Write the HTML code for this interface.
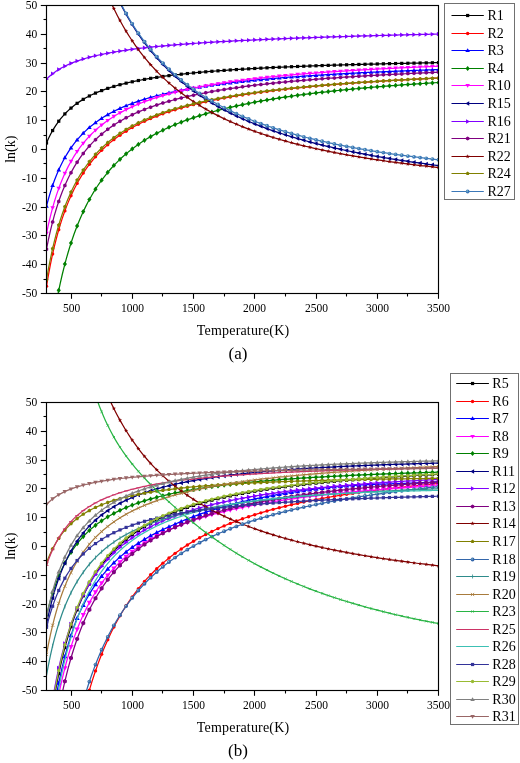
<!DOCTYPE html><html><head><meta charset="utf-8"><style>html,body{margin:0;padding:0;background:#fff;width:520px;height:763px;overflow:hidden}svg{display:block}</style></head><body>
<svg width="520" height="763" viewBox="0 0 520 763" style="font-family:'Liberation Serif','Times New Roman',serif">
<defs><clipPath id="clipa"><rect x="46.5" y="5.5" width="392.0" height="288.0"/></clipPath></defs>
<g clip-path="url(#clipa)">
<polyline points="46.50,143.00 48.47,138.56 50.44,134.56 52.41,130.92 54.38,127.60 56.35,124.57 58.32,121.78 60.29,119.20 62.26,116.82 64.23,114.61 66.20,112.55 68.17,110.64 70.14,108.84 72.11,107.16 74.08,105.58 76.05,104.10 78.02,102.70 79.99,101.38 81.96,100.13 83.93,98.95 85.90,97.82 87.87,96.76 89.84,95.74 91.81,94.78 93.78,93.86 95.75,92.98 97.72,92.14 99.69,91.33 101.66,90.57 103.63,89.83 105.60,89.12 107.57,88.44 109.54,87.79 111.51,87.17 113.47,86.56 115.44,85.98 117.41,85.42 119.38,84.88 121.35,84.36 123.32,83.86 125.29,83.37 127.26,82.90 129.23,82.45 131.20,82.01 133.17,81.58 135.14,81.17 137.11,80.77 139.08,80.38 141.05,80.01 143.02,79.64 144.99,79.29 146.96,78.94 148.93,78.61 150.90,78.28 152.87,77.97 154.84,77.66 156.81,77.36 158.78,77.07 160.75,76.78 162.72,76.50 164.69,76.23 166.66,75.97 168.63,75.71 170.60,75.46 172.57,75.22 174.54,74.98 176.51,74.74 178.48,74.52 180.45,74.29 182.42,74.08 184.39,73.86 186.36,73.65 188.33,73.45 190.30,73.25 192.27,73.06 194.24,72.86 196.21,72.68 198.18,72.49 200.15,72.31 202.12,72.14 204.09,71.97 206.06,71.80 208.03,71.63 210.00,71.47 211.97,71.31 213.94,71.15 215.91,71.00 217.88,70.85 219.85,70.70 221.82,70.56 223.79,70.42 225.76,70.28 227.73,70.14 229.70,70.00 231.67,69.87 233.64,69.74 235.61,69.61 237.58,69.49 239.55,69.36 241.52,69.24 243.48,69.12 245.45,69.01 247.42,68.89 249.39,68.78 251.36,68.66 253.33,68.55 255.30,68.45 257.27,68.34 259.24,68.23 261.21,68.13 263.18,68.03 265.15,67.93 267.12,67.83 269.09,67.73 271.06,67.64 273.03,67.54 275.00,67.45 276.97,67.36 278.94,67.27 280.91,67.18 282.88,67.09 284.85,67.00 286.82,66.92 288.79,66.83 290.76,66.75 292.73,66.67 294.70,66.59 296.67,66.51 298.64,66.43 300.61,66.35 302.58,66.27 304.55,66.20 306.52,66.12 308.49,66.05 310.46,65.98 312.43,65.91 314.40,65.83 316.37,65.76 318.34,65.70 320.31,65.63 322.28,65.56 324.25,65.49 326.22,65.43 328.19,65.36 330.16,65.30 332.13,65.23 334.10,65.17 336.07,65.11 338.04,65.05 340.01,64.99 341.98,64.93 343.95,64.87 345.92,64.81 347.89,64.75 349.86,64.70 351.83,64.64 353.80,64.58 355.77,64.53 357.74,64.47 359.71,64.42 361.68,64.37 363.65,64.31 365.62,64.26 367.59,64.21 369.56,64.16 371.53,64.11 373.49,64.06 375.46,64.01 377.43,63.96 379.40,63.91 381.37,63.86 383.34,63.82 385.31,63.77 387.28,63.72 389.25,63.68 391.22,63.63 393.19,63.58 395.16,63.54 397.13,63.50 399.10,63.45 401.07,63.41 403.04,63.37 405.01,63.32 406.98,63.28 408.95,63.24 410.92,63.20 412.89,63.16 414.86,63.12 416.83,63.08 418.80,63.04 420.77,63.00 422.74,62.96 424.71,62.92 426.68,62.88 428.65,62.84 430.62,62.81 432.59,62.77 434.56,62.73 436.53,62.69 438.50,62.66" fill="none" stroke="#000000" stroke-width="1.25"/>
<rect x="44.90" y="141.40" width="3.20" height="3.20" fill="#000000"/>
<rect x="51.02" y="128.94" width="3.20" height="3.20" fill="#000000"/>
<rect x="57.15" y="119.60" width="3.20" height="3.20" fill="#000000"/>
<rect x="63.27" y="112.32" width="3.20" height="3.20" fill="#000000"/>
<rect x="69.40" y="106.49" width="3.20" height="3.20" fill="#000000"/>
<rect x="75.53" y="101.72" width="3.20" height="3.20" fill="#000000"/>
<rect x="81.65" y="97.74" width="3.20" height="3.20" fill="#000000"/>
<rect x="87.78" y="94.38" width="3.20" height="3.20" fill="#000000"/>
<rect x="93.90" y="91.48" width="3.20" height="3.20" fill="#000000"/>
<rect x="100.03" y="88.98" width="3.20" height="3.20" fill="#000000"/>
<rect x="106.15" y="86.78" width="3.20" height="3.20" fill="#000000"/>
<rect x="112.28" y="84.84" width="3.20" height="3.20" fill="#000000"/>
<rect x="118.40" y="83.12" width="3.20" height="3.20" fill="#000000"/>
<rect x="124.53" y="81.57" width="3.20" height="3.20" fill="#000000"/>
<rect x="130.65" y="80.18" width="3.20" height="3.20" fill="#000000"/>
<rect x="136.78" y="78.92" width="3.20" height="3.20" fill="#000000"/>
<rect x="142.90" y="77.78" width="3.20" height="3.20" fill="#000000"/>
<rect x="149.03" y="76.73" width="3.20" height="3.20" fill="#000000"/>
<rect x="155.15" y="75.77" width="3.20" height="3.20" fill="#000000"/>
<rect x="161.28" y="74.88" width="3.20" height="3.20" fill="#000000"/>
<rect x="167.40" y="74.07" width="3.20" height="3.20" fill="#000000"/>
<rect x="173.53" y="73.31" width="3.20" height="3.20" fill="#000000"/>
<rect x="179.65" y="72.60" width="3.20" height="3.20" fill="#000000"/>
<rect x="185.78" y="71.95" width="3.20" height="3.20" fill="#000000"/>
<rect x="191.90" y="71.34" width="3.20" height="3.20" fill="#000000"/>
<rect x="198.03" y="70.76" width="3.20" height="3.20" fill="#000000"/>
<rect x="204.15" y="70.22" width="3.20" height="3.20" fill="#000000"/>
<rect x="210.28" y="69.72" width="3.20" height="3.20" fill="#000000"/>
<rect x="216.40" y="69.24" width="3.20" height="3.20" fill="#000000"/>
<rect x="222.53" y="68.79" width="3.20" height="3.20" fill="#000000"/>
<rect x="228.65" y="68.37" width="3.20" height="3.20" fill="#000000"/>
<rect x="234.78" y="67.96" width="3.20" height="3.20" fill="#000000"/>
<rect x="240.90" y="67.58" width="3.20" height="3.20" fill="#000000"/>
<rect x="247.03" y="67.22" width="3.20" height="3.20" fill="#000000"/>
<rect x="253.15" y="66.88" width="3.20" height="3.20" fill="#000000"/>
<rect x="259.27" y="66.55" width="3.20" height="3.20" fill="#000000"/>
<rect x="265.40" y="66.24" width="3.20" height="3.20" fill="#000000"/>
<rect x="271.52" y="65.94" width="3.20" height="3.20" fill="#000000"/>
<rect x="277.65" y="65.65" width="3.20" height="3.20" fill="#000000"/>
<rect x="283.77" y="65.38" width="3.20" height="3.20" fill="#000000"/>
<rect x="289.90" y="65.12" width="3.20" height="3.20" fill="#000000"/>
<rect x="296.02" y="64.87" width="3.20" height="3.20" fill="#000000"/>
<rect x="302.15" y="64.63" width="3.20" height="3.20" fill="#000000"/>
<rect x="308.27" y="64.40" width="3.20" height="3.20" fill="#000000"/>
<rect x="314.40" y="64.18" width="3.20" height="3.20" fill="#000000"/>
<rect x="320.52" y="63.96" width="3.20" height="3.20" fill="#000000"/>
<rect x="326.65" y="63.76" width="3.20" height="3.20" fill="#000000"/>
<rect x="332.77" y="63.56" width="3.20" height="3.20" fill="#000000"/>
<rect x="338.90" y="63.37" width="3.20" height="3.20" fill="#000000"/>
<rect x="345.02" y="63.19" width="3.20" height="3.20" fill="#000000"/>
<rect x="351.15" y="63.01" width="3.20" height="3.20" fill="#000000"/>
<rect x="357.27" y="62.84" width="3.20" height="3.20" fill="#000000"/>
<rect x="363.40" y="62.68" width="3.20" height="3.20" fill="#000000"/>
<rect x="369.52" y="62.52" width="3.20" height="3.20" fill="#000000"/>
<rect x="375.65" y="62.36" width="3.20" height="3.20" fill="#000000"/>
<rect x="381.77" y="62.21" width="3.20" height="3.20" fill="#000000"/>
<rect x="387.90" y="62.07" width="3.20" height="3.20" fill="#000000"/>
<rect x="394.02" y="61.93" width="3.20" height="3.20" fill="#000000"/>
<rect x="400.15" y="61.79" width="3.20" height="3.20" fill="#000000"/>
<rect x="406.27" y="61.66" width="3.20" height="3.20" fill="#000000"/>
<rect x="412.40" y="61.53" width="3.20" height="3.20" fill="#000000"/>
<rect x="418.52" y="61.41" width="3.20" height="3.20" fill="#000000"/>
<rect x="424.65" y="61.29" width="3.20" height="3.20" fill="#000000"/>
<rect x="430.77" y="61.17" width="3.20" height="3.20" fill="#000000"/>
<rect x="436.90" y="61.06" width="3.20" height="3.20" fill="#000000"/>
<polyline points="46.50,286.29 48.47,274.79 50.44,264.40 52.41,254.97 54.38,246.37 56.35,238.50 58.32,231.26 60.29,224.58 62.26,218.41 64.23,212.68 66.20,207.35 68.17,202.37 70.14,197.72 72.11,193.36 74.08,189.27 76.05,185.42 78.02,181.79 79.99,178.37 81.96,175.13 83.93,172.06 85.90,169.15 87.87,166.39 89.84,163.76 91.81,161.25 93.78,158.87 95.75,156.59 97.72,154.41 99.69,152.33 101.66,150.34 103.63,148.43 105.60,146.60 107.57,144.84 109.54,143.15 111.51,141.53 113.47,139.96 115.44,138.46 117.41,137.01 119.38,135.61 121.35,134.26 123.32,132.96 125.29,131.70 127.26,130.48 129.23,129.30 131.20,128.16 133.17,127.06 135.14,125.99 137.11,124.96 139.08,123.95 141.05,122.98 143.02,122.03 144.99,121.11 146.96,120.22 148.93,119.35 150.90,118.51 152.87,117.69 154.84,116.89 156.81,116.11 158.78,115.35 160.75,114.62 162.72,113.90 164.69,113.20 166.66,112.51 168.63,111.85 170.60,111.20 172.57,110.56 174.54,109.94 176.51,109.34 178.48,108.75 180.45,108.17 182.42,107.61 184.39,107.05 186.36,106.51 188.33,105.99 190.30,105.47 192.27,104.96 194.24,104.47 196.21,103.98 198.18,103.51 200.15,103.05 202.12,102.59 204.09,102.14 206.06,101.71 208.03,101.28 210.00,100.86 211.97,100.44 213.94,100.04 215.91,99.64 217.88,99.25 219.85,98.87 221.82,98.50 223.79,98.13 225.76,97.77 227.73,97.41 229.70,97.06 231.67,96.72 233.64,96.38 235.61,96.05 237.58,95.72 239.55,95.40 241.52,95.09 243.48,94.78 245.45,94.48 247.42,94.18 249.39,93.88 251.36,93.59 253.33,93.31 255.30,93.03 257.27,92.75 259.24,92.48 261.21,92.21 263.18,91.95 265.15,91.69 267.12,91.43 269.09,91.18 271.06,90.93 273.03,90.69 275.00,90.44 276.97,90.21 278.94,89.97 280.91,89.74 282.88,89.51 284.85,89.29 286.82,89.07 288.79,88.85 290.76,88.64 292.73,88.42 294.70,88.22 296.67,88.01 298.64,87.81 300.61,87.60 302.58,87.41 304.55,87.21 306.52,87.02 308.49,86.83 310.46,86.64 312.43,86.45 314.40,86.27 316.37,86.09 318.34,85.91 320.31,85.73 322.28,85.56 324.25,85.39 326.22,85.22 328.19,85.05 330.16,84.88 332.13,84.72 334.10,84.56 336.07,84.39 338.04,84.24 340.01,84.08 341.98,83.93 343.95,83.77 345.92,83.62 347.89,83.47 349.86,83.32 351.83,83.18 353.80,83.03 355.77,82.89 357.74,82.75 359.71,82.61 361.68,82.47 363.65,82.34 365.62,82.20 367.59,82.07 369.56,81.93 371.53,81.80 373.49,81.67 375.46,81.55 377.43,81.42 379.40,81.29 381.37,81.17 383.34,81.05 385.31,80.93 387.28,80.80 389.25,80.69 391.22,80.57 393.19,80.45 395.16,80.34 397.13,80.22 399.10,80.11 401.07,80.00 403.04,79.88 405.01,79.77 406.98,79.67 408.95,79.56 410.92,79.45 412.89,79.34 414.86,79.24 416.83,79.14 418.80,79.03 420.77,78.93 422.74,78.83 424.71,78.73 426.68,78.63 428.65,78.53 430.62,78.44 432.59,78.34 434.56,78.24 436.53,78.15 438.50,78.06" fill="none" stroke="#FF0000" stroke-width="1.25"/>
<circle cx="46.50" cy="286.29" r="1.70" fill="#FF0000"/>
<circle cx="52.62" cy="253.99" r="1.70" fill="#FF0000"/>
<circle cx="58.75" cy="229.75" r="1.70" fill="#FF0000"/>
<circle cx="64.88" cy="210.89" r="1.70" fill="#FF0000"/>
<circle cx="71.00" cy="195.78" r="1.70" fill="#FF0000"/>
<circle cx="77.12" cy="183.41" r="1.70" fill="#FF0000"/>
<circle cx="83.25" cy="173.10" r="1.70" fill="#FF0000"/>
<circle cx="89.38" cy="164.36" r="1.70" fill="#FF0000"/>
<circle cx="95.50" cy="156.87" r="1.70" fill="#FF0000"/>
<circle cx="101.62" cy="150.37" r="1.70" fill="#FF0000"/>
<circle cx="107.75" cy="144.68" r="1.70" fill="#FF0000"/>
<circle cx="113.88" cy="139.65" r="1.70" fill="#FF0000"/>
<circle cx="120.00" cy="135.18" r="1.70" fill="#FF0000"/>
<circle cx="126.12" cy="131.18" r="1.70" fill="#FF0000"/>
<circle cx="132.25" cy="127.57" r="1.70" fill="#FF0000"/>
<circle cx="138.38" cy="124.31" r="1.70" fill="#FF0000"/>
<circle cx="144.50" cy="121.34" r="1.70" fill="#FF0000"/>
<circle cx="150.62" cy="118.62" r="1.70" fill="#FF0000"/>
<circle cx="156.75" cy="116.14" r="1.70" fill="#FF0000"/>
<circle cx="162.88" cy="113.84" r="1.70" fill="#FF0000"/>
<circle cx="169.00" cy="111.73" r="1.70" fill="#FF0000"/>
<circle cx="175.12" cy="109.76" r="1.70" fill="#FF0000"/>
<circle cx="181.25" cy="107.94" r="1.70" fill="#FF0000"/>
<circle cx="187.38" cy="106.24" r="1.70" fill="#FF0000"/>
<circle cx="193.50" cy="104.65" r="1.70" fill="#FF0000"/>
<circle cx="199.62" cy="103.17" r="1.70" fill="#FF0000"/>
<circle cx="205.75" cy="101.77" r="1.70" fill="#FF0000"/>
<circle cx="211.88" cy="100.46" r="1.70" fill="#FF0000"/>
<circle cx="218.00" cy="99.23" r="1.70" fill="#FF0000"/>
<circle cx="224.12" cy="98.07" r="1.70" fill="#FF0000"/>
<circle cx="230.25" cy="96.96" r="1.70" fill="#FF0000"/>
<circle cx="236.38" cy="95.92" r="1.70" fill="#FF0000"/>
<circle cx="242.50" cy="94.93" r="1.70" fill="#FF0000"/>
<circle cx="248.62" cy="94.00" r="1.70" fill="#FF0000"/>
<circle cx="254.75" cy="93.10" r="1.70" fill="#FF0000"/>
<circle cx="260.88" cy="92.26" r="1.70" fill="#FF0000"/>
<circle cx="267.00" cy="91.45" r="1.70" fill="#FF0000"/>
<circle cx="273.12" cy="90.67" r="1.70" fill="#FF0000"/>
<circle cx="279.25" cy="89.94" r="1.70" fill="#FF0000"/>
<circle cx="285.38" cy="89.23" r="1.70" fill="#FF0000"/>
<circle cx="291.50" cy="88.56" r="1.70" fill="#FF0000"/>
<circle cx="297.62" cy="87.91" r="1.70" fill="#FF0000"/>
<circle cx="303.75" cy="87.29" r="1.70" fill="#FF0000"/>
<circle cx="309.88" cy="86.69" r="1.70" fill="#FF0000"/>
<circle cx="316.00" cy="86.12" r="1.70" fill="#FF0000"/>
<circle cx="322.12" cy="85.57" r="1.70" fill="#FF0000"/>
<circle cx="328.25" cy="85.04" r="1.70" fill="#FF0000"/>
<circle cx="334.38" cy="84.53" r="1.70" fill="#FF0000"/>
<circle cx="340.50" cy="84.04" r="1.70" fill="#FF0000"/>
<circle cx="346.62" cy="83.57" r="1.70" fill="#FF0000"/>
<circle cx="352.75" cy="83.11" r="1.70" fill="#FF0000"/>
<circle cx="358.88" cy="82.67" r="1.70" fill="#FF0000"/>
<circle cx="365.00" cy="82.24" r="1.70" fill="#FF0000"/>
<circle cx="371.12" cy="81.83" r="1.70" fill="#FF0000"/>
<circle cx="377.25" cy="81.43" r="1.70" fill="#FF0000"/>
<circle cx="383.38" cy="81.04" r="1.70" fill="#FF0000"/>
<circle cx="389.50" cy="80.67" r="1.70" fill="#FF0000"/>
<circle cx="395.62" cy="80.31" r="1.70" fill="#FF0000"/>
<circle cx="401.75" cy="79.96" r="1.70" fill="#FF0000"/>
<circle cx="407.88" cy="79.62" r="1.70" fill="#FF0000"/>
<circle cx="414.00" cy="79.29" r="1.70" fill="#FF0000"/>
<circle cx="420.12" cy="78.96" r="1.70" fill="#FF0000"/>
<circle cx="426.25" cy="78.65" r="1.70" fill="#FF0000"/>
<circle cx="432.38" cy="78.35" r="1.70" fill="#FF0000"/>
<circle cx="438.50" cy="78.06" r="1.70" fill="#FF0000"/>
<polyline points="46.50,206.14 48.47,198.76 50.44,192.09 52.41,186.03 54.38,180.50 56.35,175.44 58.32,170.78 60.29,166.48 62.26,162.49 64.23,158.80 66.20,155.35 68.17,152.14 70.14,149.13 72.11,146.31 74.08,143.66 76.05,141.17 78.02,138.81 79.99,136.59 81.96,134.49 83.93,132.49 85.90,130.60 87.87,128.80 89.84,127.09 91.81,125.46 93.78,123.90 95.75,122.41 97.72,120.99 99.69,119.63 101.66,118.33 103.63,117.08 105.60,115.88 107.57,114.73 109.54,113.62 111.51,112.55 113.47,111.52 115.44,110.54 117.41,109.58 119.38,108.66 121.35,107.77 123.32,106.91 125.29,106.08 127.26,105.28 129.23,104.50 131.20,103.75 133.17,103.02 135.14,102.31 137.11,101.62 139.08,100.96 141.05,100.31 143.02,99.68 144.99,99.07 146.96,98.48 148.93,97.90 150.90,97.34 152.87,96.79 154.84,96.26 156.81,95.74 158.78,95.24 160.75,94.75 162.72,94.27 164.69,93.80 166.66,93.34 168.63,92.89 170.60,92.46 172.57,92.03 174.54,91.62 176.51,91.21 178.48,90.81 180.45,90.42 182.42,90.04 184.39,89.67 186.36,89.31 188.33,88.95 190.30,88.60 192.27,88.26 194.24,87.93 196.21,87.60 198.18,87.28 200.15,86.97 202.12,86.66 204.09,86.35 206.06,86.06 208.03,85.77 210.00,85.48 211.97,85.20 213.94,84.93 215.91,84.65 217.88,84.39 219.85,84.13 221.82,83.87 223.79,83.62 225.76,83.37 227.73,83.13 229.70,82.89 231.67,82.66 233.64,82.43 235.61,82.20 237.58,81.98 239.55,81.76 241.52,81.54 243.48,81.33 245.45,81.12 247.42,80.91 249.39,80.71 251.36,80.51 253.33,80.31 255.30,80.12 257.27,79.93 259.24,79.74 261.21,79.56 263.18,79.38 265.15,79.20 267.12,79.02 269.09,78.84 271.06,78.67 273.03,78.50 275.00,78.33 276.97,78.17 278.94,78.01 280.91,77.85 282.88,77.69 284.85,77.53 286.82,77.38 288.79,77.23 290.76,77.08 292.73,76.93 294.70,76.78 296.67,76.64 298.64,76.50 300.61,76.35 302.58,76.22 304.55,76.08 306.52,75.94 308.49,75.81 310.46,75.68 312.43,75.55 314.40,75.42 316.37,75.29 318.34,75.16 320.31,75.04 322.28,74.92 324.25,74.80 326.22,74.68 328.19,74.56 330.16,74.44 332.13,74.32 334.10,74.21 336.07,74.10 338.04,73.98 340.01,73.87 341.98,73.76 343.95,73.65 345.92,73.55 347.89,73.44 349.86,73.34 351.83,73.23 353.80,73.13 355.77,73.03 357.74,72.93 359.71,72.83 361.68,72.73 363.65,72.63 365.62,72.53 367.59,72.44 369.56,72.34 371.53,72.25 373.49,72.16 375.46,72.07 377.43,71.98 379.40,71.89 381.37,71.80 383.34,71.71 385.31,71.62 387.28,71.53 389.25,71.45 391.22,71.36 393.19,71.28 395.16,71.20 397.13,71.11 399.10,71.03 401.07,70.95 403.04,70.87 405.01,70.79 406.98,70.71 408.95,70.63 410.92,70.56 412.89,70.48 414.86,70.40 416.83,70.33 418.80,70.25 420.77,70.18 422.74,70.11 424.71,70.03 426.68,69.96 428.65,69.89 430.62,69.82 432.59,69.75 434.56,69.68 436.53,69.61 438.50,69.54" fill="none" stroke="#0000FF" stroke-width="1.25"/>
<path d="M46.50,203.84L48.80,207.74L44.20,207.74Z" fill="#0000FF"/>
<path d="M52.62,183.10L54.92,187.00L50.33,187.00Z" fill="#0000FF"/>
<path d="M58.75,167.51L61.05,171.41L56.45,171.41Z" fill="#0000FF"/>
<path d="M64.88,155.34L67.17,159.24L62.58,159.24Z" fill="#0000FF"/>
<path d="M71.00,145.58L73.30,149.48L68.70,149.48Z" fill="#0000FF"/>
<path d="M77.12,137.56L79.42,141.46L74.83,141.46Z" fill="#0000FF"/>
<path d="M83.25,130.87L85.55,134.77L80.95,134.77Z" fill="#0000FF"/>
<path d="M89.38,125.18L91.67,129.08L87.08,129.08Z" fill="#0000FF"/>
<path d="M95.50,120.30L97.80,124.20L93.20,124.20Z" fill="#0000FF"/>
<path d="M101.62,116.05L103.92,119.95L99.33,119.95Z" fill="#0000FF"/>
<path d="M107.75,112.32L110.05,116.22L105.45,116.22Z" fill="#0000FF"/>
<path d="M113.88,109.02L116.17,112.92L111.58,112.92Z" fill="#0000FF"/>
<path d="M120.00,106.08L122.30,109.98L117.70,109.98Z" fill="#0000FF"/>
<path d="M126.12,103.44L128.43,107.34L123.83,107.34Z" fill="#0000FF"/>
<path d="M132.25,101.06L134.55,104.96L129.95,104.96Z" fill="#0000FF"/>
<path d="M138.38,98.90L140.68,102.80L136.07,102.80Z" fill="#0000FF"/>
<path d="M144.50,96.92L146.80,100.82L142.20,100.82Z" fill="#0000FF"/>
<path d="M150.62,95.12L152.93,99.02L148.32,99.02Z" fill="#0000FF"/>
<path d="M156.75,93.46L159.05,97.36L154.45,97.36Z" fill="#0000FF"/>
<path d="M162.88,91.93L165.18,95.83L160.57,95.83Z" fill="#0000FF"/>
<path d="M169.00,90.51L171.30,94.41L166.70,94.41Z" fill="#0000FF"/>
<path d="M175.12,89.19L177.43,93.09L172.82,93.09Z" fill="#0000FF"/>
<path d="M181.25,87.97L183.55,91.87L178.95,91.87Z" fill="#0000FF"/>
<path d="M187.38,86.82L189.68,90.72L185.07,90.72Z" fill="#0000FF"/>
<path d="M193.50,85.75L195.80,89.65L191.20,89.65Z" fill="#0000FF"/>
<path d="M199.62,84.75L201.93,88.65L197.32,88.65Z" fill="#0000FF"/>
<path d="M205.75,83.80L208.05,87.70L203.45,87.70Z" fill="#0000FF"/>
<path d="M211.88,82.91L214.18,86.81L209.57,86.81Z" fill="#0000FF"/>
<path d="M218.00,82.07L220.30,85.97L215.70,85.97Z" fill="#0000FF"/>
<path d="M224.12,81.28L226.43,85.18L221.82,85.18Z" fill="#0000FF"/>
<path d="M230.25,80.53L232.55,84.43L227.95,84.43Z" fill="#0000FF"/>
<path d="M236.38,79.81L238.68,83.71L234.07,83.71Z" fill="#0000FF"/>
<path d="M242.50,79.13L244.80,83.03L240.20,83.03Z" fill="#0000FF"/>
<path d="M248.62,78.49L250.93,82.39L246.32,82.39Z" fill="#0000FF"/>
<path d="M254.75,77.88L257.05,81.78L252.45,81.78Z" fill="#0000FF"/>
<path d="M260.88,77.29L263.18,81.19L258.57,81.19Z" fill="#0000FF"/>
<path d="M267.00,76.73L269.30,80.63L264.70,80.63Z" fill="#0000FF"/>
<path d="M273.12,76.19L275.43,80.09L270.82,80.09Z" fill="#0000FF"/>
<path d="M279.25,75.68L281.55,79.58L276.95,79.58Z" fill="#0000FF"/>
<path d="M285.38,75.19L287.68,79.09L283.07,79.09Z" fill="#0000FF"/>
<path d="M291.50,74.72L293.80,78.62L289.20,78.62Z" fill="#0000FF"/>
<path d="M297.62,74.27L299.93,78.17L295.32,78.17Z" fill="#0000FF"/>
<path d="M303.75,73.83L306.05,77.73L301.45,77.73Z" fill="#0000FF"/>
<path d="M309.88,73.42L312.18,77.32L307.57,77.32Z" fill="#0000FF"/>
<path d="M316.00,73.01L318.30,76.91L313.70,76.91Z" fill="#0000FF"/>
<path d="M322.12,72.63L324.43,76.53L319.82,76.53Z" fill="#0000FF"/>
<path d="M328.25,72.25L330.55,76.15L325.95,76.15Z" fill="#0000FF"/>
<path d="M334.38,71.89L336.68,75.79L332.07,75.79Z" fill="#0000FF"/>
<path d="M340.50,71.54L342.80,75.44L338.20,75.44Z" fill="#0000FF"/>
<path d="M346.62,71.21L348.93,75.11L344.32,75.11Z" fill="#0000FF"/>
<path d="M352.75,70.88L355.05,74.78L350.45,74.78Z" fill="#0000FF"/>
<path d="M358.88,70.57L361.18,74.47L356.57,74.47Z" fill="#0000FF"/>
<path d="M365.00,70.26L367.30,74.16L362.70,74.16Z" fill="#0000FF"/>
<path d="M371.12,69.97L373.43,73.87L368.82,73.87Z" fill="#0000FF"/>
<path d="M377.25,69.68L379.55,73.58L374.95,73.58Z" fill="#0000FF"/>
<path d="M383.38,69.41L385.68,73.31L381.07,73.31Z" fill="#0000FF"/>
<path d="M389.50,69.14L391.80,73.04L387.20,73.04Z" fill="#0000FF"/>
<path d="M395.62,68.88L397.93,72.78L393.32,72.78Z" fill="#0000FF"/>
<path d="M401.75,68.62L404.05,72.52L399.45,72.52Z" fill="#0000FF"/>
<path d="M407.88,68.38L410.18,72.28L405.57,72.28Z" fill="#0000FF"/>
<path d="M414.00,68.14L416.30,72.04L411.70,72.04Z" fill="#0000FF"/>
<path d="M420.12,67.90L422.43,71.80L417.82,71.80Z" fill="#0000FF"/>
<path d="M426.25,67.68L428.55,71.58L423.95,71.58Z" fill="#0000FF"/>
<path d="M432.38,67.46L434.68,71.36L430.07,71.36Z" fill="#0000FF"/>
<path d="M438.50,67.24L440.80,71.14L436.20,71.14Z" fill="#0000FF"/>
<polyline points="46.50,369.10 48.47,353.06 50.44,338.57 52.41,325.42 54.38,313.43 56.35,302.46 58.32,292.38 60.29,283.09 62.26,274.50 64.23,266.53 66.20,259.12 68.17,252.21 70.14,245.75 72.11,239.70 74.08,234.02 76.05,228.68 78.02,223.65 79.99,218.91 81.96,214.42 83.93,210.17 85.90,206.14 87.87,202.32 89.84,198.69 91.81,195.23 93.78,191.93 95.75,188.79 97.72,185.78 99.69,182.91 101.66,180.16 103.63,177.53 105.60,175.01 107.57,172.59 109.54,170.26 111.51,168.03 113.47,165.88 115.44,163.81 117.41,161.82 119.38,159.90 121.35,158.05 123.32,156.26 125.29,154.53 127.26,152.86 129.23,151.25 131.20,149.69 133.17,148.18 135.14,146.72 137.11,145.30 139.08,143.93 141.05,142.60 143.02,141.30 144.99,140.05 146.96,138.83 148.93,137.65 150.90,136.50 152.87,135.38 154.84,134.29 156.81,133.23 158.78,132.20 160.75,131.20 162.72,130.22 164.69,129.27 166.66,128.34 168.63,127.44 170.60,126.56 172.57,125.70 174.54,124.86 176.51,124.04 178.48,123.23 180.45,122.45 182.42,121.69 184.39,120.94 186.36,120.21 188.33,119.50 190.30,118.80 192.27,118.12 194.24,117.45 196.21,116.80 198.18,116.16 200.15,115.53 202.12,114.91 204.09,114.31 206.06,113.72 208.03,113.15 210.00,112.58 211.97,112.03 213.94,111.48 215.91,110.95 217.88,110.43 219.85,109.91 221.82,109.41 223.79,108.92 225.76,108.43 227.73,107.96 229.70,107.49 231.67,107.03 233.64,106.58 235.61,106.14 237.58,105.70 239.55,105.27 241.52,104.85 243.48,104.44 245.45,104.03 247.42,103.63 249.39,103.24 251.36,102.86 253.33,102.48 255.30,102.10 257.27,101.73 259.24,101.37 261.21,101.02 263.18,100.67 265.15,100.32 267.12,99.98 269.09,99.65 271.06,99.32 273.03,98.99 275.00,98.67 276.97,98.36 278.94,98.05 280.91,97.74 282.88,97.44 284.85,97.15 286.82,96.85 288.79,96.57 290.76,96.28 292.73,96.00 294.70,95.73 296.67,95.45 298.64,95.18 300.61,94.92 302.58,94.66 304.55,94.40 306.52,94.15 308.49,93.90 310.46,93.65 312.43,93.40 314.40,93.16 316.37,92.93 318.34,92.69 320.31,92.46 322.28,92.23 324.25,92.01 326.22,91.78 328.19,91.56 330.16,91.34 332.13,91.13 334.10,90.92 336.07,90.71 338.04,90.50 340.01,90.30 341.98,90.10 343.95,89.90 345.92,89.70 347.89,89.50 349.86,89.31 351.83,89.12 353.80,88.93 355.77,88.75 357.74,88.56 359.71,88.38 361.68,88.20 363.65,88.03 365.62,87.85 367.59,87.68 369.56,87.51 371.53,87.34 373.49,87.17 375.46,87.00 377.43,86.84 379.40,86.68 381.37,86.51 383.34,86.36 385.31,86.20 387.28,86.04 389.25,85.89 391.22,85.74 393.19,85.59 395.16,85.44 397.13,85.29 399.10,85.14 401.07,85.00 403.04,84.86 405.01,84.71 406.98,84.57 408.95,84.44 410.92,84.30 412.89,84.16 414.86,84.03 416.83,83.89 418.80,83.76 420.77,83.63 422.74,83.50 424.71,83.37 426.68,83.25 428.65,83.12 430.62,83.00 432.59,82.87 434.56,82.75 436.53,82.63 438.50,82.51" fill="none" stroke="#008000" stroke-width="1.25"/>
<path d="M58.75,287.68L60.85,290.28L58.75,292.88L56.65,290.28Z" fill="#008000"/>
<path d="M64.88,261.44L66.97,264.04L64.88,266.64L62.77,264.04Z" fill="#008000"/>
<path d="M71.00,240.45L73.10,243.05L71.00,245.65L68.90,243.05Z" fill="#008000"/>
<path d="M77.12,223.30L79.22,225.90L77.12,228.50L75.03,225.90Z" fill="#008000"/>
<path d="M83.25,209.01L85.35,211.61L83.25,214.21L81.15,211.61Z" fill="#008000"/>
<path d="M89.38,196.92L91.47,199.52L89.38,202.12L87.28,199.52Z" fill="#008000"/>
<path d="M95.50,186.57L97.60,189.17L95.50,191.77L93.40,189.17Z" fill="#008000"/>
<path d="M101.62,177.61L103.72,180.21L101.62,182.81L99.53,180.21Z" fill="#008000"/>
<path d="M107.75,169.77L109.85,172.37L107.75,174.97L105.65,172.37Z" fill="#008000"/>
<path d="M113.88,162.85L115.97,165.45L113.88,168.05L111.78,165.45Z" fill="#008000"/>
<path d="M120.00,156.71L122.10,159.31L120.00,161.91L117.90,159.31Z" fill="#008000"/>
<path d="M126.12,151.22L128.22,153.82L126.12,156.42L124.03,153.82Z" fill="#008000"/>
<path d="M132.25,146.28L134.35,148.88L132.25,151.48L130.15,148.88Z" fill="#008000"/>
<path d="M138.38,141.82L140.47,144.42L138.38,147.02L136.28,144.42Z" fill="#008000"/>
<path d="M144.50,137.76L146.60,140.36L144.50,142.96L142.40,140.36Z" fill="#008000"/>
<path d="M150.62,134.06L152.72,136.66L150.62,139.26L148.53,136.66Z" fill="#008000"/>
<path d="M156.75,130.67L158.85,133.27L156.75,135.87L154.65,133.27Z" fill="#008000"/>
<path d="M162.88,127.55L164.97,130.15L162.88,132.75L160.78,130.15Z" fill="#008000"/>
<path d="M169.00,124.67L171.10,127.27L169.00,129.87L166.90,127.27Z" fill="#008000"/>
<path d="M175.12,122.01L177.22,124.61L175.12,127.21L173.03,124.61Z" fill="#008000"/>
<path d="M181.25,119.54L183.35,122.14L181.25,124.74L179.15,122.14Z" fill="#008000"/>
<path d="M187.38,117.24L189.47,119.84L187.38,122.44L185.28,119.84Z" fill="#008000"/>
<path d="M193.50,115.10L195.60,117.70L193.50,120.30L191.40,117.70Z" fill="#008000"/>
<path d="M199.62,113.09L201.72,115.69L199.62,118.29L197.53,115.69Z" fill="#008000"/>
<path d="M205.75,111.22L207.85,113.82L205.75,116.42L203.65,113.82Z" fill="#008000"/>
<path d="M211.88,109.45L213.97,112.05L211.88,114.65L209.78,112.05Z" fill="#008000"/>
<path d="M218.00,107.80L220.10,110.40L218.00,113.00L215.90,110.40Z" fill="#008000"/>
<path d="M224.12,106.23L226.22,108.83L224.12,111.43L222.03,108.83Z" fill="#008000"/>
<path d="M230.25,104.76L232.35,107.36L230.25,109.96L228.15,107.36Z" fill="#008000"/>
<path d="M236.38,103.36L238.47,105.96L236.38,108.56L234.28,105.96Z" fill="#008000"/>
<path d="M242.50,102.05L244.60,104.65L242.50,107.25L240.40,104.65Z" fill="#008000"/>
<path d="M248.62,100.79L250.72,103.39L248.62,105.99L246.53,103.39Z" fill="#008000"/>
<path d="M254.75,99.61L256.85,102.21L254.75,104.81L252.65,102.21Z" fill="#008000"/>
<path d="M260.88,98.48L262.98,101.08L260.88,103.68L258.77,101.08Z" fill="#008000"/>
<path d="M267.00,97.40L269.10,100.00L267.00,102.60L264.90,100.00Z" fill="#008000"/>
<path d="M273.12,96.38L275.23,98.98L273.12,101.58L271.02,98.98Z" fill="#008000"/>
<path d="M279.25,95.40L281.35,98.00L279.25,100.60L277.15,98.00Z" fill="#008000"/>
<path d="M285.38,94.47L287.48,97.07L285.38,99.67L283.27,97.07Z" fill="#008000"/>
<path d="M291.50,93.58L293.60,96.18L291.50,98.78L289.40,96.18Z" fill="#008000"/>
<path d="M297.62,92.72L299.73,95.32L297.62,97.92L295.52,95.32Z" fill="#008000"/>
<path d="M303.75,91.91L305.85,94.51L303.75,97.11L301.65,94.51Z" fill="#008000"/>
<path d="M309.88,91.12L311.98,93.72L309.88,96.32L307.77,93.72Z" fill="#008000"/>
<path d="M316.00,90.37L318.10,92.97L316.00,95.57L313.90,92.97Z" fill="#008000"/>
<path d="M322.12,89.65L324.23,92.25L322.12,94.85L320.02,92.25Z" fill="#008000"/>
<path d="M328.25,88.96L330.35,91.56L328.25,94.16L326.15,91.56Z" fill="#008000"/>
<path d="M334.38,88.29L336.48,90.89L334.38,93.49L332.27,90.89Z" fill="#008000"/>
<path d="M340.50,87.65L342.60,90.25L340.50,92.85L338.40,90.25Z" fill="#008000"/>
<path d="M346.62,87.03L348.73,89.63L346.62,92.23L344.52,89.63Z" fill="#008000"/>
<path d="M352.75,86.43L354.85,89.03L352.75,91.63L350.65,89.03Z" fill="#008000"/>
<path d="M358.88,85.86L360.98,88.46L358.88,91.06L356.77,88.46Z" fill="#008000"/>
<path d="M365.00,85.30L367.10,87.90L365.00,90.50L362.90,87.90Z" fill="#008000"/>
<path d="M371.12,84.77L373.23,87.37L371.12,89.97L369.02,87.37Z" fill="#008000"/>
<path d="M377.25,84.25L379.35,86.85L377.25,89.45L375.15,86.85Z" fill="#008000"/>
<path d="M383.38,83.75L385.48,86.35L383.38,88.95L381.27,86.35Z" fill="#008000"/>
<path d="M389.50,83.27L391.60,85.87L389.50,88.47L387.40,85.87Z" fill="#008000"/>
<path d="M395.62,82.80L397.73,85.40L395.62,88.00L393.52,85.40Z" fill="#008000"/>
<path d="M401.75,82.35L403.85,84.95L401.75,87.55L399.65,84.95Z" fill="#008000"/>
<path d="M407.88,81.91L409.98,84.51L407.88,87.11L405.77,84.51Z" fill="#008000"/>
<path d="M414.00,81.49L416.10,84.09L414.00,86.69L411.90,84.09Z" fill="#008000"/>
<path d="M420.12,81.08L422.23,83.68L420.12,86.28L418.02,83.68Z" fill="#008000"/>
<path d="M426.25,80.68L428.35,83.28L426.25,85.88L424.15,83.28Z" fill="#008000"/>
<path d="M432.38,80.29L434.48,82.89L432.38,85.49L430.27,82.89Z" fill="#008000"/>
<path d="M438.50,79.91L440.60,82.51L438.50,85.11L436.40,82.51Z" fill="#008000"/>
<polyline points="46.50,233.43 48.47,224.29 50.44,216.03 52.41,208.53 54.38,201.69 56.35,195.42 58.32,189.66 60.29,184.34 62.26,179.42 64.23,174.85 66.20,170.60 68.17,166.64 70.14,162.93 72.11,159.45 74.08,156.18 76.05,153.11 78.02,150.21 79.99,147.47 81.96,144.89 83.93,142.43 85.90,140.10 87.87,137.89 89.84,135.79 91.81,133.78 93.78,131.87 95.75,130.05 97.72,128.30 99.69,126.64 101.66,125.04 103.63,123.51 105.60,122.04 107.57,120.63 109.54,119.27 111.51,117.97 113.47,116.71 115.44,115.50 117.41,114.33 119.38,113.21 121.35,112.12 123.32,111.08 125.29,110.06 127.26,109.08 129.23,108.13 131.20,107.22 133.17,106.33 135.14,105.47 137.11,104.63 139.08,103.82 141.05,103.03 143.02,102.27 144.99,101.53 146.96,100.81 148.93,100.11 150.90,99.42 152.87,98.76 154.84,98.11 156.81,97.49 158.78,96.87 160.75,96.28 162.72,95.69 164.69,95.13 166.66,94.57 168.63,94.03 170.60,93.51 172.57,92.99 174.54,92.49 176.51,92.00 178.48,91.52 180.45,91.05 182.42,90.59 184.39,90.14 186.36,89.70 188.33,89.28 190.30,88.85 192.27,88.44 194.24,88.04 196.21,87.65 198.18,87.26 200.15,86.88 202.12,86.51 204.09,86.15 206.06,85.79 208.03,85.44 210.00,85.10 211.97,84.76 213.94,84.43 215.91,84.11 217.88,83.79 219.85,83.48 221.82,83.17 223.79,82.87 225.76,82.57 227.73,82.28 229.70,82.00 231.67,81.72 233.64,81.44 235.61,81.17 237.58,80.90 239.55,80.64 241.52,80.38 243.48,80.13 245.45,79.88 247.42,79.63 249.39,79.39 251.36,79.15 253.33,78.92 255.30,78.69 257.27,78.46 259.24,78.24 261.21,78.02 263.18,77.80 265.15,77.59 267.12,77.38 269.09,77.17 271.06,76.96 273.03,76.76 275.00,76.56 276.97,76.37 278.94,76.18 280.91,75.98 282.88,75.80 284.85,75.61 286.82,75.43 288.79,75.25 290.76,75.07 292.73,74.90 294.70,74.72 296.67,74.55 298.64,74.38 300.61,74.22 302.58,74.05 304.55,73.89 306.52,73.73 308.49,73.57 310.46,73.42 312.43,73.27 314.40,73.11 316.37,72.96 318.34,72.81 320.31,72.67 322.28,72.52 324.25,72.38 326.22,72.24 328.19,72.10 330.16,71.96 332.13,71.83 334.10,71.69 336.07,71.56 338.04,71.43 340.01,71.30 341.98,71.17 343.95,71.04 345.92,70.91 347.89,70.79 349.86,70.67 351.83,70.54 353.80,70.42 355.77,70.30 357.74,70.19 359.71,70.07 361.68,69.96 363.65,69.84 365.62,69.73 367.59,69.62 369.56,69.51 371.53,69.40 373.49,69.29 375.46,69.18 377.43,69.08 379.40,68.97 381.37,68.87 383.34,68.76 385.31,68.66 387.28,68.56 389.25,68.46 391.22,68.36 393.19,68.26 395.16,68.17 397.13,68.07 399.10,67.98 401.07,67.88 403.04,67.79 405.01,67.70 406.98,67.61 408.95,67.51 410.92,67.42 412.89,67.34 414.86,67.25 416.83,67.16 418.80,67.07 420.77,66.99 422.74,66.90 424.71,66.82 426.68,66.74 428.65,66.65 430.62,66.57 432.59,66.49 434.56,66.41 436.53,66.33 438.50,66.25" fill="none" stroke="#FF00FF" stroke-width="1.25"/>
<path d="M46.50,235.73L48.80,231.83L44.20,231.83Z" fill="#FF00FF"/>
<path d="M52.62,210.05L54.92,206.15L50.33,206.15Z" fill="#FF00FF"/>
<path d="M58.75,190.76L61.05,186.86L56.45,186.86Z" fill="#FF00FF"/>
<path d="M64.88,175.73L67.17,171.83L62.58,171.83Z" fill="#FF00FF"/>
<path d="M71.00,163.68L73.30,159.78L68.70,159.78Z" fill="#FF00FF"/>
<path d="M77.12,153.80L79.42,149.90L74.83,149.90Z" fill="#FF00FF"/>
<path d="M83.25,145.56L85.55,141.66L80.95,141.66Z" fill="#FF00FF"/>
<path d="M89.38,138.57L91.67,134.67L87.08,134.67Z" fill="#FF00FF"/>
<path d="M95.50,132.57L97.80,128.67L93.20,128.67Z" fill="#FF00FF"/>
<path d="M101.62,127.36L103.92,123.46L99.33,123.46Z" fill="#FF00FF"/>
<path d="M107.75,122.80L110.05,118.90L105.45,118.90Z" fill="#FF00FF"/>
<path d="M113.88,118.76L116.17,114.86L111.58,114.86Z" fill="#FF00FF"/>
<path d="M120.00,115.17L122.30,111.27L117.70,111.27Z" fill="#FF00FF"/>
<path d="M126.12,111.95L128.43,108.05L123.83,108.05Z" fill="#FF00FF"/>
<path d="M132.25,109.04L134.55,105.14L129.95,105.14Z" fill="#FF00FF"/>
<path d="M138.38,106.41L140.68,102.51L136.07,102.51Z" fill="#FF00FF"/>
<path d="M144.50,104.01L146.80,100.11L142.20,100.11Z" fill="#FF00FF"/>
<path d="M150.62,101.82L152.93,97.92L148.32,97.92Z" fill="#FF00FF"/>
<path d="M156.75,99.81L159.05,95.91L154.45,95.91Z" fill="#FF00FF"/>
<path d="M162.88,97.95L165.18,94.05L160.57,94.05Z" fill="#FF00FF"/>
<path d="M169.00,96.23L171.30,92.33L166.70,92.33Z" fill="#FF00FF"/>
<path d="M175.12,94.64L177.43,90.74L172.82,90.74Z" fill="#FF00FF"/>
<path d="M181.25,93.16L183.55,89.26L178.95,89.26Z" fill="#FF00FF"/>
<path d="M187.38,91.78L189.68,87.88L185.07,87.88Z" fill="#FF00FF"/>
<path d="M193.50,90.49L195.80,86.59L191.20,86.59Z" fill="#FF00FF"/>
<path d="M199.62,89.28L201.93,85.38L197.32,85.38Z" fill="#FF00FF"/>
<path d="M205.75,88.15L208.05,84.25L203.45,84.25Z" fill="#FF00FF"/>
<path d="M211.88,87.08L214.18,83.18L209.57,83.18Z" fill="#FF00FF"/>
<path d="M218.00,86.07L220.30,82.17L215.70,82.17Z" fill="#FF00FF"/>
<path d="M224.12,85.12L226.43,81.22L221.82,81.22Z" fill="#FF00FF"/>
<path d="M230.25,84.22L232.55,80.32L227.95,80.32Z" fill="#FF00FF"/>
<path d="M236.38,83.36L238.68,79.46L234.07,79.46Z" fill="#FF00FF"/>
<path d="M242.50,82.55L244.80,78.65L240.20,78.65Z" fill="#FF00FF"/>
<path d="M248.62,81.78L250.93,77.88L246.32,77.88Z" fill="#FF00FF"/>
<path d="M254.75,81.05L257.05,77.15L252.45,77.15Z" fill="#FF00FF"/>
<path d="M260.88,80.35L263.18,76.45L258.57,76.45Z" fill="#FF00FF"/>
<path d="M267.00,79.69L269.30,75.79L264.70,75.79Z" fill="#FF00FF"/>
<path d="M273.12,79.05L275.43,75.15L270.82,75.15Z" fill="#FF00FF"/>
<path d="M279.25,78.45L281.55,74.55L276.95,74.55Z" fill="#FF00FF"/>
<path d="M285.38,77.86L287.68,73.96L283.07,73.96Z" fill="#FF00FF"/>
<path d="M291.50,77.31L293.80,73.41L289.20,73.41Z" fill="#FF00FF"/>
<path d="M297.62,76.77L299.93,72.87L295.32,72.87Z" fill="#FF00FF"/>
<path d="M303.75,76.26L306.05,72.36L301.45,72.36Z" fill="#FF00FF"/>
<path d="M309.88,75.77L312.18,71.87L307.57,71.87Z" fill="#FF00FF"/>
<path d="M316.00,75.29L318.30,71.39L313.70,71.39Z" fill="#FF00FF"/>
<path d="M322.12,74.83L324.43,70.93L319.82,70.93Z" fill="#FF00FF"/>
<path d="M328.25,74.40L330.55,70.50L325.95,70.50Z" fill="#FF00FF"/>
<path d="M334.38,73.97L336.68,70.07L332.07,70.07Z" fill="#FF00FF"/>
<path d="M340.50,73.56L342.80,69.66L338.20,69.66Z" fill="#FF00FF"/>
<path d="M346.62,73.17L348.93,69.27L344.32,69.27Z" fill="#FF00FF"/>
<path d="M352.75,72.79L355.05,68.89L350.45,68.89Z" fill="#FF00FF"/>
<path d="M358.88,72.42L361.18,68.52L356.57,68.52Z" fill="#FF00FF"/>
<path d="M365.00,72.06L367.30,68.16L362.70,68.16Z" fill="#FF00FF"/>
<path d="M371.12,71.72L373.43,67.82L368.82,67.82Z" fill="#FF00FF"/>
<path d="M377.25,71.39L379.55,67.49L374.95,67.49Z" fill="#FF00FF"/>
<path d="M383.38,71.06L385.68,67.16L381.07,67.16Z" fill="#FF00FF"/>
<path d="M389.50,70.75L391.80,66.85L387.20,66.85Z" fill="#FF00FF"/>
<path d="M395.62,70.45L397.93,66.55L393.32,66.55Z" fill="#FF00FF"/>
<path d="M401.75,70.15L404.05,66.25L399.45,66.25Z" fill="#FF00FF"/>
<path d="M407.88,69.86L410.18,65.96L405.57,65.96Z" fill="#FF00FF"/>
<path d="M414.00,69.59L416.30,65.69L411.70,65.69Z" fill="#FF00FF"/>
<path d="M420.12,69.32L422.43,65.42L417.82,65.42Z" fill="#FF00FF"/>
<path d="M426.25,69.05L428.55,65.15L423.95,65.15Z" fill="#FF00FF"/>
<path d="M432.38,68.80L434.68,64.90L430.07,64.90Z" fill="#FF00FF"/>
<path d="M438.50,68.55L440.80,64.65L436.20,64.65Z" fill="#FF00FF"/>
<polyline points="46.50,-423.76 48.47,-392.37 50.44,-363.84 52.41,-337.81 54.38,-313.96 56.35,-292.02 58.32,-271.79 60.29,-253.06 62.26,-235.68 64.23,-219.51 66.20,-204.43 68.17,-190.32 70.14,-177.11 72.11,-164.70 74.08,-153.04 76.05,-142.04 78.02,-131.66 79.99,-121.85 81.96,-112.56 83.93,-103.75 85.90,-95.38 87.87,-87.43 89.84,-79.86 91.81,-72.65 93.78,-65.77 95.75,-59.20 97.72,-52.92 99.69,-46.91 101.66,-41.15 103.63,-35.63 105.60,-30.33 107.57,-25.25 109.54,-20.36 111.51,-15.66 113.47,-11.13 115.44,-6.77 117.41,-2.58 119.38,1.48 121.35,5.38 123.32,9.16 125.29,12.80 127.26,16.33 129.23,19.74 131.20,23.04 133.17,26.23 135.14,29.33 137.11,32.33 139.08,35.24 141.05,38.06 143.02,40.80 144.99,43.46 146.96,46.04 148.93,48.55 150.90,50.99 152.87,53.37 154.84,55.67 156.81,57.92 158.78,60.11 160.75,62.24 162.72,64.31 164.69,66.34 166.66,68.31 168.63,70.23 170.60,72.11 172.57,73.94 174.54,75.72 176.51,77.47 178.48,79.17 180.45,80.83 182.42,82.46 184.39,84.04 186.36,85.60 188.33,87.12 190.30,88.60 192.27,90.05 194.24,91.47 196.21,92.86 198.18,94.23 200.15,95.56 202.12,96.87 204.09,98.14 206.06,99.40 208.03,100.63 210.00,101.83 211.97,103.01 213.94,104.17 215.91,105.30 217.88,106.41 219.85,107.50 221.82,108.58 223.79,109.63 225.76,110.66 227.73,111.67 229.70,112.67 231.67,113.64 233.64,114.60 235.61,115.54 237.58,116.47 239.55,117.38 241.52,118.27 243.48,119.15 245.45,120.01 247.42,120.86 249.39,121.70 251.36,122.52 253.33,123.33 255.30,124.12 257.27,124.90 259.24,125.67 261.21,126.43 263.18,127.17 265.15,127.91 267.12,128.63 269.09,129.34 271.06,130.04 273.03,130.73 275.00,131.40 276.97,132.07 278.94,132.73 280.91,133.38 282.88,134.02 284.85,134.65 286.82,135.27 288.79,135.88 290.76,136.48 292.73,137.08 294.70,137.66 296.67,138.24 298.64,138.81 300.61,139.37 302.58,139.92 304.55,140.47 306.52,141.01 308.49,141.54 310.46,142.06 312.43,142.58 314.40,143.09 316.37,143.59 318.34,144.09 320.31,144.58 322.28,145.07 324.25,145.54 326.22,146.02 328.19,146.48 330.16,146.94 332.13,147.40 334.10,147.84 336.07,148.29 338.04,148.73 340.01,149.16 341.98,149.58 343.95,150.01 345.92,150.42 347.89,150.83 349.86,151.24 351.83,151.64 353.80,152.04 355.77,152.43 357.74,152.82 359.71,153.20 361.68,153.58 363.65,153.96 365.62,154.33 367.59,154.69 369.56,155.05 371.53,155.41 373.49,155.77 375.46,156.12 377.43,156.46 379.40,156.80 381.37,157.14 383.34,157.48 385.31,157.81 387.28,158.14 389.25,158.46 391.22,158.78 393.19,159.10 395.16,159.41 397.13,159.72 399.10,160.03 401.07,160.33 403.04,160.63 405.01,160.93 406.98,161.22 408.95,161.52 410.92,161.80 412.89,162.09 414.86,162.37 416.83,162.65 418.80,162.93 420.77,163.20 422.74,163.48 424.71,163.74 426.68,164.01 428.65,164.27 430.62,164.54 432.59,164.79 434.56,165.05 436.53,165.30 438.50,165.56" fill="none" stroke="#000080" stroke-width="1.25"/>
<path d="M117.70,2.71L121.60,0.41L121.60,5.01Z" fill="#000080"/>
<path d="M123.83,14.31L127.72,12.01L127.72,16.61Z" fill="#000080"/>
<path d="M129.95,24.75L133.85,22.45L133.85,27.05Z" fill="#000080"/>
<path d="M136.07,34.20L139.97,31.90L139.97,36.50Z" fill="#000080"/>
<path d="M142.20,42.80L146.10,40.50L146.10,45.10Z" fill="#000080"/>
<path d="M148.32,50.65L152.22,48.35L152.22,52.95Z" fill="#000080"/>
<path d="M154.45,57.85L158.35,55.55L158.35,60.15Z" fill="#000080"/>
<path d="M160.57,64.47L164.47,62.17L164.47,66.77Z" fill="#000080"/>
<path d="M166.70,70.59L170.60,68.29L170.60,72.89Z" fill="#000080"/>
<path d="M172.82,76.24L176.72,73.94L176.72,78.54Z" fill="#000080"/>
<path d="M178.95,81.50L182.85,79.20L182.85,83.80Z" fill="#000080"/>
<path d="M185.07,86.38L188.97,84.08L188.97,88.68Z" fill="#000080"/>
<path d="M191.20,90.94L195.10,88.64L195.10,93.24Z" fill="#000080"/>
<path d="M197.32,95.21L201.22,92.91L201.22,97.51Z" fill="#000080"/>
<path d="M203.45,99.20L207.35,96.90L207.35,101.50Z" fill="#000080"/>
<path d="M209.57,102.95L213.47,100.65L213.47,105.25Z" fill="#000080"/>
<path d="M215.70,106.48L219.60,104.18L219.60,108.78Z" fill="#000080"/>
<path d="M221.82,109.81L225.72,107.51L225.72,112.11Z" fill="#000080"/>
<path d="M227.95,112.94L231.85,110.64L231.85,115.24Z" fill="#000080"/>
<path d="M234.07,115.91L237.97,113.61L237.97,118.21Z" fill="#000080"/>
<path d="M240.20,118.71L244.10,116.41L244.10,121.01Z" fill="#000080"/>
<path d="M246.32,121.37L250.22,119.07L250.22,123.67Z" fill="#000080"/>
<path d="M252.45,123.90L256.35,121.60L256.35,126.20Z" fill="#000080"/>
<path d="M258.57,126.30L262.48,124.00L262.48,128.60Z" fill="#000080"/>
<path d="M264.70,128.58L268.60,126.28L268.60,130.88Z" fill="#000080"/>
<path d="M270.82,130.76L274.73,128.46L274.73,133.06Z" fill="#000080"/>
<path d="M276.95,132.83L280.85,130.53L280.85,135.13Z" fill="#000080"/>
<path d="M283.07,134.81L286.98,132.51L286.98,137.11Z" fill="#000080"/>
<path d="M289.20,136.71L293.10,134.41L293.10,139.01Z" fill="#000080"/>
<path d="M295.32,138.52L299.23,136.22L299.23,140.82Z" fill="#000080"/>
<path d="M301.45,140.25L305.35,137.95L305.35,142.55Z" fill="#000080"/>
<path d="M307.57,141.91L311.48,139.61L311.48,144.21Z" fill="#000080"/>
<path d="M313.70,143.50L317.60,141.20L317.60,145.80Z" fill="#000080"/>
<path d="M319.82,145.03L323.73,142.73L323.73,147.33Z" fill="#000080"/>
<path d="M325.95,146.50L329.85,144.20L329.85,148.80Z" fill="#000080"/>
<path d="M332.07,147.91L335.98,145.61L335.98,150.21Z" fill="#000080"/>
<path d="M338.20,149.26L342.10,146.96L342.10,151.56Z" fill="#000080"/>
<path d="M344.32,150.57L348.23,148.27L348.23,152.87Z" fill="#000080"/>
<path d="M350.45,151.83L354.35,149.53L354.35,154.13Z" fill="#000080"/>
<path d="M356.57,153.04L360.48,150.74L360.48,155.34Z" fill="#000080"/>
<path d="M362.70,154.21L366.60,151.91L366.60,156.51Z" fill="#000080"/>
<path d="M368.82,155.34L372.73,153.04L372.73,157.64Z" fill="#000080"/>
<path d="M374.95,156.43L378.85,154.13L378.85,158.73Z" fill="#000080"/>
<path d="M381.07,157.48L384.98,155.18L384.98,159.78Z" fill="#000080"/>
<path d="M387.20,158.50L391.10,156.20L391.10,160.80Z" fill="#000080"/>
<path d="M393.32,159.48L397.23,157.18L397.23,161.78Z" fill="#000080"/>
<path d="M399.45,160.44L403.35,158.14L403.35,162.74Z" fill="#000080"/>
<path d="M405.57,161.36L409.48,159.06L409.48,163.66Z" fill="#000080"/>
<path d="M411.70,162.25L415.60,159.95L415.60,164.55Z" fill="#000080"/>
<path d="M417.82,163.11L421.73,160.81L421.73,165.41Z" fill="#000080"/>
<path d="M423.95,163.95L427.85,161.65L427.85,166.25Z" fill="#000080"/>
<path d="M430.07,164.77L433.98,162.47L433.98,167.07Z" fill="#000080"/>
<path d="M436.20,165.56L440.10,163.26L440.10,167.86Z" fill="#000080"/>
<polyline points="46.50,79.22 48.47,77.29 50.44,75.53 52.41,73.92 54.38,72.44 56.35,71.07 58.32,69.80 60.29,68.61 62.26,67.51 64.23,66.48 66.20,65.50 68.17,64.59 70.14,63.73 72.11,62.92 74.08,62.14 76.05,61.41 78.02,60.72 79.99,60.06 81.96,59.43 83.93,58.82 85.90,58.25 87.87,57.70 89.84,57.17 91.81,56.66 93.78,56.17 95.75,55.70 97.72,55.25 99.69,54.82 101.66,54.40 103.63,53.99 105.60,53.60 107.57,53.22 109.54,52.85 111.51,52.50 113.47,52.15 115.44,51.82 117.41,51.50 119.38,51.18 121.35,50.88 123.32,50.58 125.29,50.29 127.26,50.01 129.23,49.74 131.20,49.47 133.17,49.21 135.14,48.96 137.11,48.71 139.08,48.47 141.05,48.23 143.02,48.00 144.99,47.77 146.96,47.55 148.93,47.34 150.90,47.13 152.87,46.92 154.84,46.72 156.81,46.52 158.78,46.33 160.75,46.14 162.72,45.95 164.69,45.77 166.66,45.59 168.63,45.41 170.60,45.24 172.57,45.07 174.54,44.90 176.51,44.74 178.48,44.58 180.45,44.42 182.42,44.27 184.39,44.11 186.36,43.96 188.33,43.82 190.30,43.67 192.27,43.53 194.24,43.39 196.21,43.25 198.18,43.11 200.15,42.98 202.12,42.85 204.09,42.72 206.06,42.59 208.03,42.46 210.00,42.34 211.97,42.21 213.94,42.09 215.91,41.97 217.88,41.86 219.85,41.74 221.82,41.63 223.79,41.51 225.76,41.40 227.73,41.29 229.70,41.18 231.67,41.07 233.64,40.97 235.61,40.86 237.58,40.76 239.55,40.66 241.52,40.56 243.48,40.46 245.45,40.36 247.42,40.26 249.39,40.16 251.36,40.07 253.33,39.97 255.30,39.88 257.27,39.79 259.24,39.70 261.21,39.61 263.18,39.52 265.15,39.43 267.12,39.34 269.09,39.26 271.06,39.17 273.03,39.09 275.00,39.00 276.97,38.92 278.94,38.84 280.91,38.76 282.88,38.68 284.85,38.60 286.82,38.52 288.79,38.44 290.76,38.36 292.73,38.29 294.70,38.21 296.67,38.14 298.64,38.06 300.61,37.99 302.58,37.92 304.55,37.84 306.52,37.77 308.49,37.70 310.46,37.63 312.43,37.56 314.40,37.49 316.37,37.42 318.34,37.36 320.31,37.29 322.28,37.22 324.25,37.16 326.22,37.09 328.19,37.02 330.16,36.96 332.13,36.90 334.10,36.83 336.07,36.77 338.04,36.71 340.01,36.64 341.98,36.58 343.95,36.52 345.92,36.46 347.89,36.40 349.86,36.34 351.83,36.28 353.80,36.22 355.77,36.17 357.74,36.11 359.71,36.05 361.68,35.99 363.65,35.94 365.62,35.88 367.59,35.82 369.56,35.77 371.53,35.71 373.49,35.66 375.46,35.61 377.43,35.55 379.40,35.50 381.37,35.44 383.34,35.39 385.31,35.34 387.28,35.29 389.25,35.24 391.22,35.18 393.19,35.13 395.16,35.08 397.13,35.03 399.10,34.98 401.07,34.93 403.04,34.88 405.01,34.84 406.98,34.79 408.95,34.74 410.92,34.69 412.89,34.64 414.86,34.59 416.83,34.55 418.80,34.50 420.77,34.45 422.74,34.41 424.71,34.36 426.68,34.32 428.65,34.27 430.62,34.23 432.59,34.18 434.56,34.14 436.53,34.09 438.50,34.05" fill="none" stroke="#8000FF" stroke-width="1.25"/>
<path d="M48.80,79.22L44.90,76.92L44.90,81.52Z" fill="#8000FF"/>
<path d="M54.92,73.75L51.02,71.45L51.02,76.05Z" fill="#8000FF"/>
<path d="M61.05,69.53L57.15,67.23L57.15,71.83Z" fill="#8000FF"/>
<path d="M67.17,66.15L63.27,63.85L63.27,68.45Z" fill="#8000FF"/>
<path d="M73.30,63.37L69.40,61.07L69.40,65.67Z" fill="#8000FF"/>
<path d="M79.42,61.03L75.53,58.73L75.53,63.33Z" fill="#8000FF"/>
<path d="M85.55,59.03L81.65,56.73L81.65,61.33Z" fill="#8000FF"/>
<path d="M91.67,57.29L87.78,54.99L87.78,59.59Z" fill="#8000FF"/>
<path d="M97.80,55.76L93.90,53.46L93.90,58.06Z" fill="#8000FF"/>
<path d="M103.92,54.40L100.03,52.10L100.03,56.70Z" fill="#8000FF"/>
<path d="M110.05,53.19L106.15,50.89L106.15,55.49Z" fill="#8000FF"/>
<path d="M116.17,52.09L112.28,49.79L112.28,54.39Z" fill="#8000FF"/>
<path d="M122.30,51.09L118.40,48.79L118.40,53.39Z" fill="#8000FF"/>
<path d="M128.43,50.17L124.53,47.87L124.53,52.47Z" fill="#8000FF"/>
<path d="M134.55,49.33L130.65,47.03L130.65,51.63Z" fill="#8000FF"/>
<path d="M140.68,48.55L136.78,46.25L136.78,50.85Z" fill="#8000FF"/>
<path d="M146.80,47.83L142.90,45.53L142.90,50.13Z" fill="#8000FF"/>
<path d="M152.93,47.16L149.03,44.86L149.03,49.46Z" fill="#8000FF"/>
<path d="M159.05,46.53L155.15,44.23L155.15,48.83Z" fill="#8000FF"/>
<path d="M165.18,45.94L161.28,43.64L161.28,48.24Z" fill="#8000FF"/>
<path d="M171.30,45.38L167.40,43.08L167.40,47.68Z" fill="#8000FF"/>
<path d="M177.43,44.86L173.53,42.56L173.53,47.16Z" fill="#8000FF"/>
<path d="M183.55,44.36L179.65,42.06L179.65,46.66Z" fill="#8000FF"/>
<path d="M189.68,43.89L185.78,41.59L185.78,46.19Z" fill="#8000FF"/>
<path d="M195.80,43.44L191.90,41.14L191.90,45.74Z" fill="#8000FF"/>
<path d="M201.93,43.01L198.03,40.71L198.03,45.31Z" fill="#8000FF"/>
<path d="M208.05,42.61L204.15,40.31L204.15,44.91Z" fill="#8000FF"/>
<path d="M214.18,42.22L210.28,39.92L210.28,44.52Z" fill="#8000FF"/>
<path d="M220.30,41.85L216.40,39.55L216.40,44.15Z" fill="#8000FF"/>
<path d="M226.43,41.49L222.53,39.19L222.53,43.79Z" fill="#8000FF"/>
<path d="M232.55,41.15L228.65,38.85L228.65,43.45Z" fill="#8000FF"/>
<path d="M238.68,40.82L234.78,38.52L234.78,43.12Z" fill="#8000FF"/>
<path d="M244.80,40.51L240.90,38.21L240.90,42.81Z" fill="#8000FF"/>
<path d="M250.93,40.20L247.03,37.90L247.03,42.50Z" fill="#8000FF"/>
<path d="M257.05,39.91L253.15,37.61L253.15,42.21Z" fill="#8000FF"/>
<path d="M263.18,39.62L259.27,37.32L259.27,41.92Z" fill="#8000FF"/>
<path d="M269.30,39.35L265.40,37.05L265.40,41.65Z" fill="#8000FF"/>
<path d="M275.43,39.08L271.52,36.78L271.52,41.38Z" fill="#8000FF"/>
<path d="M281.55,38.83L277.65,36.53L277.65,41.13Z" fill="#8000FF"/>
<path d="M287.68,38.58L283.77,36.28L283.77,40.88Z" fill="#8000FF"/>
<path d="M293.80,38.34L289.90,36.04L289.90,40.64Z" fill="#8000FF"/>
<path d="M299.93,38.10L296.02,35.80L296.02,40.40Z" fill="#8000FF"/>
<path d="M306.05,37.87L302.15,35.57L302.15,40.17Z" fill="#8000FF"/>
<path d="M312.18,37.65L308.27,35.35L308.27,39.95Z" fill="#8000FF"/>
<path d="M318.30,37.44L314.40,35.14L314.40,39.74Z" fill="#8000FF"/>
<path d="M324.43,37.23L320.52,34.93L320.52,39.53Z" fill="#8000FF"/>
<path d="M330.55,37.02L326.65,34.72L326.65,39.32Z" fill="#8000FF"/>
<path d="M336.68,36.82L332.77,34.52L332.77,39.12Z" fill="#8000FF"/>
<path d="M342.80,36.63L338.90,34.33L338.90,38.93Z" fill="#8000FF"/>
<path d="M348.93,36.44L345.02,34.14L345.02,38.74Z" fill="#8000FF"/>
<path d="M355.05,36.25L351.15,33.95L351.15,38.55Z" fill="#8000FF"/>
<path d="M361.18,36.07L357.27,33.77L357.27,38.37Z" fill="#8000FF"/>
<path d="M367.30,35.90L363.40,33.60L363.40,38.20Z" fill="#8000FF"/>
<path d="M373.43,35.72L369.52,33.42L369.52,38.02Z" fill="#8000FF"/>
<path d="M379.55,35.56L375.65,33.26L375.65,37.86Z" fill="#8000FF"/>
<path d="M385.68,35.39L381.77,33.09L381.77,37.69Z" fill="#8000FF"/>
<path d="M391.80,35.23L387.90,32.93L387.90,37.53Z" fill="#8000FF"/>
<path d="M397.93,35.07L394.02,32.77L394.02,37.37Z" fill="#8000FF"/>
<path d="M404.05,34.92L400.15,32.62L400.15,37.22Z" fill="#8000FF"/>
<path d="M410.18,34.76L406.27,32.46L406.27,37.06Z" fill="#8000FF"/>
<path d="M416.30,34.62L412.40,32.32L412.40,36.92Z" fill="#8000FF"/>
<path d="M422.43,34.47L418.52,32.17L418.52,36.77Z" fill="#8000FF"/>
<path d="M428.55,34.33L424.65,32.03L424.65,36.63Z" fill="#8000FF"/>
<path d="M434.68,34.19L430.77,31.89L430.77,36.49Z" fill="#8000FF"/>
<path d="M440.80,34.05L436.90,31.75L436.90,36.35Z" fill="#8000FF"/>
<polyline points="46.50,249.18 48.47,239.46 50.44,230.68 52.41,222.71 54.38,215.44 56.35,208.78 58.32,202.66 60.29,197.02 62.26,191.79 64.23,186.94 66.20,182.43 68.17,178.22 70.14,174.28 72.11,170.59 74.08,167.13 76.05,163.86 78.02,160.79 79.99,157.89 81.96,155.14 83.93,152.54 85.90,150.07 87.87,147.73 89.84,145.50 91.81,143.38 93.78,141.35 95.75,139.42 97.72,137.57 99.69,135.80 101.66,134.11 103.63,132.49 105.60,130.93 107.57,129.44 109.54,128.01 111.51,126.62 113.47,125.30 115.44,124.02 117.41,122.78 119.38,121.59 121.35,120.45 123.32,119.34 125.29,118.27 127.26,117.23 129.23,116.23 131.20,115.26 133.17,114.32 135.14,113.41 137.11,112.53 139.08,111.67 141.05,110.84 143.02,110.03 144.99,109.25 146.96,108.49 148.93,107.75 150.90,107.03 152.87,106.33 154.84,105.65 156.81,104.99 158.78,104.34 160.75,103.71 162.72,103.10 164.69,102.50 166.66,101.92 168.63,101.35 170.60,100.79 172.57,100.25 174.54,99.72 176.51,99.20 178.48,98.70 180.45,98.20 182.42,97.72 184.39,97.25 186.36,96.79 188.33,96.34 190.30,95.89 192.27,95.46 194.24,95.04 196.21,94.62 198.18,94.22 200.15,93.82 202.12,93.43 204.09,93.05 206.06,92.67 208.03,92.30 210.00,91.94 211.97,91.59 213.94,91.24 215.91,90.90 217.88,90.57 219.85,90.24 221.82,89.92 223.79,89.60 225.76,89.29 227.73,88.99 229.70,88.69 231.67,88.39 233.64,88.10 235.61,87.82 237.58,87.54 239.55,87.26 241.52,86.99 243.48,86.73 245.45,86.46 247.42,86.21 249.39,85.95 251.36,85.70 253.33,85.46 255.30,85.22 257.27,84.98 259.24,84.74 261.21,84.51 263.18,84.29 265.15,84.06 267.12,83.84 269.09,83.63 271.06,83.41 273.03,83.20 275.00,82.99 276.97,82.79 278.94,82.59 280.91,82.39 282.88,82.19 284.85,82.00 286.82,81.81 288.79,81.62 290.76,81.43 292.73,81.25 294.70,81.07 296.67,80.89 298.64,80.71 300.61,80.54 302.58,80.37 304.55,80.20 306.52,80.03 308.49,79.87 310.46,79.71 312.43,79.55 314.40,79.39 316.37,79.23 318.34,79.08 320.31,78.92 322.28,78.77 324.25,78.62 326.22,78.47 328.19,78.33 330.16,78.19 332.13,78.04 334.10,77.90 336.07,77.76 338.04,77.63 340.01,77.49 341.98,77.36 343.95,77.22 345.92,77.09 347.89,76.96 349.86,76.84 351.83,76.71 353.80,76.58 355.77,76.46 357.74,76.34 359.71,76.22 361.68,76.10 363.65,75.98 365.62,75.86 367.59,75.74 369.56,75.63 371.53,75.51 373.49,75.40 375.46,75.29 377.43,75.18 379.40,75.07 381.37,74.96 383.34,74.86 385.31,74.75 387.28,74.65 389.25,74.54 391.22,74.44 393.19,74.34 395.16,74.24 397.13,74.14 399.10,74.04 401.07,73.94 403.04,73.84 405.01,73.75 406.98,73.65 408.95,73.56 410.92,73.47 412.89,73.37 414.86,73.28 416.83,73.19 418.80,73.10 420.77,73.01 422.74,72.93 424.71,72.84 426.68,72.75 428.65,72.67 430.62,72.58 432.59,72.50 434.56,72.41 436.53,72.33 438.50,72.25" fill="none" stroke="#800080" stroke-width="1.25"/>
<polygon points="48.23,250.18 46.50,251.18 44.77,250.18 44.77,248.18 46.50,247.18 48.23,248.18" fill="#800080"/>
<polygon points="54.36,222.88 52.62,223.88 50.89,222.88 50.89,220.88 52.62,219.88 54.36,220.88" fill="#800080"/>
<polygon points="60.48,202.39 58.75,203.39 57.02,202.39 57.02,200.39 58.75,199.39 60.48,200.39" fill="#800080"/>
<polygon points="66.61,186.43 64.88,187.43 63.14,186.43 63.14,184.43 64.88,183.43 66.61,184.43" fill="#800080"/>
<polygon points="72.73,173.64 71.00,174.64 69.27,173.64 69.27,171.64 71.00,170.64 72.73,171.64" fill="#800080"/>
<polygon points="78.86,163.16 77.12,164.16 75.39,163.16 75.39,161.16 77.12,160.16 78.86,161.16" fill="#800080"/>
<polygon points="84.98,154.42 83.25,155.42 81.52,154.42 81.52,152.42 83.25,151.42 84.98,152.42" fill="#800080"/>
<polygon points="91.11,147.01 89.38,148.01 87.64,147.01 87.64,145.01 89.38,144.01 91.11,145.01" fill="#800080"/>
<polygon points="97.23,140.65 95.50,141.65 93.77,140.65 93.77,138.65 95.50,137.65 97.23,138.65" fill="#800080"/>
<polygon points="103.36,135.14 101.62,136.14 99.89,135.14 99.89,133.14 101.62,132.14 103.36,133.14" fill="#800080"/>
<polygon points="109.48,130.30 107.75,131.30 106.02,130.30 106.02,128.30 107.75,127.30 109.48,128.30" fill="#800080"/>
<polygon points="115.61,126.03 113.88,127.03 112.14,126.03 112.14,124.03 113.88,123.03 115.61,124.03" fill="#800080"/>
<polygon points="121.73,122.23 120.00,123.23 118.27,122.23 118.27,120.23 120.00,119.23 121.73,120.23" fill="#800080"/>
<polygon points="127.86,118.83 126.12,119.83 124.39,118.83 124.39,116.83 126.12,115.83 127.86,116.83" fill="#800080"/>
<polygon points="133.98,115.76 132.25,116.76 130.52,115.76 130.52,113.76 132.25,112.76 133.98,113.76" fill="#800080"/>
<polygon points="140.11,112.98 138.38,113.98 136.64,112.98 136.64,110.98 138.38,109.98 140.11,110.98" fill="#800080"/>
<polygon points="146.23,110.45 144.50,111.45 142.77,110.45 142.77,108.45 144.50,107.45 146.23,108.45" fill="#800080"/>
<polygon points="152.36,108.13 150.62,109.13 148.89,108.13 148.89,106.13 150.62,105.13 152.36,106.13" fill="#800080"/>
<polygon points="158.48,106.01 156.75,107.01 155.02,106.01 155.02,104.01 156.75,103.01 158.48,104.01" fill="#800080"/>
<polygon points="164.61,104.05 162.88,105.05 161.14,104.05 161.14,102.05 162.88,101.05 164.61,102.05" fill="#800080"/>
<polygon points="170.73,102.24 169.00,103.24 167.27,102.24 167.27,100.24 169.00,99.24 170.73,100.24" fill="#800080"/>
<polygon points="176.86,100.57 175.12,101.57 173.39,100.57 173.39,98.57 175.12,97.57 176.86,98.57" fill="#800080"/>
<polygon points="182.98,99.01 181.25,100.01 179.52,99.01 179.52,97.01 181.25,96.01 182.98,97.01" fill="#800080"/>
<polygon points="189.11,97.55 187.38,98.55 185.64,97.55 185.64,95.55 187.38,94.55 189.11,95.55" fill="#800080"/>
<polygon points="195.23,96.19 193.50,97.19 191.77,96.19 191.77,94.19 193.50,93.19 195.23,94.19" fill="#800080"/>
<polygon points="201.36,94.92 199.62,95.92 197.89,94.92 197.89,92.92 199.62,91.92 201.36,92.92" fill="#800080"/>
<polygon points="207.48,93.73 205.75,94.73 204.02,93.73 204.02,91.73 205.75,90.73 207.48,91.73" fill="#800080"/>
<polygon points="213.61,92.61 211.88,93.61 210.14,92.61 210.14,90.61 211.88,89.61 213.61,90.61" fill="#800080"/>
<polygon points="219.73,91.55 218.00,92.55 216.27,91.55 216.27,89.55 218.00,88.55 219.73,89.55" fill="#800080"/>
<polygon points="225.86,90.55 224.12,91.55 222.39,90.55 222.39,88.55 224.12,87.55 225.86,88.55" fill="#800080"/>
<polygon points="231.98,89.60 230.25,90.60 228.52,89.60 228.52,87.60 230.25,86.60 231.98,87.60" fill="#800080"/>
<polygon points="238.11,88.71 236.38,89.71 234.64,88.71 234.64,86.71 236.38,85.71 238.11,86.71" fill="#800080"/>
<polygon points="244.23,87.86 242.50,88.86 240.77,87.86 240.77,85.86 242.50,84.86 244.23,85.86" fill="#800080"/>
<polygon points="250.36,87.05 248.62,88.05 246.89,87.05 246.89,85.05 248.62,84.05 250.36,85.05" fill="#800080"/>
<polygon points="256.48,86.28 254.75,87.28 253.02,86.28 253.02,84.28 254.75,83.28 256.48,84.28" fill="#800080"/>
<polygon points="262.61,85.55 260.88,86.55 259.14,85.55 259.14,83.55 260.88,82.55 262.61,83.55" fill="#800080"/>
<polygon points="268.73,84.86 267.00,85.86 265.27,84.86 265.27,82.86 267.00,81.86 268.73,82.86" fill="#800080"/>
<polygon points="274.86,84.19 273.12,85.19 271.39,84.19 271.39,82.19 273.12,81.19 274.86,82.19" fill="#800080"/>
<polygon points="280.98,83.55 279.25,84.55 277.52,83.55 277.52,81.55 279.25,80.55 280.98,81.55" fill="#800080"/>
<polygon points="287.11,82.95 285.38,83.95 283.64,82.95 283.64,80.95 285.38,79.95 287.11,80.95" fill="#800080"/>
<polygon points="293.23,82.36 291.50,83.36 289.77,82.36 289.77,80.36 291.50,79.36 293.23,80.36" fill="#800080"/>
<polygon points="299.36,81.80 297.62,82.80 295.89,81.80 295.89,79.80 297.62,78.80 299.36,79.80" fill="#800080"/>
<polygon points="305.48,81.27 303.75,82.27 302.02,81.27 302.02,79.27 303.75,78.27 305.48,79.27" fill="#800080"/>
<polygon points="311.61,80.75 309.88,81.75 308.14,80.75 308.14,78.75 309.88,77.75 311.61,78.75" fill="#800080"/>
<polygon points="317.73,80.26 316.00,81.26 314.27,80.26 314.27,78.26 316.00,77.26 317.73,78.26" fill="#800080"/>
<polygon points="323.86,79.78 322.12,80.78 320.39,79.78 320.39,77.78 322.12,76.78 323.86,77.78" fill="#800080"/>
<polygon points="329.98,79.32 328.25,80.32 326.52,79.32 326.52,77.32 328.25,76.32 329.98,77.32" fill="#800080"/>
<polygon points="336.11,78.88 334.38,79.88 332.64,78.88 332.64,76.88 334.38,75.88 336.11,76.88" fill="#800080"/>
<polygon points="342.23,78.46 340.50,79.46 338.77,78.46 338.77,76.46 340.50,75.46 342.23,76.46" fill="#800080"/>
<polygon points="348.36,78.05 346.62,79.05 344.89,78.05 344.89,76.05 346.62,75.05 348.36,76.05" fill="#800080"/>
<polygon points="354.48,77.65 352.75,78.65 351.02,77.65 351.02,75.65 352.75,74.65 354.48,75.65" fill="#800080"/>
<polygon points="360.61,77.27 358.88,78.27 357.14,77.27 357.14,75.27 358.88,74.27 360.61,75.27" fill="#800080"/>
<polygon points="366.73,76.90 365.00,77.90 363.27,76.90 363.27,74.90 365.00,73.90 366.73,74.90" fill="#800080"/>
<polygon points="372.86,76.54 371.12,77.54 369.39,76.54 369.39,74.54 371.12,73.54 372.86,74.54" fill="#800080"/>
<polygon points="378.98,76.19 377.25,77.19 375.52,76.19 375.52,74.19 377.25,73.19 378.98,74.19" fill="#800080"/>
<polygon points="385.11,75.86 383.38,76.86 381.64,75.86 381.64,73.86 383.38,72.86 385.11,73.86" fill="#800080"/>
<polygon points="391.23,75.53 389.50,76.53 387.77,75.53 387.77,73.53 389.50,72.53 391.23,73.53" fill="#800080"/>
<polygon points="397.36,75.21 395.62,76.21 393.89,75.21 393.89,73.21 395.62,72.21 397.36,73.21" fill="#800080"/>
<polygon points="403.48,74.91 401.75,75.91 400.02,74.91 400.02,72.91 401.75,71.91 403.48,72.91" fill="#800080"/>
<polygon points="409.61,74.61 407.88,75.61 406.14,74.61 406.14,72.61 407.88,71.61 409.61,72.61" fill="#800080"/>
<polygon points="415.73,74.32 414.00,75.32 412.27,74.32 412.27,72.32 414.00,71.32 415.73,72.32" fill="#800080"/>
<polygon points="421.86,74.04 420.12,75.04 418.39,74.04 418.39,72.04 420.12,71.04 421.86,72.04" fill="#800080"/>
<polygon points="427.98,73.77 426.25,74.77 424.52,73.77 424.52,71.77 426.25,70.77 427.98,71.77" fill="#800080"/>
<polygon points="434.11,73.51 432.38,74.51 430.64,73.51 430.64,71.51 432.38,70.51 434.11,71.51" fill="#800080"/>
<polygon points="440.23,73.25 438.50,74.25 436.77,73.25 436.77,71.25 438.50,70.25 440.23,71.25" fill="#800080"/>
<polyline points="46.50,-362.73 48.47,-335.54 50.44,-310.66 52.41,-287.82 54.38,-266.78 56.35,-247.34 58.32,-229.34 60.29,-212.61 62.26,-197.04 64.23,-182.50 66.20,-168.91 68.17,-156.17 70.14,-144.20 72.11,-132.95 74.08,-122.35 76.05,-112.34 78.02,-102.87 79.99,-93.92 81.96,-85.43 83.93,-77.37 85.90,-69.71 87.87,-62.42 89.84,-55.47 91.81,-48.85 93.78,-42.53 95.75,-36.49 97.72,-30.71 99.69,-25.18 101.66,-19.88 103.63,-14.80 105.60,-9.92 107.57,-5.24 109.54,-0.73 111.51,3.60 113.47,7.77 115.44,11.79 117.41,15.66 119.38,19.39 121.35,23.00 123.32,26.48 125.29,29.84 127.26,33.09 129.23,36.23 131.20,39.27 133.17,42.21 135.14,45.07 137.11,47.83 139.08,50.51 141.05,53.10 143.02,55.63 144.99,58.07 146.96,60.45 148.93,62.76 150.90,65.00 152.87,67.18 154.84,69.30 156.81,71.37 158.78,73.37 160.75,75.33 162.72,77.23 164.69,79.09 166.66,80.90 168.63,82.66 170.60,84.38 172.57,86.05 174.54,87.68 176.51,89.28 178.48,90.84 180.45,92.36 182.42,93.84 184.39,95.29 186.36,96.71 188.33,98.09 190.30,99.44 192.27,100.77 194.24,102.06 196.21,103.33 198.18,104.57 200.15,105.78 202.12,106.96 204.09,108.13 206.06,109.26 208.03,110.38 210.00,111.47 211.97,112.54 213.94,113.58 215.91,114.61 217.88,115.62 219.85,116.60 221.82,117.57 223.79,118.52 225.76,119.45 227.73,120.37 229.70,121.26 231.67,122.14 233.64,123.00 235.61,123.85 237.58,124.68 239.55,125.50 241.52,126.30 243.48,127.09 245.45,127.86 247.42,128.62 249.39,129.37 251.36,130.11 253.33,130.83 255.30,131.54 257.27,132.24 259.24,132.92 261.21,133.60 263.18,134.26 265.15,134.91 267.12,135.55 269.09,136.19 271.06,136.81 273.03,137.42 275.00,138.02 276.97,138.61 278.94,139.20 280.91,139.77 282.88,140.33 284.85,140.89 286.82,141.44 288.79,141.98 290.76,142.51 292.73,143.03 294.70,143.55 296.67,144.06 298.64,144.56 300.61,145.05 302.58,145.54 304.55,146.02 306.52,146.49 308.49,146.95 310.46,147.41 312.43,147.87 314.40,148.31 316.37,148.75 318.34,149.18 320.31,149.61 322.28,150.03 324.25,150.45 326.22,150.86 328.19,151.27 330.16,151.67 332.13,152.06 334.10,152.45 336.07,152.83 338.04,153.21 340.01,153.58 341.98,153.95 343.95,154.32 345.92,154.68 347.89,155.03 349.86,155.38 351.83,155.73 353.80,156.07 355.77,156.41 357.74,156.74 359.71,157.07 361.68,157.39 363.65,157.71 365.62,158.03 367.59,158.34 369.56,158.65 371.53,158.96 373.49,159.26 375.46,159.56 377.43,159.85 379.40,160.14 381.37,160.43 383.34,160.72 385.31,161.00 387.28,161.27 389.25,161.55 391.22,161.82 393.19,162.09 395.16,162.35 397.13,162.61 399.10,162.87 401.07,163.13 403.04,163.38 405.01,163.63 406.98,163.88 408.95,164.13 410.92,164.37 412.89,164.61 414.86,164.84 416.83,165.08 418.80,165.31 420.77,165.54 422.74,165.76 424.71,165.99 426.68,166.21 428.65,166.43 430.62,166.65 432.59,166.86 434.56,167.07 436.53,167.28 438.50,167.49" fill="none" stroke="#800000" stroke-width="1.25"/>
<polygon points="113.88,6.40 114.40,7.87 115.97,7.92 114.73,8.88 115.17,10.38 113.88,9.50 112.58,10.38 113.02,8.88 111.78,7.92 113.35,7.87" fill="#800000"/>
<polygon points="120.00,18.33 120.53,19.80 122.09,19.85 120.86,20.81 121.29,22.31 120.00,21.43 118.71,22.31 119.14,20.81 117.91,19.85 119.47,19.80" fill="#800000"/>
<polygon points="126.12,29.02 126.65,30.49 128.22,30.54 126.98,31.50 127.42,33.00 126.12,32.12 124.83,33.00 125.27,31.50 124.03,30.54 125.60,30.49" fill="#800000"/>
<polygon points="132.25,38.65 132.78,40.12 134.34,40.17 133.11,41.12 133.54,42.63 132.25,41.75 130.96,42.63 131.39,41.12 130.16,40.17 131.72,40.12" fill="#800000"/>
<polygon points="138.38,47.35 138.90,48.83 140.47,48.87 139.23,49.83 139.67,51.33 138.38,50.45 137.08,51.33 137.52,49.83 136.28,48.87 137.85,48.83" fill="#800000"/>
<polygon points="144.50,55.27 145.03,56.74 146.59,56.79 145.36,57.75 145.79,59.25 144.50,58.37 143.21,59.25 143.64,57.75 142.41,56.79 143.97,56.74" fill="#800000"/>
<polygon points="150.62,62.49 151.15,63.96 152.72,64.01 151.48,64.97 151.92,66.47 150.62,65.59 149.33,66.47 149.77,64.97 148.53,64.01 150.10,63.96" fill="#800000"/>
<polygon points="156.75,69.10 157.28,70.57 158.84,70.62 157.61,71.58 158.04,73.08 156.75,72.20 155.46,73.08 155.89,71.58 154.66,70.62 156.22,70.57" fill="#800000"/>
<polygon points="162.88,75.18 163.40,76.65 164.97,76.70 163.73,77.66 164.17,79.16 162.88,78.28 161.58,79.16 162.02,77.66 160.78,76.70 162.35,76.65" fill="#800000"/>
<polygon points="169.00,80.78 169.53,82.25 171.09,82.30 169.86,83.26 170.29,84.76 169.00,83.88 167.71,84.76 168.14,83.26 166.91,82.30 168.47,82.25" fill="#800000"/>
<polygon points="175.12,85.96 175.65,87.43 177.22,87.48 175.98,88.44 176.42,89.94 175.12,89.06 173.83,89.94 174.27,88.44 173.03,87.48 174.60,87.43" fill="#800000"/>
<polygon points="181.25,90.76 181.78,92.24 183.34,92.28 182.11,93.24 182.54,94.74 181.25,93.86 179.96,94.74 180.39,93.24 179.16,92.28 180.72,92.24" fill="#800000"/>
<polygon points="187.38,95.22 187.90,96.70 189.47,96.74 188.23,97.70 188.67,99.20 187.38,98.32 186.08,99.20 186.52,97.70 185.28,96.74 186.85,96.70" fill="#800000"/>
<polygon points="193.50,99.38 194.03,100.85 195.59,100.90 194.36,101.86 194.79,103.36 193.50,102.48 192.21,103.36 192.64,101.86 191.41,100.90 192.97,100.85" fill="#800000"/>
<polygon points="199.62,103.26 200.15,104.73 201.72,104.78 200.48,105.74 200.92,107.24 199.62,106.36 198.33,107.24 198.77,105.74 197.53,104.78 199.10,104.73" fill="#800000"/>
<polygon points="205.75,106.89 206.28,108.36 207.84,108.41 206.61,109.37 207.04,110.87 205.75,109.99 204.46,110.87 204.89,109.37 203.66,108.41 205.22,108.36" fill="#800000"/>
<polygon points="211.88,110.29 212.40,111.76 213.97,111.81 212.73,112.77 213.17,114.27 211.88,113.39 210.58,114.27 211.02,112.77 209.78,111.81 211.35,111.76" fill="#800000"/>
<polygon points="218.00,113.48 218.53,114.95 220.09,115.00 218.86,115.96 219.29,117.46 218.00,116.58 216.71,117.46 217.14,115.96 215.91,115.00 217.47,114.95" fill="#800000"/>
<polygon points="224.12,116.48 224.65,117.95 226.22,118.00 224.98,118.96 225.42,120.46 224.12,119.58 222.83,120.46 223.27,118.96 222.03,118.00 223.60,117.95" fill="#800000"/>
<polygon points="230.25,119.31 230.78,120.78 232.34,120.83 231.11,121.79 231.54,123.29 230.25,122.41 228.96,123.29 229.39,121.79 228.16,120.83 229.72,120.78" fill="#800000"/>
<polygon points="236.38,121.98 236.90,123.45 238.47,123.50 237.23,124.46 237.67,125.96 236.38,125.08 235.08,125.96 235.52,124.46 234.28,123.50 235.85,123.45" fill="#800000"/>
<polygon points="242.50,124.50 243.03,125.97 244.59,126.02 243.36,126.98 243.79,128.48 242.50,127.60 241.21,128.48 241.64,126.98 240.41,126.02 241.97,125.97" fill="#800000"/>
<polygon points="248.62,126.88 249.15,128.35 250.72,128.40 249.48,129.36 249.92,130.86 248.62,129.98 247.33,130.86 247.77,129.36 246.53,128.40 248.10,128.35" fill="#800000"/>
<polygon points="254.75,129.14 255.28,130.61 256.84,130.66 255.61,131.62 256.04,133.12 254.75,132.24 253.46,133.12 253.89,131.62 252.66,130.66 254.22,130.61" fill="#800000"/>
<polygon points="260.88,131.28 261.40,132.75 262.97,132.80 261.73,133.76 262.17,135.26 260.88,134.38 259.58,135.26 260.02,133.76 258.78,132.80 260.35,132.75" fill="#800000"/>
<polygon points="267.00,133.31 267.53,134.79 269.09,134.83 267.86,135.79 268.29,137.29 267.00,136.41 265.71,137.29 266.14,135.79 264.91,134.83 266.47,134.79" fill="#800000"/>
<polygon points="273.12,135.25 273.65,136.72 275.22,136.77 273.98,137.73 274.42,139.23 273.12,138.35 271.83,139.23 272.27,137.73 271.03,136.77 272.60,136.72" fill="#800000"/>
<polygon points="279.25,137.09 279.78,138.56 281.34,138.61 280.11,139.56 280.54,141.07 279.25,140.19 277.96,141.07 278.39,139.56 277.16,138.61 278.72,138.56" fill="#800000"/>
<polygon points="285.38,138.84 285.90,140.31 287.47,140.36 286.23,141.32 286.67,142.82 285.38,141.94 284.08,142.82 284.52,141.32 283.28,140.36 284.85,140.31" fill="#800000"/>
<polygon points="291.50,140.51 292.03,141.98 293.59,142.03 292.36,142.99 292.79,144.49 291.50,143.61 290.21,144.49 290.64,142.99 289.41,142.03 290.97,141.98" fill="#800000"/>
<polygon points="297.62,142.10 298.15,143.57 299.72,143.62 298.48,144.58 298.92,146.08 297.62,145.20 296.33,146.08 296.77,144.58 295.53,143.62 297.10,143.57" fill="#800000"/>
<polygon points="303.75,143.62 304.28,145.09 305.84,145.14 304.61,146.10 305.04,147.60 303.75,146.72 302.46,147.60 302.89,146.10 301.66,145.14 303.22,145.09" fill="#800000"/>
<polygon points="309.88,145.08 310.40,146.55 311.97,146.60 310.73,147.56 311.17,149.06 309.88,148.18 308.58,149.06 309.02,147.56 307.78,146.60 309.35,146.55" fill="#800000"/>
<polygon points="316.00,146.47 316.53,147.94 318.09,147.99 316.86,148.95 317.29,150.45 316.00,149.57 314.71,150.45 315.14,148.95 313.91,147.99 315.47,147.94" fill="#800000"/>
<polygon points="322.12,147.80 322.65,149.27 324.22,149.32 322.98,150.28 323.42,151.78 322.12,150.90 320.83,151.78 321.27,150.28 320.03,149.32 321.60,149.27" fill="#800000"/>
<polygon points="328.25,149.08 328.78,150.55 330.34,150.60 329.11,151.56 329.54,153.06 328.25,152.18 326.96,153.06 327.39,151.56 326.16,150.60 327.72,150.55" fill="#800000"/>
<polygon points="334.38,150.30 334.90,151.77 336.47,151.82 335.23,152.78 335.67,154.28 334.38,153.40 333.08,154.28 333.52,152.78 332.28,151.82 333.85,151.77" fill="#800000"/>
<polygon points="340.50,151.48 341.03,152.95 342.59,153.00 341.36,153.96 341.79,155.46 340.50,154.58 339.21,155.46 339.64,153.96 338.41,153.00 339.97,152.95" fill="#800000"/>
<polygon points="346.62,152.61 347.15,154.08 348.72,154.13 347.48,155.08 347.92,156.58 346.62,155.71 345.33,156.58 345.77,155.08 344.53,154.13 346.10,154.08" fill="#800000"/>
<polygon points="352.75,153.69 353.28,155.16 354.84,155.21 353.61,156.17 354.04,157.67 352.75,156.79 351.46,157.67 351.89,156.17 350.66,155.21 352.22,155.16" fill="#800000"/>
<polygon points="358.88,154.73 359.40,156.20 360.97,156.25 359.73,157.21 360.17,158.71 358.88,157.83 357.58,158.71 358.02,157.21 356.78,156.25 358.35,156.20" fill="#800000"/>
<polygon points="365.00,155.73 365.53,157.20 367.09,157.25 365.86,158.21 366.29,159.71 365.00,158.83 363.71,159.71 364.14,158.21 362.91,157.25 364.47,157.20" fill="#800000"/>
<polygon points="371.12,156.70 371.65,158.17 373.22,158.22 371.98,159.17 372.42,160.68 371.12,159.80 369.83,160.68 370.27,159.17 369.03,158.22 370.60,158.17" fill="#800000"/>
<polygon points="377.25,157.63 377.78,159.10 379.34,159.15 378.11,160.10 378.54,161.60 377.25,160.73 375.96,161.60 376.39,160.10 375.16,159.15 376.72,159.10" fill="#800000"/>
<polygon points="383.38,158.52 383.90,159.99 385.47,160.04 384.23,161.00 384.67,162.50 383.38,161.62 382.08,162.50 382.52,161.00 381.28,160.04 382.85,159.99" fill="#800000"/>
<polygon points="389.50,159.38 390.03,160.85 391.59,160.90 390.36,161.86 390.79,163.36 389.50,162.48 388.21,163.36 388.64,161.86 387.41,160.90 388.97,160.85" fill="#800000"/>
<polygon points="395.62,160.21 396.15,161.69 397.72,161.73 396.48,162.69 396.92,164.19 395.62,163.31 394.33,164.19 394.77,162.69 393.53,161.73 395.10,161.69" fill="#800000"/>
<polygon points="401.75,161.02 402.28,162.49 403.84,162.54 402.61,163.49 403.04,165.00 401.75,164.12 400.46,165.00 400.89,163.49 399.66,162.54 401.22,162.49" fill="#800000"/>
<polygon points="407.88,161.79 408.40,163.26 409.97,163.31 408.73,164.27 409.17,165.77 407.88,164.89 406.58,165.77 407.02,164.27 405.78,163.31 407.35,163.26" fill="#800000"/>
<polygon points="414.00,162.54 414.53,164.01 416.09,164.06 414.86,165.02 415.29,166.52 414.00,165.64 412.71,166.52 413.14,165.02 411.91,164.06 413.47,164.01" fill="#800000"/>
<polygon points="420.12,163.26 420.65,164.74 422.22,164.78 420.98,165.74 421.42,167.24 420.12,166.36 418.83,167.24 419.27,165.74 418.03,164.78 419.60,164.74" fill="#800000"/>
<polygon points="426.25,163.96 426.78,165.43 428.34,165.48 427.11,166.44 427.54,167.94 426.25,167.06 424.96,167.94 425.39,166.44 424.16,165.48 425.72,165.43" fill="#800000"/>
<polygon points="432.38,164.64 432.90,166.11 434.47,166.16 433.23,167.12 433.67,168.62 432.38,167.74 431.08,168.62 431.52,167.12 430.28,166.16 431.85,166.11" fill="#800000"/>
<polygon points="438.50,165.29 439.03,166.76 440.59,166.81 439.36,167.77 439.79,169.27 438.50,168.39 437.21,169.27 437.64,167.77 436.41,166.81 437.97,166.76" fill="#800000"/>
<polyline points="46.50,279.86 48.47,268.71 50.44,258.64 52.41,249.49 54.38,241.15 56.35,233.51 58.32,226.49 60.29,220.02 62.26,214.03 64.23,208.47 66.20,203.30 68.17,198.48 70.14,193.97 72.11,189.74 74.08,185.78 76.05,182.04 78.02,178.52 79.99,175.20 81.96,172.06 83.93,169.09 85.90,166.26 87.87,163.58 89.84,161.04 91.81,158.61 93.78,156.30 95.75,154.09 97.72,151.98 99.69,149.96 101.66,148.03 103.63,146.18 105.60,144.40 107.57,142.70 109.54,141.06 111.51,139.49 113.47,137.97 115.44,136.51 117.41,135.11 119.38,133.75 121.35,132.44 123.32,131.18 125.29,129.96 127.26,128.78 129.23,127.64 131.20,126.54 133.17,125.47 135.14,124.43 137.11,123.43 139.08,122.45 141.05,121.51 143.02,120.59 144.99,119.70 146.96,118.84 148.93,118.00 150.90,117.18 152.87,116.39 154.84,115.61 156.81,114.86 158.78,114.13 160.75,113.41 162.72,112.72 164.69,112.04 166.66,111.37 168.63,110.73 170.60,110.10 172.57,109.49 174.54,108.89 176.51,108.30 178.48,107.73 180.45,107.17 182.42,106.62 184.39,106.09 186.36,105.56 188.33,105.05 190.30,104.55 192.27,104.06 194.24,103.58 196.21,103.11 198.18,102.65 200.15,102.20 202.12,101.76 204.09,101.33 206.06,100.91 208.03,100.49 210.00,100.09 211.97,99.69 213.94,99.29 215.91,98.91 217.88,98.53 219.85,98.16 221.82,97.80 223.79,97.44 225.76,97.09 227.73,96.75 229.70,96.41 231.67,96.08 233.64,95.75 235.61,95.43 237.58,95.12 239.55,94.81 241.52,94.50 243.48,94.20 245.45,93.91 247.42,93.62 249.39,93.33 251.36,93.05 253.33,92.78 255.30,92.51 257.27,92.24 259.24,91.97 261.21,91.72 263.18,91.46 265.15,91.21 267.12,90.96 269.09,90.72 271.06,90.48 273.03,90.24 275.00,90.01 276.97,89.78 278.94,89.55 280.91,89.33 282.88,89.11 284.85,88.89 286.82,88.68 288.79,88.47 290.76,88.26 292.73,88.05 294.70,87.85 296.67,87.65 298.64,87.45 300.61,87.26 302.58,87.07 304.55,86.88 306.52,86.69 308.49,86.51 310.46,86.33 312.43,86.15 314.40,85.97 316.37,85.79 318.34,85.62 320.31,85.45 322.28,85.28 324.25,85.11 326.22,84.95 328.19,84.79 330.16,84.63 332.13,84.47 334.10,84.31 336.07,84.16 338.04,84.00 340.01,83.85 341.98,83.70 343.95,83.55 345.92,83.41 347.89,83.26 349.86,83.12 351.83,82.98 353.80,82.84 355.77,82.70 357.74,82.57 359.71,82.43 361.68,82.30 363.65,82.17 365.62,82.03 367.59,81.91 369.56,81.78 371.53,81.65 373.49,81.53 375.46,81.40 377.43,81.28 379.40,81.16 381.37,81.04 383.34,80.92 385.31,80.80 387.28,80.69 389.25,80.57 391.22,80.46 393.19,80.34 395.16,80.23 397.13,80.12 399.10,80.01 401.07,79.90 403.04,79.80 405.01,79.69 406.98,79.59 408.95,79.48 410.92,79.38 412.89,79.28 414.86,79.17 416.83,79.07 418.80,78.97 420.77,78.88 422.74,78.78 424.71,78.68 426.68,78.59 428.65,78.49 430.62,78.40 432.59,78.30 434.56,78.21 436.53,78.12 438.50,78.03" fill="none" stroke="#808000" stroke-width="1.25"/>
<polygon points="46.50,277.86 48.40,279.25 47.68,281.48 45.32,281.48 44.60,279.25" fill="#808000"/>
<polygon points="52.62,246.54 54.53,247.92 53.80,250.16 51.45,250.16 50.72,247.92" fill="#808000"/>
<polygon points="58.75,223.03 60.65,224.41 59.93,226.65 57.57,226.65 56.85,224.41" fill="#808000"/>
<polygon points="64.88,204.73 66.78,206.12 66.05,208.35 63.70,208.35 62.97,206.12" fill="#808000"/>
<polygon points="71.00,190.09 72.90,191.47 72.18,193.70 69.82,193.70 69.10,191.47" fill="#808000"/>
<polygon points="77.12,178.09 79.03,179.47 78.30,181.71 75.95,181.71 75.22,179.47" fill="#808000"/>
<polygon points="83.25,168.09 85.15,169.47 84.43,171.71 82.07,171.71 81.35,169.47" fill="#808000"/>
<polygon points="89.38,159.62 91.28,161.00 90.55,163.24 88.20,163.24 87.47,161.00" fill="#808000"/>
<polygon points="95.50,152.36 97.40,153.74 96.68,155.98 94.32,155.98 93.60,153.74" fill="#808000"/>
<polygon points="101.62,146.06 103.53,147.44 102.80,149.68 100.45,149.68 99.72,147.44" fill="#808000"/>
<polygon points="107.75,140.54 109.65,141.92 108.93,144.16 106.57,144.16 105.85,141.92" fill="#808000"/>
<polygon points="113.88,135.67 115.78,137.05 115.05,139.29 112.70,139.29 111.97,137.05" fill="#808000"/>
<polygon points="120.00,131.34 121.90,132.72 121.18,134.96 118.82,134.96 118.10,132.72" fill="#808000"/>
<polygon points="126.12,127.46 128.03,128.84 127.30,131.08 124.95,131.08 124.22,128.84" fill="#808000"/>
<polygon points="132.25,123.96 134.15,125.35 133.43,127.58 131.07,127.58 130.35,125.35" fill="#808000"/>
<polygon points="138.38,120.80 140.28,122.18 139.55,124.42 137.20,124.42 136.47,122.18" fill="#808000"/>
<polygon points="144.50,117.92 146.40,119.31 145.68,121.54 143.32,121.54 142.60,119.31" fill="#808000"/>
<polygon points="150.62,115.29 152.53,116.68 151.80,118.91 149.45,118.91 148.72,116.68" fill="#808000"/>
<polygon points="156.75,112.88 158.65,114.26 157.93,116.50 155.57,116.50 154.85,114.26" fill="#808000"/>
<polygon points="162.88,110.66 164.78,112.04 164.05,114.28 161.70,114.28 160.97,112.04" fill="#808000"/>
<polygon points="169.00,108.61 170.90,109.99 170.18,112.23 167.82,112.23 167.10,109.99" fill="#808000"/>
<polygon points="175.12,106.71 177.03,108.09 176.30,110.33 173.95,110.33 173.22,108.09" fill="#808000"/>
<polygon points="181.25,104.94 183.15,106.33 182.43,108.56 180.07,108.56 179.35,106.33" fill="#808000"/>
<polygon points="187.38,103.30 189.28,104.68 188.55,106.92 186.20,106.92 185.47,104.68" fill="#808000"/>
<polygon points="193.50,101.76 195.40,103.14 194.68,105.38 192.32,105.38 191.60,103.14" fill="#808000"/>
<polygon points="199.62,100.32 201.53,101.71 200.80,103.94 198.45,103.94 197.72,101.71" fill="#808000"/>
<polygon points="205.75,98.97 207.65,100.36 206.93,102.59 204.57,102.59 203.85,100.36" fill="#808000"/>
<polygon points="211.88,97.70 213.78,99.09 213.05,101.32 210.70,101.32 209.97,99.09" fill="#808000"/>
<polygon points="218.00,96.51 219.90,97.89 219.18,100.13 216.82,100.13 216.10,97.89" fill="#808000"/>
<polygon points="224.12,95.38 226.03,96.76 225.30,99.00 222.95,99.00 222.22,96.76" fill="#808000"/>
<polygon points="230.25,94.32 232.15,95.70 231.43,97.93 229.07,97.93 228.35,95.70" fill="#808000"/>
<polygon points="236.38,93.31 238.28,94.69 237.55,96.93 235.20,96.93 234.47,94.69" fill="#808000"/>
<polygon points="242.50,92.35 244.40,93.73 243.68,95.97 241.32,95.97 240.60,93.73" fill="#808000"/>
<polygon points="248.62,91.44 250.53,92.83 249.80,95.06 247.45,95.06 246.72,92.83" fill="#808000"/>
<polygon points="254.75,90.58 256.65,91.96 255.93,94.20 253.57,94.20 252.85,91.96" fill="#808000"/>
<polygon points="260.88,89.76 262.78,91.14 262.05,93.38 259.70,93.38 258.97,91.14" fill="#808000"/>
<polygon points="267.00,88.98 268.90,90.36 268.18,92.59 265.82,92.59 265.10,90.36" fill="#808000"/>
<polygon points="273.12,88.23 275.03,89.61 274.30,91.85 271.95,91.85 271.22,89.61" fill="#808000"/>
<polygon points="279.25,87.52 281.15,88.90 280.43,91.13 278.07,91.13 277.35,88.90" fill="#808000"/>
<polygon points="285.38,86.83 287.28,88.22 286.55,90.45 284.20,90.45 283.47,88.22" fill="#808000"/>
<polygon points="291.50,86.18 293.40,87.56 292.68,89.80 290.32,89.80 289.60,87.56" fill="#808000"/>
<polygon points="297.62,85.56 299.53,86.94 298.80,89.17 296.45,89.17 295.72,86.94" fill="#808000"/>
<polygon points="303.75,84.96 305.65,86.34 304.93,88.57 302.57,88.57 301.85,86.34" fill="#808000"/>
<polygon points="309.88,84.38 311.78,85.76 311.05,88.00 308.70,88.00 307.97,85.76" fill="#808000"/>
<polygon points="316.00,83.83 317.90,85.21 317.18,87.44 314.82,87.44 314.10,85.21" fill="#808000"/>
<polygon points="322.12,83.29 324.03,84.68 323.30,86.91 320.95,86.91 320.22,84.68" fill="#808000"/>
<polygon points="328.25,82.78 330.15,84.16 329.43,86.40 327.07,86.40 326.35,84.16" fill="#808000"/>
<polygon points="334.38,82.29 336.28,83.67 335.55,85.91 333.20,85.91 332.47,83.67" fill="#808000"/>
<polygon points="340.50,81.81 342.40,83.20 341.68,85.43 339.32,85.43 338.60,83.20" fill="#808000"/>
<polygon points="346.62,81.36 348.53,82.74 347.80,84.97 345.45,84.97 344.72,82.74" fill="#808000"/>
<polygon points="352.75,80.91 354.65,82.30 353.93,84.53 351.57,84.53 350.85,82.30" fill="#808000"/>
<polygon points="358.88,80.49 360.78,81.87 360.05,84.11 357.70,84.11 356.97,81.87" fill="#808000"/>
<polygon points="365.00,80.08 366.90,81.46 366.18,83.69 363.82,83.69 363.10,81.46" fill="#808000"/>
<polygon points="371.12,79.68 373.03,81.06 372.30,83.29 369.95,83.29 369.22,81.06" fill="#808000"/>
<polygon points="377.25,79.29 379.15,80.67 378.43,82.91 376.07,82.91 375.35,80.67" fill="#808000"/>
<polygon points="383.38,78.92 385.28,80.30 384.55,82.54 382.20,82.54 381.47,80.30" fill="#808000"/>
<polygon points="389.50,78.56 391.40,79.94 390.68,82.17 388.32,82.17 387.60,79.94" fill="#808000"/>
<polygon points="395.62,78.21 397.53,79.59 396.80,81.82 394.45,81.82 393.72,79.59" fill="#808000"/>
<polygon points="401.75,77.87 403.65,79.25 402.93,81.49 400.57,81.49 399.85,79.25" fill="#808000"/>
<polygon points="407.88,77.54 409.78,78.92 409.05,81.16 406.70,81.16 405.97,78.92" fill="#808000"/>
<polygon points="414.00,77.22 415.90,78.60 415.18,80.84 412.82,80.84 412.10,78.60" fill="#808000"/>
<polygon points="420.12,76.91 422.03,78.29 421.30,80.53 418.95,80.53 418.22,78.29" fill="#808000"/>
<polygon points="426.25,76.61 428.15,77.99 427.43,80.23 425.07,80.23 424.35,77.99" fill="#808000"/>
<polygon points="432.38,76.31 434.28,77.70 433.55,79.93 431.20,79.93 430.47,77.70" fill="#808000"/>
<polygon points="438.50,76.03 440.40,77.41 439.68,79.65 437.32,79.65 436.60,77.41" fill="#808000"/>
<polyline points="46.50,-396.78 48.47,-369.61 50.44,-344.58 52.41,-321.44 54.38,-300.02 56.35,-280.12 58.32,-261.61 60.29,-244.35 62.26,-228.23 64.23,-213.13 66.20,-198.96 68.17,-185.65 70.14,-173.13 72.11,-161.32 74.08,-150.16 76.05,-139.62 78.02,-129.63 79.99,-120.17 81.96,-111.18 83.93,-102.64 85.90,-94.51 87.87,-86.76 89.84,-79.38 91.81,-72.33 93.78,-65.59 95.75,-59.15 97.72,-52.98 99.69,-47.07 101.66,-41.40 103.63,-35.97 105.60,-30.74 107.57,-25.72 109.54,-20.90 111.51,-16.25 113.47,-11.78 115.44,-7.47 117.41,-3.31 119.38,0.70 121.35,4.58 123.32,8.32 125.29,11.93 127.26,15.43 129.23,18.81 131.20,22.08 133.17,25.25 135.14,28.32 137.11,31.29 139.08,34.18 141.05,36.98 143.02,39.70 144.99,42.33 146.96,44.89 148.93,47.38 150.90,49.80 152.87,52.15 154.84,54.44 156.81,56.66 158.78,58.83 160.75,60.94 162.72,62.99 164.69,64.99 166.66,66.94 168.63,68.84 170.60,70.70 172.57,72.50 174.54,74.27 176.51,75.99 178.48,77.66 180.45,79.30 182.42,80.90 184.39,82.47 186.36,84.00 188.33,85.49 190.30,86.95 192.27,88.38 194.24,89.77 196.21,91.14 198.18,92.47 200.15,93.78 202.12,95.06 204.09,96.31 206.06,97.53 208.03,98.73 210.00,99.91 211.97,101.06 213.94,102.19 215.91,103.29 217.88,104.38 219.85,105.44 221.82,106.48 223.79,107.50 225.76,108.51 227.73,109.49 229.70,110.45 231.67,111.40 233.64,112.33 235.61,113.24 237.58,114.13 239.55,115.01 241.52,115.87 243.48,116.72 245.45,117.55 247.42,118.37 249.39,119.17 251.36,119.96 253.33,120.74 255.30,121.50 257.27,122.25 259.24,122.98 261.21,123.71 263.18,124.42 265.15,125.12 267.12,125.81 269.09,126.48 271.06,127.15 273.03,127.81 275.00,128.45 276.97,129.08 278.94,129.71 280.91,130.32 282.88,130.93 284.85,131.52 286.82,132.11 288.79,132.69 290.76,133.26 292.73,133.82 294.70,134.37 296.67,134.91 298.64,135.45 300.61,135.97 302.58,136.49 304.55,137.00 306.52,137.51 308.49,138.00 310.46,138.49 312.43,138.98 314.40,139.45 316.37,139.92 318.34,140.38 320.31,140.84 322.28,141.29 324.25,141.73 326.22,142.17 328.19,142.60 330.16,143.02 332.13,143.44 334.10,143.86 336.07,144.27 338.04,144.67 340.01,145.06 341.98,145.46 343.95,145.84 345.92,146.23 347.89,146.60 349.86,146.97 351.83,147.34 353.80,147.70 355.77,148.06 357.74,148.41 359.71,148.76 361.68,149.11 363.65,149.44 365.62,149.78 367.59,150.11 369.56,150.44 371.53,150.76 373.49,151.08 375.46,151.40 377.43,151.71 379.40,152.01 381.37,152.32 383.34,152.62 385.31,152.91 387.28,153.21 389.25,153.50 391.22,153.78 393.19,154.07 395.16,154.34 397.13,154.62 399.10,154.89 401.07,155.16 403.04,155.43 405.01,155.69 406.98,155.95 408.95,156.21 410.92,156.46 412.89,156.72 414.86,156.96 416.83,157.21 418.80,157.45 420.77,157.69 422.74,157.93 424.71,158.17 426.68,158.40 428.65,158.63 430.62,158.86 432.59,159.08 434.56,159.30 436.53,159.52 438.50,159.74" fill="none" stroke="#3C78B8" stroke-width="1.25"/>
<circle cx="126.12" cy="13.42" r="1.90" fill="#3C78B8"/><circle cx="125.62" cy="12.92" r="0.70" fill="#9cc"/>
<circle cx="132.25" cy="23.78" r="1.90" fill="#3C78B8"/><circle cx="131.75" cy="23.28" r="0.70" fill="#9cc"/>
<circle cx="138.38" cy="33.15" r="1.90" fill="#3C78B8"/><circle cx="137.88" cy="32.65" r="0.70" fill="#9cc"/>
<circle cx="144.50" cy="41.68" r="1.90" fill="#3C78B8"/><circle cx="144.00" cy="41.18" r="0.70" fill="#9cc"/>
<circle cx="150.62" cy="49.47" r="1.90" fill="#3C78B8"/><circle cx="150.12" cy="48.97" r="0.70" fill="#9cc"/>
<circle cx="156.75" cy="56.60" r="1.90" fill="#3C78B8"/><circle cx="156.25" cy="56.10" r="0.70" fill="#9cc"/>
<circle cx="162.88" cy="63.15" r="1.90" fill="#3C78B8"/><circle cx="162.38" cy="62.65" r="0.70" fill="#9cc"/>
<circle cx="169.00" cy="69.19" r="1.90" fill="#3C78B8"/><circle cx="168.50" cy="68.69" r="0.70" fill="#9cc"/>
<circle cx="175.12" cy="74.78" r="1.90" fill="#3C78B8"/><circle cx="174.62" cy="74.28" r="0.70" fill="#9cc"/>
<circle cx="181.25" cy="79.96" r="1.90" fill="#3C78B8"/><circle cx="180.75" cy="79.46" r="0.70" fill="#9cc"/>
<circle cx="187.38" cy="84.77" r="1.90" fill="#3C78B8"/><circle cx="186.88" cy="84.27" r="0.70" fill="#9cc"/>
<circle cx="193.50" cy="89.25" r="1.90" fill="#3C78B8"/><circle cx="193.00" cy="88.75" r="0.70" fill="#9cc"/>
<circle cx="199.62" cy="93.43" r="1.90" fill="#3C78B8"/><circle cx="199.12" cy="92.93" r="0.70" fill="#9cc"/>
<circle cx="205.75" cy="97.34" r="1.90" fill="#3C78B8"/><circle cx="205.25" cy="96.84" r="0.70" fill="#9cc"/>
<circle cx="211.88" cy="101.01" r="1.90" fill="#3C78B8"/><circle cx="211.38" cy="100.51" r="0.70" fill="#9cc"/>
<circle cx="218.00" cy="104.45" r="1.90" fill="#3C78B8"/><circle cx="217.50" cy="103.95" r="0.70" fill="#9cc"/>
<circle cx="224.12" cy="107.68" r="1.90" fill="#3C78B8"/><circle cx="223.62" cy="107.18" r="0.70" fill="#9cc"/>
<circle cx="230.25" cy="110.72" r="1.90" fill="#3C78B8"/><circle cx="229.75" cy="110.22" r="0.70" fill="#9cc"/>
<circle cx="236.38" cy="113.59" r="1.90" fill="#3C78B8"/><circle cx="235.88" cy="113.09" r="0.70" fill="#9cc"/>
<circle cx="242.50" cy="116.30" r="1.90" fill="#3C78B8"/><circle cx="242.00" cy="115.80" r="0.70" fill="#9cc"/>
<circle cx="248.62" cy="118.86" r="1.90" fill="#3C78B8"/><circle cx="248.12" cy="118.36" r="0.70" fill="#9cc"/>
<circle cx="254.75" cy="121.29" r="1.90" fill="#3C78B8"/><circle cx="254.25" cy="120.79" r="0.70" fill="#9cc"/>
<circle cx="260.88" cy="123.58" r="1.90" fill="#3C78B8"/><circle cx="260.38" cy="123.08" r="0.70" fill="#9cc"/>
<circle cx="267.00" cy="125.76" r="1.90" fill="#3C78B8"/><circle cx="266.50" cy="125.26" r="0.70" fill="#9cc"/>
<circle cx="273.12" cy="127.84" r="1.90" fill="#3C78B8"/><circle cx="272.62" cy="127.34" r="0.70" fill="#9cc"/>
<circle cx="279.25" cy="129.81" r="1.90" fill="#3C78B8"/><circle cx="278.75" cy="129.31" r="0.70" fill="#9cc"/>
<circle cx="285.38" cy="131.68" r="1.90" fill="#3C78B8"/><circle cx="284.88" cy="131.18" r="0.70" fill="#9cc"/>
<circle cx="291.50" cy="133.47" r="1.90" fill="#3C78B8"/><circle cx="291.00" cy="132.97" r="0.70" fill="#9cc"/>
<circle cx="297.62" cy="135.17" r="1.90" fill="#3C78B8"/><circle cx="297.12" cy="134.67" r="0.70" fill="#9cc"/>
<circle cx="303.75" cy="136.80" r="1.90" fill="#3C78B8"/><circle cx="303.25" cy="136.30" r="0.70" fill="#9cc"/>
<circle cx="309.88" cy="138.35" r="1.90" fill="#3C78B8"/><circle cx="309.38" cy="137.85" r="0.70" fill="#9cc"/>
<circle cx="316.00" cy="139.83" r="1.90" fill="#3C78B8"/><circle cx="315.50" cy="139.33" r="0.70" fill="#9cc"/>
<circle cx="322.12" cy="141.25" r="1.90" fill="#3C78B8"/><circle cx="321.62" cy="140.75" r="0.70" fill="#9cc"/>
<circle cx="328.25" cy="142.61" r="1.90" fill="#3C78B8"/><circle cx="327.75" cy="142.11" r="0.70" fill="#9cc"/>
<circle cx="334.38" cy="143.91" r="1.90" fill="#3C78B8"/><circle cx="333.88" cy="143.41" r="0.70" fill="#9cc"/>
<circle cx="340.50" cy="145.16" r="1.90" fill="#3C78B8"/><circle cx="340.00" cy="144.66" r="0.70" fill="#9cc"/>
<circle cx="346.62" cy="146.36" r="1.90" fill="#3C78B8"/><circle cx="346.12" cy="145.86" r="0.70" fill="#9cc"/>
<circle cx="352.75" cy="147.51" r="1.90" fill="#3C78B8"/><circle cx="352.25" cy="147.01" r="0.70" fill="#9cc"/>
<circle cx="358.88" cy="148.61" r="1.90" fill="#3C78B8"/><circle cx="358.38" cy="148.11" r="0.70" fill="#9cc"/>
<circle cx="365.00" cy="149.68" r="1.90" fill="#3C78B8"/><circle cx="364.50" cy="149.18" r="0.70" fill="#9cc"/>
<circle cx="371.12" cy="150.70" r="1.90" fill="#3C78B8"/><circle cx="370.62" cy="150.20" r="0.70" fill="#9cc"/>
<circle cx="377.25" cy="151.68" r="1.90" fill="#3C78B8"/><circle cx="376.75" cy="151.18" r="0.70" fill="#9cc"/>
<circle cx="383.38" cy="152.62" r="1.90" fill="#3C78B8"/><circle cx="382.88" cy="152.12" r="0.70" fill="#9cc"/>
<circle cx="389.50" cy="153.53" r="1.90" fill="#3C78B8"/><circle cx="389.00" cy="153.03" r="0.70" fill="#9cc"/>
<circle cx="395.62" cy="154.41" r="1.90" fill="#3C78B8"/><circle cx="395.12" cy="153.91" r="0.70" fill="#9cc"/>
<circle cx="401.75" cy="155.25" r="1.90" fill="#3C78B8"/><circle cx="401.25" cy="154.75" r="0.70" fill="#9cc"/>
<circle cx="407.88" cy="156.07" r="1.90" fill="#3C78B8"/><circle cx="407.38" cy="155.57" r="0.70" fill="#9cc"/>
<circle cx="414.00" cy="156.86" r="1.90" fill="#3C78B8"/><circle cx="413.50" cy="156.36" r="0.70" fill="#9cc"/>
<circle cx="420.12" cy="157.62" r="1.90" fill="#3C78B8"/><circle cx="419.62" cy="157.12" r="0.70" fill="#9cc"/>
<circle cx="426.25" cy="158.35" r="1.90" fill="#3C78B8"/><circle cx="425.75" cy="157.85" r="0.70" fill="#9cc"/>
<circle cx="432.38" cy="159.06" r="1.90" fill="#3C78B8"/><circle cx="431.88" cy="158.56" r="0.70" fill="#9cc"/>
<circle cx="438.50" cy="159.74" r="1.90" fill="#3C78B8"/><circle cx="438.00" cy="159.24" r="0.70" fill="#9cc"/>
</g>
<rect x="46.5" y="5.5" width="392.0" height="288.0" fill="none" stroke="#000" stroke-width="1.15"/>
<path d="M40.80,293.50H46.5" stroke="#000" stroke-width="1.1"/>
<text x="37.30" y="297.40" text-anchor="end" font-size="11.5">-50</text>
<path d="M43.50,279.50H46.5" stroke="#000" stroke-width="1.1"/>
<path d="M40.80,264.50H46.5" stroke="#000" stroke-width="1.1"/>
<text x="37.30" y="268.40" text-anchor="end" font-size="11.5">-40</text>
<path d="M43.50,250.50H46.5" stroke="#000" stroke-width="1.1"/>
<path d="M40.80,235.50H46.5" stroke="#000" stroke-width="1.1"/>
<text x="37.30" y="239.40" text-anchor="end" font-size="11.5">-30</text>
<path d="M43.50,221.50H46.5" stroke="#000" stroke-width="1.1"/>
<path d="M40.80,207.50H46.5" stroke="#000" stroke-width="1.1"/>
<text x="37.30" y="211.40" text-anchor="end" font-size="11.5">-20</text>
<path d="M43.50,192.50H46.5" stroke="#000" stroke-width="1.1"/>
<path d="M40.80,178.50H46.5" stroke="#000" stroke-width="1.1"/>
<text x="37.30" y="182.40" text-anchor="end" font-size="11.5">-10</text>
<path d="M43.50,163.50H46.5" stroke="#000" stroke-width="1.1"/>
<path d="M40.80,149.50H46.5" stroke="#000" stroke-width="1.1"/>
<text x="37.30" y="153.40" text-anchor="end" font-size="11.5">0</text>
<path d="M43.50,135.50H46.5" stroke="#000" stroke-width="1.1"/>
<path d="M40.80,120.50H46.5" stroke="#000" stroke-width="1.1"/>
<text x="37.30" y="124.40" text-anchor="end" font-size="11.5">10</text>
<path d="M43.50,106.50H46.5" stroke="#000" stroke-width="1.1"/>
<path d="M40.80,91.50H46.5" stroke="#000" stroke-width="1.1"/>
<text x="37.30" y="95.40" text-anchor="end" font-size="11.5">20</text>
<path d="M43.50,77.50H46.5" stroke="#000" stroke-width="1.1"/>
<path d="M40.80,63.50H46.5" stroke="#000" stroke-width="1.1"/>
<text x="37.30" y="67.40" text-anchor="end" font-size="11.5">30</text>
<path d="M43.50,48.50H46.5" stroke="#000" stroke-width="1.1"/>
<path d="M40.80,34.50H46.5" stroke="#000" stroke-width="1.1"/>
<text x="37.30" y="38.40" text-anchor="end" font-size="11.5">40</text>
<path d="M43.50,19.50H46.5" stroke="#000" stroke-width="1.1"/>
<path d="M40.80,5.50H46.5" stroke="#000" stroke-width="1.1"/>
<text x="37.30" y="9.40" text-anchor="end" font-size="11.5">50</text>
<path d="M71.50,293.5V298.80" stroke="#000" stroke-width="1.1"/>
<text x="71.50" y="311.70" text-anchor="middle" font-size="11.5">500</text>
<path d="M101.50,293.5V296.50" stroke="#000" stroke-width="1.1"/>
<path d="M132.50,293.5V298.80" stroke="#000" stroke-width="1.1"/>
<text x="132.50" y="311.70" text-anchor="middle" font-size="11.5">1000</text>
<path d="M162.50,293.5V296.50" stroke="#000" stroke-width="1.1"/>
<path d="M193.50,293.5V298.80" stroke="#000" stroke-width="1.1"/>
<text x="193.50" y="311.70" text-anchor="middle" font-size="11.5">1500</text>
<path d="M224.50,293.5V296.50" stroke="#000" stroke-width="1.1"/>
<path d="M254.50,293.5V298.80" stroke="#000" stroke-width="1.1"/>
<text x="254.50" y="311.70" text-anchor="middle" font-size="11.5">2000</text>
<path d="M285.50,293.5V296.50" stroke="#000" stroke-width="1.1"/>
<path d="M316.50,293.5V298.80" stroke="#000" stroke-width="1.1"/>
<text x="316.50" y="311.70" text-anchor="middle" font-size="11.5">2500</text>
<path d="M346.50,293.5V296.50" stroke="#000" stroke-width="1.1"/>
<path d="M377.50,293.5V298.80" stroke="#000" stroke-width="1.1"/>
<text x="377.50" y="311.70" text-anchor="middle" font-size="11.5">3000</text>
<path d="M407.50,293.5V296.50" stroke="#000" stroke-width="1.1"/>
<path d="M438.50,293.5V298.80" stroke="#000" stroke-width="1.1"/>
<text x="438.50" y="311.70" text-anchor="middle" font-size="11.5">3500</text>
<text transform="translate(15.3,149.20) rotate(-90)" text-anchor="middle" font-size="14">ln(k)</text>
<text x="243.10" y="334.80" text-anchor="middle" font-size="14" letter-spacing="0.18">Temperature(K)</text>
<defs><clipPath id="clipb"><rect x="46.5" y="402.5" width="392.0" height="288.0"/></clipPath></defs>
<g clip-path="url(#clipb)">
<polyline points="46.50,752.36 48.47,736.30 50.44,721.82 52.41,708.69 54.38,696.73 56.35,685.80 58.32,675.77 60.29,666.53 62.26,657.99 64.23,650.08 66.20,642.73 68.17,635.88 70.14,629.49 72.11,623.51 74.08,617.90 76.05,612.64 78.02,607.68 79.99,603.00 81.96,598.59 83.93,594.42 85.90,590.46 87.87,586.71 89.84,583.15 91.81,579.77 93.78,576.54 95.75,573.47 97.72,570.54 99.69,567.74 101.66,565.06 103.63,562.50 105.60,560.05 107.57,557.70 109.54,555.45 111.51,553.28 113.47,551.20 115.44,549.20 117.41,547.28 119.38,545.42 121.35,543.64 123.32,541.92 125.29,540.26 127.26,538.65 129.23,537.10 131.20,535.61 133.17,534.16 135.14,532.76 137.11,531.41 139.08,530.10 141.05,528.82 143.02,527.59 144.99,526.40 146.96,525.24 148.93,524.12 150.90,523.02 152.87,521.96 154.84,520.93 156.81,519.93 158.78,518.96 160.75,518.01 162.72,517.09 164.69,516.20 166.66,515.32 168.63,514.47 170.60,513.64 172.57,512.84 174.54,512.05 176.51,511.28 178.48,510.53 180.45,509.80 182.42,509.09 184.39,508.39 186.36,507.71 188.33,507.05 190.30,506.40 192.27,505.77 194.24,505.15 196.21,504.54 198.18,503.95 200.15,503.37 202.12,502.81 204.09,502.25 206.06,501.71 208.03,501.18 210.00,500.66 211.97,500.15 213.94,499.65 215.91,499.16 217.88,498.68 219.85,498.22 221.82,497.76 223.79,497.31 225.76,496.86 227.73,496.43 229.70,496.01 231.67,495.59 233.64,495.18 235.61,494.78 237.58,494.39 239.55,494.00 241.52,493.62 243.48,493.25 245.45,492.88 247.42,492.52 249.39,492.17 251.36,491.82 253.33,491.48 255.30,491.15 257.27,490.82 259.24,490.50 261.21,490.18 263.18,489.87 265.15,489.56 267.12,489.26 269.09,488.96 271.06,488.67 273.03,488.38 275.00,488.10 276.97,487.82 278.94,487.54 280.91,487.28 282.88,487.01 284.85,486.75 286.82,486.49 288.79,486.24 290.76,485.99 292.73,485.74 294.70,485.50 296.67,485.27 298.64,485.03 300.61,484.80 302.58,484.57 304.55,484.35 306.52,484.13 308.49,483.91 310.46,483.70 312.43,483.48 314.40,483.28 316.37,483.07 318.34,482.87 320.31,482.67 322.28,482.47 324.25,482.28 326.22,482.09 328.19,481.90 330.16,481.71 332.13,481.53 334.10,481.35 336.07,481.17 338.04,480.99 340.01,480.82 341.98,480.65 343.95,480.48 345.92,480.31 347.89,480.14 349.86,479.98 351.83,479.82 353.80,479.66 355.77,479.51 357.74,479.35 359.71,479.20 361.68,479.05 363.65,478.90 365.62,478.75 367.59,478.61 369.56,478.46 371.53,478.32 373.49,478.18 375.46,478.04 377.43,477.91 379.40,477.77 381.37,477.64 383.34,477.51 385.31,477.38 387.28,477.25 389.25,477.12 391.22,477.00 393.19,476.87 395.16,476.75 397.13,476.63 399.10,476.51 401.07,476.39 403.04,476.28 405.01,476.16 406.98,476.05 408.95,475.93 410.92,475.82 412.89,475.71 414.86,475.60 416.83,475.49 418.80,475.39 420.77,475.28 422.74,475.18 424.71,475.07 426.68,474.97 428.65,474.87 430.62,474.77 432.59,474.67 434.56,474.57 436.53,474.48 438.50,474.38" fill="none" stroke="#000000" stroke-width="1.25"/>
<rect x="57.15" y="672.08" width="3.20" height="3.20" fill="#000000"/>
<rect x="63.27" y="646.01" width="3.20" height="3.20" fill="#000000"/>
<rect x="69.40" y="625.23" width="3.20" height="3.20" fill="#000000"/>
<rect x="75.53" y="608.29" width="3.20" height="3.20" fill="#000000"/>
<rect x="81.65" y="594.22" width="3.20" height="3.20" fill="#000000"/>
<rect x="87.78" y="582.37" width="3.20" height="3.20" fill="#000000"/>
<rect x="93.90" y="572.25" width="3.20" height="3.20" fill="#000000"/>
<rect x="100.03" y="563.51" width="3.20" height="3.20" fill="#000000"/>
<rect x="106.15" y="555.89" width="3.20" height="3.20" fill="#000000"/>
<rect x="112.28" y="549.19" width="3.20" height="3.20" fill="#000000"/>
<rect x="118.40" y="543.26" width="3.20" height="3.20" fill="#000000"/>
<rect x="124.53" y="537.97" width="3.20" height="3.20" fill="#000000"/>
<rect x="130.65" y="533.23" width="3.20" height="3.20" fill="#000000"/>
<rect x="136.78" y="528.96" width="3.20" height="3.20" fill="#000000"/>
<rect x="142.90" y="525.09" width="3.20" height="3.20" fill="#000000"/>
<rect x="149.03" y="521.58" width="3.20" height="3.20" fill="#000000"/>
<rect x="155.15" y="518.36" width="3.20" height="3.20" fill="#000000"/>
<rect x="161.28" y="515.42" width="3.20" height="3.20" fill="#000000"/>
<rect x="167.40" y="512.71" width="3.20" height="3.20" fill="#000000"/>
<rect x="173.53" y="510.22" width="3.20" height="3.20" fill="#000000"/>
<rect x="179.65" y="507.91" width="3.20" height="3.20" fill="#000000"/>
<rect x="185.78" y="505.77" width="3.20" height="3.20" fill="#000000"/>
<rect x="191.90" y="503.78" width="3.20" height="3.20" fill="#000000"/>
<rect x="198.03" y="501.92" width="3.20" height="3.20" fill="#000000"/>
<rect x="204.15" y="500.19" width="3.20" height="3.20" fill="#000000"/>
<rect x="210.28" y="498.57" width="3.20" height="3.20" fill="#000000"/>
<rect x="216.40" y="497.05" width="3.20" height="3.20" fill="#000000"/>
<rect x="222.53" y="495.63" width="3.20" height="3.20" fill="#000000"/>
<rect x="228.65" y="494.29" width="3.20" height="3.20" fill="#000000"/>
<rect x="234.78" y="493.02" width="3.20" height="3.20" fill="#000000"/>
<rect x="240.90" y="491.83" width="3.20" height="3.20" fill="#000000"/>
<rect x="247.03" y="490.71" width="3.20" height="3.20" fill="#000000"/>
<rect x="253.15" y="489.64" width="3.20" height="3.20" fill="#000000"/>
<rect x="259.27" y="488.63" width="3.20" height="3.20" fill="#000000"/>
<rect x="265.40" y="487.67" width="3.20" height="3.20" fill="#000000"/>
<rect x="271.52" y="486.77" width="3.20" height="3.20" fill="#000000"/>
<rect x="277.65" y="485.90" width="3.20" height="3.20" fill="#000000"/>
<rect x="283.77" y="485.08" width="3.20" height="3.20" fill="#000000"/>
<rect x="289.90" y="484.30" width="3.20" height="3.20" fill="#000000"/>
<rect x="296.02" y="483.55" width="3.20" height="3.20" fill="#000000"/>
<rect x="302.15" y="482.84" width="3.20" height="3.20" fill="#000000"/>
<rect x="308.27" y="482.16" width="3.20" height="3.20" fill="#000000"/>
<rect x="314.40" y="481.51" width="3.20" height="3.20" fill="#000000"/>
<rect x="320.52" y="480.89" width="3.20" height="3.20" fill="#000000"/>
<rect x="326.65" y="480.29" width="3.20" height="3.20" fill="#000000"/>
<rect x="332.77" y="479.72" width="3.20" height="3.20" fill="#000000"/>
<rect x="338.90" y="479.17" width="3.20" height="3.20" fill="#000000"/>
<rect x="345.02" y="478.65" width="3.20" height="3.20" fill="#000000"/>
<rect x="351.15" y="478.15" width="3.20" height="3.20" fill="#000000"/>
<rect x="357.27" y="477.66" width="3.20" height="3.20" fill="#000000"/>
<rect x="363.40" y="477.20" width="3.20" height="3.20" fill="#000000"/>
<rect x="369.52" y="476.75" width="3.20" height="3.20" fill="#000000"/>
<rect x="375.65" y="476.32" width="3.20" height="3.20" fill="#000000"/>
<rect x="381.77" y="475.91" width="3.20" height="3.20" fill="#000000"/>
<rect x="387.90" y="475.51" width="3.20" height="3.20" fill="#000000"/>
<rect x="394.02" y="475.12" width="3.20" height="3.20" fill="#000000"/>
<rect x="400.15" y="474.75" width="3.20" height="3.20" fill="#000000"/>
<rect x="406.27" y="474.39" width="3.20" height="3.20" fill="#000000"/>
<rect x="412.40" y="474.05" width="3.20" height="3.20" fill="#000000"/>
<rect x="418.52" y="473.72" width="3.20" height="3.20" fill="#000000"/>
<rect x="424.65" y="473.39" width="3.20" height="3.20" fill="#000000"/>
<rect x="430.77" y="473.08" width="3.20" height="3.20" fill="#000000"/>
<rect x="436.90" y="472.78" width="3.20" height="3.20" fill="#000000"/>
<polyline points="46.50,1011.33 48.47,980.67 50.44,953.01 52.41,927.94 54.38,905.11 56.35,884.24 58.32,865.09 60.29,847.46 62.26,831.18 64.23,816.09 66.20,802.07 68.17,789.02 70.14,776.84 72.11,765.44 74.08,754.76 76.05,744.72 78.02,735.28 79.99,726.38 81.96,717.97 83.93,710.02 85.90,702.50 87.87,695.36 89.84,688.59 91.81,682.15 93.78,676.02 95.75,670.18 97.72,664.61 99.69,659.29 101.66,654.20 103.63,649.34 105.60,644.68 107.57,640.22 109.54,635.94 111.51,631.83 113.47,627.88 115.44,624.08 117.41,620.43 119.38,616.92 121.35,613.53 123.32,610.27 125.29,607.12 127.26,604.08 129.23,601.15 131.20,598.31 133.17,595.57 135.14,592.92 137.11,590.36 139.08,587.88 141.05,585.47 143.02,583.14 144.99,580.88 146.96,578.69 148.93,576.57 150.90,574.50 152.87,572.50 154.84,570.55 156.81,568.66 158.78,566.82 160.75,565.04 162.72,563.30 164.69,561.60 166.66,559.96 168.63,558.35 170.60,556.79 172.57,555.27 174.54,553.78 176.51,552.34 178.48,550.92 180.45,549.55 182.42,548.21 184.39,546.89 186.36,545.62 188.33,544.37 190.30,543.15 192.27,541.95 194.24,540.79 196.21,539.65 198.18,538.54 200.15,537.45 202.12,536.39 204.09,535.34 206.06,534.33 208.03,533.33 210.00,532.35 211.97,531.40 213.94,530.46 215.91,529.55 217.88,528.65 219.85,527.77 221.82,526.91 223.79,526.06 225.76,525.23 227.73,524.42 229.70,523.63 231.67,522.85 233.64,522.08 235.61,521.33 237.58,520.59 239.55,519.87 241.52,519.16 243.48,518.47 245.45,517.78 247.42,517.11 249.39,516.45 251.36,515.80 253.33,515.17 255.30,514.54 257.27,513.93 259.24,513.32 261.21,512.73 263.18,512.15 265.15,511.58 267.12,511.01 269.09,510.46 271.06,509.92 273.03,509.38 275.00,508.85 276.97,508.34 278.94,507.83 280.91,507.32 282.88,506.83 284.85,506.35 286.82,505.87 288.79,505.40 290.76,504.93 292.73,504.48 294.70,504.03 296.67,503.59 298.64,503.15 300.61,502.72 302.58,502.30 304.55,501.89 306.52,501.48 308.49,501.07 310.46,500.68 312.43,500.29 314.40,499.90 316.37,499.52 318.34,499.14 320.31,498.77 322.28,498.41 324.25,498.05 326.22,497.70 328.19,497.35 330.16,497.00 332.13,496.67 334.10,496.33 336.07,496.00 338.04,495.68 340.01,495.35 341.98,495.04 343.95,494.73 345.92,494.42 347.89,494.11 349.86,493.81 351.83,493.52 353.80,493.22 355.77,492.94 357.74,492.65 359.71,492.37 361.68,492.09 363.65,491.82 365.62,491.55 367.59,491.28 369.56,491.02 371.53,490.76 373.49,490.50 375.46,490.25 377.43,490.00 379.40,489.75 381.37,489.51 383.34,489.27 385.31,489.03 387.28,488.79 389.25,488.56 391.22,488.33 393.19,488.10 395.16,487.88 397.13,487.66 399.10,487.44 401.07,487.22 403.04,487.01 405.01,486.80 406.98,486.59 408.95,486.38 410.92,486.18 412.89,485.98 414.86,485.78 416.83,485.58 418.80,485.38 420.77,485.19 422.74,485.00 424.71,484.81 426.68,484.63 428.65,484.44 430.62,484.26 432.59,484.08 434.56,483.90 436.53,483.73 438.50,483.55" fill="none" stroke="#FF0000" stroke-width="1.25"/>
<circle cx="89.38" cy="690.15" r="1.70" fill="#FF0000"/>
<circle cx="95.50" cy="670.89" r="1.70" fill="#FF0000"/>
<circle cx="101.62" cy="654.28" r="1.70" fill="#FF0000"/>
<circle cx="107.75" cy="639.81" r="1.70" fill="#FF0000"/>
<circle cx="113.88" cy="627.10" r="1.70" fill="#FF0000"/>
<circle cx="120.00" cy="615.85" r="1.70" fill="#FF0000"/>
<circle cx="126.12" cy="605.82" r="1.70" fill="#FF0000"/>
<circle cx="132.25" cy="596.85" r="1.70" fill="#FF0000"/>
<circle cx="138.38" cy="588.76" r="1.70" fill="#FF0000"/>
<circle cx="144.50" cy="581.44" r="1.70" fill="#FF0000"/>
<circle cx="150.62" cy="574.79" r="1.70" fill="#FF0000"/>
<circle cx="156.75" cy="568.72" r="1.70" fill="#FF0000"/>
<circle cx="162.88" cy="563.16" r="1.70" fill="#FF0000"/>
<circle cx="169.00" cy="558.06" r="1.70" fill="#FF0000"/>
<circle cx="175.12" cy="553.35" r="1.70" fill="#FF0000"/>
<circle cx="181.25" cy="549.00" r="1.70" fill="#FF0000"/>
<circle cx="187.38" cy="544.97" r="1.70" fill="#FF0000"/>
<circle cx="193.50" cy="541.22" r="1.70" fill="#FF0000"/>
<circle cx="199.62" cy="537.74" r="1.70" fill="#FF0000"/>
<circle cx="205.75" cy="534.48" r="1.70" fill="#FF0000"/>
<circle cx="211.88" cy="531.44" r="1.70" fill="#FF0000"/>
<circle cx="218.00" cy="528.59" r="1.70" fill="#FF0000"/>
<circle cx="224.12" cy="525.92" r="1.70" fill="#FF0000"/>
<circle cx="230.25" cy="523.41" r="1.70" fill="#FF0000"/>
<circle cx="236.38" cy="521.04" r="1.70" fill="#FF0000"/>
<circle cx="242.50" cy="518.81" r="1.70" fill="#FF0000"/>
<circle cx="248.62" cy="516.71" r="1.70" fill="#FF0000"/>
<circle cx="254.75" cy="514.72" r="1.70" fill="#FF0000"/>
<circle cx="260.88" cy="512.83" r="1.70" fill="#FF0000"/>
<circle cx="267.00" cy="511.05" r="1.70" fill="#FF0000"/>
<circle cx="273.12" cy="509.36" r="1.70" fill="#FF0000"/>
<circle cx="279.25" cy="507.75" r="1.70" fill="#FF0000"/>
<circle cx="285.38" cy="506.22" r="1.70" fill="#FF0000"/>
<circle cx="291.50" cy="504.76" r="1.70" fill="#FF0000"/>
<circle cx="297.62" cy="503.38" r="1.70" fill="#FF0000"/>
<circle cx="303.75" cy="502.06" r="1.70" fill="#FF0000"/>
<circle cx="309.88" cy="500.79" r="1.70" fill="#FF0000"/>
<circle cx="316.00" cy="499.59" r="1.70" fill="#FF0000"/>
<circle cx="322.12" cy="498.44" r="1.70" fill="#FF0000"/>
<circle cx="328.25" cy="497.34" r="1.70" fill="#FF0000"/>
<circle cx="334.38" cy="496.28" r="1.70" fill="#FF0000"/>
<circle cx="340.50" cy="495.27" r="1.70" fill="#FF0000"/>
<circle cx="346.62" cy="494.31" r="1.70" fill="#FF0000"/>
<circle cx="352.75" cy="493.38" r="1.70" fill="#FF0000"/>
<circle cx="358.88" cy="492.49" r="1.70" fill="#FF0000"/>
<circle cx="365.00" cy="491.63" r="1.70" fill="#FF0000"/>
<circle cx="371.12" cy="490.81" r="1.70" fill="#FF0000"/>
<circle cx="377.25" cy="490.02" r="1.70" fill="#FF0000"/>
<circle cx="383.38" cy="489.26" r="1.70" fill="#FF0000"/>
<circle cx="389.50" cy="488.53" r="1.70" fill="#FF0000"/>
<circle cx="395.62" cy="487.83" r="1.70" fill="#FF0000"/>
<circle cx="401.75" cy="487.15" r="1.70" fill="#FF0000"/>
<circle cx="407.88" cy="486.49" r="1.70" fill="#FF0000"/>
<circle cx="414.00" cy="485.86" r="1.70" fill="#FF0000"/>
<circle cx="420.12" cy="485.25" r="1.70" fill="#FF0000"/>
<circle cx="426.25" cy="484.67" r="1.70" fill="#FF0000"/>
<circle cx="432.38" cy="484.10" r="1.70" fill="#FF0000"/>
<circle cx="438.50" cy="483.55" r="1.70" fill="#FF0000"/>
<polyline points="46.50,758.52 48.47,743.18 50.44,729.31 52.41,716.71 54.38,705.22 56.35,694.70 58.32,685.02 60.29,675.94 62.26,667.20 64.23,659.03 66.20,651.58 68.17,644.66 70.14,638.20 72.11,632.10 74.08,626.31 76.05,620.93 78.02,616.09 79.99,611.79 81.96,607.81 83.93,603.93 85.90,600.21 87.87,596.69 89.84,593.33 91.81,590.15 93.78,587.11 95.75,584.21 97.72,581.45 99.69,578.81 101.66,576.28 103.63,573.85 105.60,571.53 107.57,569.30 109.54,567.15 111.51,565.09 113.47,563.11 115.44,561.20 117.41,559.36 119.38,557.58 121.35,555.87 123.32,554.21 125.29,552.61 127.26,551.06 129.23,549.56 131.20,548.11 133.17,546.70 135.14,545.33 137.11,544.01 139.08,542.72 141.05,541.47 143.02,540.25 144.99,539.07 146.96,537.92 148.93,536.80 150.90,535.71 152.87,534.65 154.84,533.61 156.81,532.60 158.78,531.62 160.75,530.66 162.72,529.72 164.69,528.80 166.66,527.90 168.63,527.02 170.60,526.16 172.57,525.29 174.54,524.41 176.51,523.55 178.48,522.68 180.45,521.83 182.42,520.98 184.39,520.15 186.36,519.34 188.33,518.54 190.30,517.76 192.27,517.01 194.24,516.28 196.21,515.55 198.18,514.85 200.15,514.15 202.12,513.46 204.09,512.78 206.06,512.12 208.03,511.46 210.00,510.82 211.97,510.18 213.94,509.56 215.91,508.95 217.88,508.35 219.85,507.75 221.82,507.17 223.79,506.60 225.76,506.05 227.73,505.50 229.70,504.96 231.67,504.43 233.64,503.91 235.61,503.40 237.58,502.90 239.55,502.42 241.52,501.94 243.48,501.47 245.45,501.01 247.42,500.56 249.39,500.12 251.36,499.70 253.33,499.28 255.30,498.87 257.27,498.46 259.24,498.06 261.21,497.67 263.18,497.28 265.15,496.90 267.12,496.53 269.09,496.16 271.06,495.79 273.03,495.43 275.00,495.08 276.97,494.73 278.94,494.39 280.91,494.05 282.88,493.71 284.85,493.39 286.82,493.07 288.79,492.75 290.76,492.44 292.73,492.13 294.70,491.83 296.67,491.53 298.64,491.24 300.61,490.96 302.58,490.68 304.55,490.40 306.52,490.13 308.49,489.86 310.46,489.60 312.43,489.35 314.40,489.09 316.37,488.85 318.34,488.61 320.31,488.37 322.28,488.14 324.25,487.91 326.22,487.69 328.19,487.47 330.16,487.26 332.13,487.06 334.10,486.87 336.07,486.68 338.04,486.51 340.01,486.35 341.98,486.19 343.95,486.05 345.92,485.90 347.89,485.77 349.86,485.64 351.83,485.52 353.80,485.41 355.77,485.29 357.74,485.19 359.71,485.09 361.68,484.99 363.65,484.89 365.62,484.80 367.59,484.72 369.56,484.63 371.53,484.55 373.49,484.47 375.46,484.39 377.43,484.32 379.40,484.24 381.37,484.17 383.34,484.10 385.31,484.03 387.28,483.96 389.25,483.88 391.22,483.81 393.19,483.74 395.16,483.67 397.13,483.60 399.10,483.53 401.07,483.46 403.04,483.38 405.01,483.31 406.98,483.23 408.95,483.15 410.92,483.07 412.89,482.99 414.86,482.91 416.83,482.82 418.80,482.73 420.77,482.64 422.74,482.55 424.71,482.45 426.68,482.36 428.65,482.25 430.62,482.15 432.59,482.04 434.56,481.93 436.53,481.82 438.50,481.70" fill="none" stroke="#0000FF" stroke-width="1.25"/>
<path d="M58.75,680.48L61.28,684.77L56.22,684.77Z" fill="#0000FF"/>
<path d="M64.88,653.99L67.41,658.28L62.34,658.28Z" fill="#0000FF"/>
<path d="M71.00,632.96L73.53,637.25L68.47,637.25Z" fill="#0000FF"/>
<path d="M77.12,615.68L79.66,619.97L74.59,619.97Z" fill="#0000FF"/>
<path d="M83.25,602.72L85.78,607.01L80.72,607.01Z" fill="#0000FF"/>
<path d="M89.38,591.58L91.91,595.87L86.84,595.87Z" fill="#0000FF"/>
<path d="M95.50,582.04L98.03,586.33L92.97,586.33Z" fill="#0000FF"/>
<path d="M101.62,573.78L104.16,578.07L99.09,578.07Z" fill="#0000FF"/>
<path d="M107.75,566.56L110.28,570.85L105.22,570.85Z" fill="#0000FF"/>
<path d="M113.88,560.19L116.41,564.48L111.34,564.48Z" fill="#0000FF"/>
<path d="M120.00,554.51L122.53,558.80L117.47,558.80Z" fill="#0000FF"/>
<path d="M126.12,549.42L128.66,553.71L123.59,553.71Z" fill="#0000FF"/>
<path d="M132.25,544.82L134.78,549.11L129.72,549.11Z" fill="#0000FF"/>
<path d="M138.38,540.65L140.91,544.94L135.84,544.94Z" fill="#0000FF"/>
<path d="M144.50,536.83L147.03,541.12L141.97,541.12Z" fill="#0000FF"/>
<path d="M150.62,533.33L153.16,537.62L148.09,537.62Z" fill="#0000FF"/>
<path d="M156.75,530.11L159.28,534.40L154.22,534.40Z" fill="#0000FF"/>
<path d="M162.88,527.11L165.41,531.40L160.34,531.40Z" fill="#0000FF"/>
<path d="M169.00,524.33L171.53,528.62L166.47,528.62Z" fill="#0000FF"/>
<path d="M175.12,521.63L177.66,525.92L172.59,525.92Z" fill="#0000FF"/>
<path d="M181.25,518.95L183.78,523.24L178.72,523.24Z" fill="#0000FF"/>
<path d="M187.38,516.40L189.91,520.69L184.84,520.69Z" fill="#0000FF"/>
<path d="M193.50,514.02L196.03,518.31L190.97,518.31Z" fill="#0000FF"/>
<path d="M199.62,511.80L202.16,516.09L197.09,516.09Z" fill="#0000FF"/>
<path d="M205.75,509.69L208.28,513.98L203.22,513.98Z" fill="#0000FF"/>
<path d="M211.88,507.68L214.41,511.97L209.34,511.97Z" fill="#0000FF"/>
<path d="M218.00,505.78L220.53,510.07L215.47,510.07Z" fill="#0000FF"/>
<path d="M224.12,503.98L226.66,508.27L221.59,508.27Z" fill="#0000FF"/>
<path d="M230.25,502.28L232.78,506.57L227.72,506.57Z" fill="#0000FF"/>
<path d="M236.38,500.68L238.91,504.97L233.84,504.97Z" fill="#0000FF"/>
<path d="M242.50,499.17L245.03,503.46L239.97,503.46Z" fill="#0000FF"/>
<path d="M248.62,497.77L251.16,502.06L246.09,502.06Z" fill="#0000FF"/>
<path d="M254.75,496.45L257.28,500.74L252.22,500.74Z" fill="#0000FF"/>
<path d="M260.88,495.21L263.40,499.50L258.35,499.50Z" fill="#0000FF"/>
<path d="M267.00,494.02L269.53,498.31L264.47,498.31Z" fill="#0000FF"/>
<path d="M273.12,492.88L275.65,497.17L270.60,497.17Z" fill="#0000FF"/>
<path d="M279.25,491.80L281.78,496.09L276.72,496.09Z" fill="#0000FF"/>
<path d="M285.38,490.77L287.90,495.06L282.85,495.06Z" fill="#0000FF"/>
<path d="M291.50,489.79L294.03,494.08L288.97,494.08Z" fill="#0000FF"/>
<path d="M297.62,488.86L300.15,493.15L295.10,493.15Z" fill="#0000FF"/>
<path d="M303.75,487.98L306.28,492.27L301.22,492.27Z" fill="#0000FF"/>
<path d="M309.88,487.15L312.40,491.44L307.35,491.44Z" fill="#0000FF"/>
<path d="M316.00,486.36L318.53,490.65L313.47,490.65Z" fill="#0000FF"/>
<path d="M322.12,485.62L324.65,489.91L319.60,489.91Z" fill="#0000FF"/>
<path d="M328.25,484.93L330.78,489.22L325.72,489.22Z" fill="#0000FF"/>
<path d="M334.38,484.31L336.90,488.60L331.85,488.60Z" fill="#0000FF"/>
<path d="M340.50,483.78L343.03,488.07L337.97,488.07Z" fill="#0000FF"/>
<path d="M346.62,483.33L349.15,487.62L344.10,487.62Z" fill="#0000FF"/>
<path d="M352.75,482.94L355.28,487.23L350.22,487.23Z" fill="#0000FF"/>
<path d="M358.88,482.60L361.40,486.89L356.35,486.89Z" fill="#0000FF"/>
<path d="M365.00,482.30L367.53,486.59L362.47,486.59Z" fill="#0000FF"/>
<path d="M371.12,482.04L373.65,486.33L368.60,486.33Z" fill="#0000FF"/>
<path d="M377.25,481.79L379.78,486.08L374.72,486.08Z" fill="#0000FF"/>
<path d="M383.38,481.57L385.90,485.86L380.85,485.86Z" fill="#0000FF"/>
<path d="M389.50,481.35L392.03,485.64L386.97,485.64Z" fill="#0000FF"/>
<path d="M395.62,481.13L398.15,485.42L393.10,485.42Z" fill="#0000FF"/>
<path d="M401.75,480.90L404.28,485.19L399.22,485.19Z" fill="#0000FF"/>
<path d="M407.88,480.67L410.40,484.96L405.35,484.96Z" fill="#0000FF"/>
<path d="M414.00,480.41L416.53,484.70L411.47,484.70Z" fill="#0000FF"/>
<path d="M420.12,480.14L422.65,484.43L417.60,484.43Z" fill="#0000FF"/>
<path d="M426.25,479.85L428.78,484.14L423.72,484.14Z" fill="#0000FF"/>
<path d="M432.38,479.52L434.90,483.81L429.85,483.81Z" fill="#0000FF"/>
<path d="M438.50,479.17L441.03,483.46L435.97,483.46Z" fill="#0000FF"/>
<polyline points="46.50,774.75 48.47,758.43 50.44,743.71 52.41,730.34 54.38,718.17 56.35,707.02 58.32,696.79 60.29,687.36 62.26,678.64 64.23,670.55 66.20,663.03 68.17,656.02 70.14,649.48 72.11,643.34 74.08,637.59 76.05,632.18 78.02,627.09 79.99,622.28 81.96,617.74 83.93,613.44 85.90,609.36 87.87,605.50 89.84,601.82 91.81,598.32 93.78,594.99 95.75,591.81 97.72,588.78 99.69,585.88 101.66,583.11 103.63,580.45 105.60,577.90 107.57,575.46 109.54,573.11 111.51,570.86 113.47,568.69 115.44,566.61 117.41,564.60 119.38,562.67 121.35,560.80 123.32,559.00 125.29,557.26 127.26,555.58 129.23,553.96 131.20,552.39 133.17,550.87 135.14,549.40 137.11,547.98 139.08,546.60 141.05,545.26 143.02,543.96 144.99,542.70 146.96,541.48 148.93,540.29 150.90,539.14 152.87,538.02 154.84,536.93 156.81,535.86 158.78,534.83 160.75,533.83 162.72,532.85 164.69,531.89 166.66,530.97 168.63,530.06 170.60,529.18 172.57,528.32 174.54,527.48 176.51,526.66 178.48,525.86 180.45,525.07 182.42,524.31 184.39,523.56 186.36,522.84 188.33,522.12 190.30,521.43 192.27,520.74 194.24,520.08 196.21,519.43 198.18,518.79 200.15,518.16 202.12,517.55 204.09,516.95 206.06,516.37 208.03,515.79 210.00,515.23 211.97,514.68 213.94,514.14 215.91,513.61 217.88,513.09 219.85,512.58 221.82,512.08 223.79,511.58 225.76,511.10 227.73,510.63 229.70,510.17 231.67,509.71 233.64,509.26 235.61,508.82 237.58,508.39 239.55,507.97 241.52,507.55 243.48,507.14 245.45,506.74 247.42,506.34 249.39,505.95 251.36,505.57 253.33,505.20 255.30,504.83 257.27,504.46 259.24,504.11 261.21,503.75 263.18,503.41 265.15,503.07 267.12,502.73 269.09,502.40 271.06,502.08 273.03,501.76 275.00,501.44 276.97,501.13 278.94,500.82 280.91,500.52 282.88,500.23 284.85,499.93 286.82,499.65 288.79,499.36 290.76,499.08 292.73,498.81 294.70,498.54 296.67,498.27 298.64,498.00 300.61,497.74 302.58,497.49 304.55,497.23 306.52,496.98 308.49,496.74 310.46,496.49 312.43,496.25 314.40,496.02 316.37,495.79 318.34,495.56 320.31,495.33 322.28,495.10 324.25,494.88 326.22,494.66 328.19,494.45 330.16,494.24 332.13,494.03 334.10,493.82 336.07,493.61 338.04,493.41 340.01,493.21 341.98,493.01 343.95,492.82 345.92,492.63 347.89,492.44 349.86,492.25 351.83,492.06 353.80,491.88 355.77,491.70 357.74,491.52 359.71,491.34 361.68,491.17 363.65,490.99 365.62,490.82 367.59,490.65 369.56,490.49 371.53,490.32 373.49,490.16 375.46,490.00 377.43,489.84 379.40,489.68 381.37,489.52 383.34,489.37 385.31,489.22 387.28,489.06 389.25,488.92 391.22,488.77 393.19,488.62 395.16,488.48 397.13,488.33 399.10,488.19 401.07,488.05 403.04,487.91 405.01,487.78 406.98,487.64 408.95,487.51 410.92,487.37 412.89,487.24 414.86,487.11 416.83,486.98 418.80,486.86 420.77,486.73 422.74,486.60 424.71,486.48 426.68,486.36 428.65,486.24 430.62,486.12 432.59,486.00 434.56,485.88 436.53,485.76 438.50,485.65" fill="none" stroke="#FF00FF" stroke-width="1.25"/>
<path d="M64.88,670.67L67.52,666.18L62.23,666.18Z" fill="#FF00FF"/>
<path d="M71.00,649.39L73.64,644.90L68.36,644.90Z" fill="#FF00FF"/>
<path d="M77.12,632.00L79.77,627.52L74.48,627.52Z" fill="#FF00FF"/>
<path d="M83.25,617.54L85.89,613.05L80.61,613.05Z" fill="#FF00FF"/>
<path d="M89.38,605.31L92.02,600.83L86.73,600.83Z" fill="#FF00FF"/>
<path d="M95.50,594.85L98.14,590.36L92.86,590.36Z" fill="#FF00FF"/>
<path d="M101.62,585.79L104.27,581.31L98.98,581.31Z" fill="#FF00FF"/>
<path d="M107.75,577.88L110.39,573.40L105.11,573.40Z" fill="#FF00FF"/>
<path d="M113.88,570.91L116.52,566.42L111.23,566.42Z" fill="#FF00FF"/>
<path d="M120.00,564.72L122.64,560.24L117.36,560.24Z" fill="#FF00FF"/>
<path d="M126.12,559.19L128.77,554.71L123.48,554.71Z" fill="#FF00FF"/>
<path d="M132.25,554.22L134.90,549.74L129.60,549.74Z" fill="#FF00FF"/>
<path d="M138.38,549.73L141.02,545.25L135.73,545.25Z" fill="#FF00FF"/>
<path d="M144.50,545.66L147.15,541.17L141.85,541.17Z" fill="#FF00FF"/>
<path d="M150.62,541.94L153.27,537.46L147.98,537.46Z" fill="#FF00FF"/>
<path d="M156.75,538.54L159.40,534.06L154.10,534.06Z" fill="#FF00FF"/>
<path d="M162.88,535.42L165.52,530.93L160.23,530.93Z" fill="#FF00FF"/>
<path d="M169.00,532.54L171.65,528.05L166.35,528.05Z" fill="#FF00FF"/>
<path d="M175.12,529.88L177.77,525.39L172.48,525.39Z" fill="#FF00FF"/>
<path d="M181.25,527.41L183.90,522.92L178.60,522.92Z" fill="#FF00FF"/>
<path d="M187.38,525.11L190.02,520.63L184.73,520.63Z" fill="#FF00FF"/>
<path d="M193.50,522.97L196.15,518.49L190.85,518.49Z" fill="#FF00FF"/>
<path d="M199.62,520.97L202.27,516.49L196.98,516.49Z" fill="#FF00FF"/>
<path d="M205.75,519.10L208.40,514.62L203.10,514.62Z" fill="#FF00FF"/>
<path d="M211.88,517.35L214.52,512.86L209.23,512.86Z" fill="#FF00FF"/>
<path d="M218.00,515.70L220.65,511.21L215.35,511.21Z" fill="#FF00FF"/>
<path d="M224.12,514.15L226.77,509.66L221.48,509.66Z" fill="#FF00FF"/>
<path d="M230.25,512.68L232.90,508.20L227.60,508.20Z" fill="#FF00FF"/>
<path d="M236.38,511.30L239.02,506.81L233.73,506.81Z" fill="#FF00FF"/>
<path d="M242.50,509.99L245.15,505.51L239.85,505.51Z" fill="#FF00FF"/>
<path d="M248.62,508.75L251.27,504.27L245.98,504.27Z" fill="#FF00FF"/>
<path d="M254.75,507.58L257.39,503.09L252.10,503.09Z" fill="#FF00FF"/>
<path d="M260.88,506.46L263.52,501.97L258.23,501.97Z" fill="#FF00FF"/>
<path d="M267.00,505.40L269.64,500.91L264.36,500.91Z" fill="#FF00FF"/>
<path d="M273.12,504.39L275.77,499.90L270.48,499.90Z" fill="#FF00FF"/>
<path d="M279.25,503.42L281.89,498.94L276.61,498.94Z" fill="#FF00FF"/>
<path d="M285.38,502.50L288.02,498.02L282.73,498.02Z" fill="#FF00FF"/>
<path d="M291.50,501.62L294.14,497.14L288.86,497.14Z" fill="#FF00FF"/>
<path d="M297.62,500.78L300.27,496.30L294.98,496.30Z" fill="#FF00FF"/>
<path d="M303.75,499.98L306.39,495.50L301.11,495.50Z" fill="#FF00FF"/>
<path d="M309.88,499.21L312.52,494.73L307.23,494.73Z" fill="#FF00FF"/>
<path d="M316.00,498.47L318.64,493.99L313.36,493.99Z" fill="#FF00FF"/>
<path d="M322.12,497.77L324.77,493.28L319.48,493.28Z" fill="#FF00FF"/>
<path d="M328.25,497.09L330.89,492.60L325.61,492.60Z" fill="#FF00FF"/>
<path d="M334.38,496.43L337.02,491.95L331.73,491.95Z" fill="#FF00FF"/>
<path d="M340.50,495.81L343.14,491.32L337.86,491.32Z" fill="#FF00FF"/>
<path d="M346.62,495.20L349.27,490.72L343.98,490.72Z" fill="#FF00FF"/>
<path d="M352.75,494.62L355.39,490.14L350.11,490.14Z" fill="#FF00FF"/>
<path d="M358.88,494.06L361.52,489.58L356.23,489.58Z" fill="#FF00FF"/>
<path d="M365.00,493.52L367.64,489.04L362.36,489.04Z" fill="#FF00FF"/>
<path d="M371.12,493.00L373.77,488.51L368.48,488.51Z" fill="#FF00FF"/>
<path d="M377.25,492.50L379.89,488.01L374.61,488.01Z" fill="#FF00FF"/>
<path d="M383.38,492.01L386.02,487.53L380.73,487.53Z" fill="#FF00FF"/>
<path d="M389.50,491.54L392.14,487.06L386.86,487.06Z" fill="#FF00FF"/>
<path d="M395.62,491.09L398.27,486.60L392.98,486.60Z" fill="#FF00FF"/>
<path d="M401.75,490.65L404.39,486.16L399.11,486.16Z" fill="#FF00FF"/>
<path d="M407.88,490.22L410.52,485.74L405.23,485.74Z" fill="#FF00FF"/>
<path d="M414.00,489.81L416.64,485.33L411.36,485.33Z" fill="#FF00FF"/>
<path d="M420.12,489.42L422.77,484.93L417.48,484.93Z" fill="#FF00FF"/>
<path d="M426.25,489.03L428.89,484.54L423.61,484.54Z" fill="#FF00FF"/>
<path d="M432.38,488.65L435.02,484.17L429.73,484.17Z" fill="#FF00FF"/>
<path d="M438.50,488.29L441.14,483.81L435.86,483.81Z" fill="#FF00FF"/>
<polyline points="46.50,615.83 48.47,607.75 50.44,600.45 52.41,593.82 54.38,587.78 56.35,582.26 58.32,577.18 60.29,572.51 62.26,568.18 64.23,564.17 66.20,560.44 68.17,556.96 70.14,553.71 72.11,550.67 74.08,547.82 76.05,545.13 78.02,542.60 79.99,540.22 81.96,537.96 83.93,535.83 85.90,533.81 87.87,531.89 89.84,530.06 91.81,528.32 93.78,526.67 95.75,525.09 97.72,523.58 99.69,522.14 101.66,520.76 103.63,519.44 105.60,518.18 107.57,516.96 109.54,515.80 111.51,514.68 113.47,513.60 115.44,512.56 117.41,511.57 119.38,510.60 121.35,509.68 123.32,508.78 125.29,507.92 127.26,507.08 129.23,506.27 131.20,505.49 133.17,504.74 135.14,504.01 137.11,503.30 139.08,502.61 141.05,501.95 143.02,501.30 144.99,500.67 146.96,500.06 148.93,499.47 150.90,498.90 152.87,498.34 154.84,497.80 156.81,497.27 158.78,496.75 160.75,496.25 162.72,495.77 164.69,495.29 166.66,494.83 168.63,494.38 170.60,493.94 172.57,493.51 174.54,493.09 176.51,492.68 178.48,492.28 180.45,491.89 182.42,491.51 184.39,491.14 186.36,490.77 188.33,490.42 190.30,490.07 192.27,489.73 194.24,489.40 196.21,489.07 198.18,488.76 200.15,488.44 202.12,488.14 204.09,487.84 206.06,487.55 208.03,487.26 210.00,486.98 211.97,486.70 213.94,486.43 215.91,486.17 217.88,485.91 219.85,485.65 221.82,485.40 223.79,485.16 225.76,484.92 227.73,484.68 229.70,484.45 231.67,484.22 233.64,484.00 235.61,483.78 237.58,483.56 239.55,483.35 241.52,483.14 243.48,482.94 245.45,482.74 247.42,482.54 249.39,482.34 251.36,482.15 253.33,481.97 255.30,481.78 257.27,481.60 259.24,481.42 261.21,481.24 263.18,481.07 265.15,480.90 267.12,480.73 269.09,480.57 271.06,480.40 273.03,480.24 275.00,480.09 276.97,479.93 278.94,479.78 280.91,479.63 282.88,479.48 284.85,479.33 286.82,479.19 288.79,479.04 290.76,478.90 292.73,478.77 294.70,478.63 296.67,478.50 298.64,478.36 300.61,478.23 302.58,478.10 304.55,477.98 306.52,477.85 308.49,477.73 310.46,477.61 312.43,477.49 314.40,477.37 316.37,477.25 318.34,477.14 320.31,477.02 322.28,476.91 324.25,476.80 326.22,476.69 328.19,476.58 330.16,476.47 332.13,476.37 334.10,476.26 336.07,476.16 338.04,476.06 340.01,475.96 341.98,475.86 343.95,475.76 345.92,475.66 347.89,475.57 349.86,475.47 351.83,475.38 353.80,475.29 355.77,475.20 357.74,475.11 359.71,475.02 361.68,474.93 363.65,474.84 365.62,474.76 367.59,474.67 369.56,474.59 371.53,474.51 373.49,474.42 375.46,474.34 377.43,474.26 379.40,474.18 381.37,474.10 383.34,474.03 385.31,473.95 387.28,473.87 389.25,473.80 391.22,473.72 393.19,473.65 395.16,473.58 397.13,473.51 399.10,473.43 401.07,473.36 403.04,473.29 405.01,473.22 406.98,473.16 408.95,473.09 410.92,473.02 412.89,472.95 414.86,472.89 416.83,472.82 418.80,472.76 420.77,472.70 422.74,472.63 424.71,472.57 426.68,472.51 428.65,472.45 430.62,472.39 432.59,472.33 434.56,472.27 436.53,472.21 438.50,472.15" fill="none" stroke="#008000" stroke-width="1.25"/>
<path d="M46.50,613.23L48.60,615.83L46.50,618.43L44.40,615.83Z" fill="#008000"/>
<path d="M52.62,590.53L54.73,593.13L52.62,595.73L50.52,593.13Z" fill="#008000"/>
<path d="M58.75,573.53L60.85,576.13L58.75,578.73L56.65,576.13Z" fill="#008000"/>
<path d="M64.88,560.32L66.97,562.92L64.88,565.52L62.77,562.92Z" fill="#008000"/>
<path d="M71.00,549.76L73.10,552.36L71.00,554.96L68.90,552.36Z" fill="#008000"/>
<path d="M77.12,541.13L79.22,543.73L77.12,546.33L75.03,543.73Z" fill="#008000"/>
<path d="M83.25,533.95L85.35,536.55L83.25,539.15L81.15,536.55Z" fill="#008000"/>
<path d="M89.38,527.88L91.47,530.48L89.38,533.08L87.28,530.48Z" fill="#008000"/>
<path d="M95.50,522.68L97.60,525.28L95.50,527.88L93.40,525.28Z" fill="#008000"/>
<path d="M101.62,518.18L103.72,520.78L101.62,523.38L99.53,520.78Z" fill="#008000"/>
<path d="M107.75,514.25L109.85,516.85L107.75,519.45L105.65,516.85Z" fill="#008000"/>
<path d="M113.88,510.79L115.97,513.39L113.88,515.99L111.78,513.39Z" fill="#008000"/>
<path d="M120.00,507.71L122.10,510.31L120.00,512.91L117.90,510.31Z" fill="#008000"/>
<path d="M126.12,504.96L128.22,507.56L126.12,510.16L124.03,507.56Z" fill="#008000"/>
<path d="M132.25,502.49L134.35,505.09L132.25,507.69L130.15,505.09Z" fill="#008000"/>
<path d="M138.38,500.26L140.47,502.86L138.38,505.46L136.28,502.86Z" fill="#008000"/>
<path d="M144.50,498.23L146.60,500.83L144.50,503.43L142.40,500.83Z" fill="#008000"/>
<path d="M150.62,496.38L152.72,498.98L150.62,501.58L148.53,498.98Z" fill="#008000"/>
<path d="M156.75,494.68L158.85,497.28L156.75,499.88L154.65,497.28Z" fill="#008000"/>
<path d="M162.88,493.13L164.97,495.73L162.88,498.33L160.78,495.73Z" fill="#008000"/>
<path d="M169.00,491.69L171.10,494.29L169.00,496.89L166.90,494.29Z" fill="#008000"/>
<path d="M175.12,490.37L177.22,492.97L175.12,495.57L173.03,492.97Z" fill="#008000"/>
<path d="M181.25,489.13L183.35,491.73L181.25,494.33L179.15,491.73Z" fill="#008000"/>
<path d="M187.38,487.99L189.47,490.59L187.38,493.19L185.28,490.59Z" fill="#008000"/>
<path d="M193.50,486.92L195.60,489.52L193.50,492.12L191.40,489.52Z" fill="#008000"/>
<path d="M199.62,485.93L201.72,488.53L199.62,491.13L197.53,488.53Z" fill="#008000"/>
<path d="M205.75,484.99L207.85,487.59L205.75,490.19L203.65,487.59Z" fill="#008000"/>
<path d="M211.88,484.12L213.97,486.72L211.88,489.32L209.78,486.72Z" fill="#008000"/>
<path d="M218.00,483.29L220.10,485.89L218.00,488.49L215.90,485.89Z" fill="#008000"/>
<path d="M224.12,482.52L226.22,485.12L224.12,487.72L222.03,485.12Z" fill="#008000"/>
<path d="M230.25,481.79L232.35,484.39L230.25,486.99L228.15,484.39Z" fill="#008000"/>
<path d="M236.38,481.09L238.47,483.69L236.38,486.29L234.28,483.69Z" fill="#008000"/>
<path d="M242.50,480.44L244.60,483.04L242.50,485.64L240.40,483.04Z" fill="#008000"/>
<path d="M248.62,479.82L250.72,482.42L248.62,485.02L246.53,482.42Z" fill="#008000"/>
<path d="M254.75,479.23L256.85,481.83L254.75,484.43L252.65,481.83Z" fill="#008000"/>
<path d="M260.88,478.67L262.98,481.27L260.88,483.87L258.77,481.27Z" fill="#008000"/>
<path d="M267.00,478.14L269.10,480.74L267.00,483.34L264.90,480.74Z" fill="#008000"/>
<path d="M273.12,477.64L275.23,480.24L273.12,482.84L271.02,480.24Z" fill="#008000"/>
<path d="M279.25,477.15L281.35,479.75L279.25,482.35L277.15,479.75Z" fill="#008000"/>
<path d="M285.38,476.69L287.48,479.29L285.38,481.89L283.27,479.29Z" fill="#008000"/>
<path d="M291.50,476.25L293.60,478.85L291.50,481.45L289.40,478.85Z" fill="#008000"/>
<path d="M297.62,475.83L299.73,478.43L297.62,481.03L295.52,478.43Z" fill="#008000"/>
<path d="M303.75,475.43L305.85,478.03L303.75,480.63L301.65,478.03Z" fill="#008000"/>
<path d="M309.88,475.04L311.98,477.64L309.88,480.24L307.77,477.64Z" fill="#008000"/>
<path d="M316.00,474.67L318.10,477.27L316.00,479.87L313.90,477.27Z" fill="#008000"/>
<path d="M322.12,474.32L324.23,476.92L322.12,479.52L320.02,476.92Z" fill="#008000"/>
<path d="M328.25,473.98L330.35,476.58L328.25,479.18L326.15,476.58Z" fill="#008000"/>
<path d="M334.38,473.65L336.48,476.25L334.38,478.85L332.27,476.25Z" fill="#008000"/>
<path d="M340.50,473.33L342.60,475.93L340.50,478.53L338.40,475.93Z" fill="#008000"/>
<path d="M346.62,473.03L348.73,475.63L346.62,478.23L344.52,475.63Z" fill="#008000"/>
<path d="M352.75,472.74L354.85,475.34L352.75,477.94L350.65,475.34Z" fill="#008000"/>
<path d="M358.88,472.46L360.98,475.06L358.88,477.66L356.77,475.06Z" fill="#008000"/>
<path d="M365.00,472.18L367.10,474.78L365.00,477.38L362.90,474.78Z" fill="#008000"/>
<path d="M371.12,471.92L373.23,474.52L371.12,477.12L369.02,474.52Z" fill="#008000"/>
<path d="M377.25,471.67L379.35,474.27L377.25,476.87L375.15,474.27Z" fill="#008000"/>
<path d="M383.38,471.42L385.48,474.02L383.38,476.62L381.27,474.02Z" fill="#008000"/>
<path d="M389.50,471.19L391.60,473.79L389.50,476.39L387.40,473.79Z" fill="#008000"/>
<path d="M395.62,470.96L397.73,473.56L395.62,476.16L393.52,473.56Z" fill="#008000"/>
<path d="M401.75,470.74L403.85,473.34L401.75,475.94L399.65,473.34Z" fill="#008000"/>
<path d="M407.88,470.53L409.98,473.13L407.88,475.73L405.77,473.13Z" fill="#008000"/>
<path d="M414.00,470.32L416.10,472.92L414.00,475.52L411.90,472.92Z" fill="#008000"/>
<path d="M420.12,470.12L422.23,472.72L420.12,475.32L418.02,472.72Z" fill="#008000"/>
<path d="M426.25,469.92L428.35,472.52L426.25,475.12L424.15,472.52Z" fill="#008000"/>
<path d="M432.38,469.73L434.48,472.33L432.38,474.93L430.27,472.33Z" fill="#008000"/>
<path d="M438.50,469.55L440.60,472.15L438.50,474.75L436.40,472.15Z" fill="#008000"/>
<polyline points="46.50,624.38 48.47,614.98 50.44,606.51 52.41,598.83 54.38,591.84 56.35,585.45 58.32,579.58 60.29,574.18 62.26,569.20 64.23,564.58 66.20,560.29 68.17,556.29 70.14,552.56 72.11,549.07 74.08,545.80 76.05,542.73 78.02,539.84 79.99,537.12 81.96,534.54 83.93,532.11 85.90,529.81 87.87,527.63 89.84,525.56 91.81,523.59 93.78,521.71 95.75,519.93 97.72,518.22 99.69,516.59 101.66,515.04 103.63,513.55 105.60,512.13 107.57,510.77 109.54,509.46 111.51,508.20 113.47,506.99 115.44,505.83 117.41,504.72 119.38,503.65 121.35,502.61 123.32,501.61 125.29,500.65 127.26,499.72 129.23,498.83 131.20,497.96 133.17,497.13 135.14,496.32 137.11,495.53 139.08,494.78 141.05,494.04 143.02,493.33 144.99,492.64 146.96,491.97 148.93,491.32 150.90,490.70 152.87,490.08 154.84,489.49 156.81,488.91 158.78,488.35 160.75,487.81 162.72,487.28 164.69,486.76 166.66,486.26 168.63,485.77 170.60,485.29 172.57,484.83 174.54,484.38 176.51,483.94 178.48,483.51 180.45,483.09 182.42,482.68 184.39,482.28 186.36,481.89 188.33,481.51 190.30,481.14 192.27,480.77 194.24,480.42 196.21,480.07 198.18,479.73 200.15,479.40 202.12,479.08 204.09,478.76 206.06,478.45 208.03,478.15 210.00,477.85 211.97,477.56 213.94,477.28 215.91,477.00 217.88,476.72 219.85,476.46 221.82,476.19 223.79,475.94 225.76,475.69 227.73,475.44 229.70,475.20 231.67,474.96 233.64,474.73 235.61,474.50 237.58,474.28 239.55,474.06 241.52,473.84 243.48,473.63 245.45,473.42 247.42,473.22 249.39,473.02 251.36,472.82 253.33,472.63 255.30,472.44 257.27,472.25 259.24,472.07 261.21,471.89 263.18,471.71 265.15,471.54 267.12,471.37 269.09,471.20 271.06,471.03 273.03,470.87 275.00,470.71 276.97,470.55 278.94,470.40 280.91,470.25 282.88,470.10 284.85,469.95 286.82,469.81 288.79,469.66 290.76,469.52 292.73,469.38 294.70,469.25 296.67,469.12 298.64,468.98 300.61,468.85 302.58,468.73 304.55,468.60 306.52,468.48 308.49,468.35 310.46,468.23 312.43,468.12 314.40,468.00 316.37,467.88 318.34,467.77 320.31,467.66 322.28,467.55 324.25,467.44 326.22,467.33 328.19,467.23 330.16,467.12 332.13,467.02 334.10,466.92 336.07,466.82 338.04,466.72 340.01,466.62 341.98,466.53 343.95,466.43 345.92,466.34 347.89,466.25 349.86,466.16 351.83,466.07 353.80,465.98 355.77,465.89 357.74,465.81 359.71,465.72 361.68,465.64 363.65,465.56 365.62,465.47 367.59,465.39 369.56,465.32 371.53,465.24 373.49,465.16 375.46,465.08 377.43,465.01 379.40,464.93 381.37,464.86 383.34,464.79 385.31,464.71 387.28,464.64 389.25,464.57 391.22,464.50 393.19,464.44 395.16,464.37 397.13,464.30 399.10,464.24 401.07,464.17 403.04,464.11 405.01,464.04 406.98,463.98 408.95,463.92 410.92,463.86 412.89,463.80 414.86,463.74 416.83,463.68 418.80,463.62 420.77,463.56 422.74,463.50 424.71,463.45 426.68,463.39 428.65,463.34 430.62,463.28 432.59,463.23 434.56,463.17 436.53,463.12 438.50,463.07" fill="none" stroke="#000080" stroke-width="1.25"/>
<path d="M44.20,624.38L48.10,622.08L48.10,626.68Z" fill="#000080"/>
<path d="M50.33,598.03L54.23,595.73L54.23,600.33Z" fill="#000080"/>
<path d="M56.45,578.36L60.35,576.06L60.35,580.66Z" fill="#000080"/>
<path d="M62.58,563.13L66.47,560.83L66.47,565.43Z" fill="#000080"/>
<path d="M68.70,551.01L72.60,548.71L72.60,553.31Z" fill="#000080"/>
<path d="M74.83,541.13L78.72,538.83L78.72,543.43Z" fill="#000080"/>
<path d="M80.95,532.93L84.85,530.63L84.85,535.23Z" fill="#000080"/>
<path d="M87.08,526.03L90.97,523.73L90.97,528.33Z" fill="#000080"/>
<path d="M93.20,520.14L97.10,517.84L97.10,522.44Z" fill="#000080"/>
<path d="M99.33,515.06L103.22,512.76L103.22,517.36Z" fill="#000080"/>
<path d="M105.45,510.64L109.35,508.34L109.35,512.94Z" fill="#000080"/>
<path d="M111.58,506.75L115.47,504.45L115.47,509.05Z" fill="#000080"/>
<path d="M117.70,503.32L121.60,501.02L121.60,505.62Z" fill="#000080"/>
<path d="M123.83,500.26L127.72,497.96L127.72,502.56Z" fill="#000080"/>
<path d="M129.95,497.51L133.85,495.21L133.85,499.81Z" fill="#000080"/>
<path d="M136.07,495.05L139.97,492.75L139.97,497.35Z" fill="#000080"/>
<path d="M142.20,492.81L146.10,490.51L146.10,495.11Z" fill="#000080"/>
<path d="M148.32,490.78L152.22,488.48L152.22,493.08Z" fill="#000080"/>
<path d="M154.45,488.93L158.35,486.63L158.35,491.23Z" fill="#000080"/>
<path d="M160.57,487.24L164.47,484.94L164.47,489.54Z" fill="#000080"/>
<path d="M166.70,485.68L170.60,483.38L170.60,487.98Z" fill="#000080"/>
<path d="M172.82,484.24L176.72,481.94L176.72,486.54Z" fill="#000080"/>
<path d="M178.95,482.92L182.85,480.62L182.85,485.22Z" fill="#000080"/>
<path d="M185.07,481.69L188.97,479.39L188.97,483.99Z" fill="#000080"/>
<path d="M191.20,480.55L195.10,478.25L195.10,482.85Z" fill="#000080"/>
<path d="M197.32,479.49L201.22,477.19L201.22,481.79Z" fill="#000080"/>
<path d="M203.45,478.50L207.35,476.20L207.35,480.80Z" fill="#000080"/>
<path d="M209.57,477.57L213.47,475.27L213.47,479.87Z" fill="#000080"/>
<path d="M215.70,476.71L219.60,474.41L219.60,479.01Z" fill="#000080"/>
<path d="M221.82,475.89L225.72,473.59L225.72,478.19Z" fill="#000080"/>
<path d="M227.95,475.13L231.85,472.83L231.85,477.43Z" fill="#000080"/>
<path d="M234.07,474.41L237.97,472.11L237.97,476.71Z" fill="#000080"/>
<path d="M240.20,473.73L244.10,471.43L244.10,476.03Z" fill="#000080"/>
<path d="M246.32,473.09L250.22,470.79L250.22,475.39Z" fill="#000080"/>
<path d="M252.45,472.49L256.35,470.19L256.35,474.79Z" fill="#000080"/>
<path d="M258.57,471.92L262.48,469.62L262.48,474.22Z" fill="#000080"/>
<path d="M264.70,471.38L268.60,469.08L268.60,473.68Z" fill="#000080"/>
<path d="M270.82,470.86L274.73,468.56L274.73,473.16Z" fill="#000080"/>
<path d="M276.95,470.38L280.85,468.08L280.85,472.68Z" fill="#000080"/>
<path d="M283.07,469.91L286.98,467.61L286.98,472.21Z" fill="#000080"/>
<path d="M289.20,469.47L293.10,467.17L293.10,471.77Z" fill="#000080"/>
<path d="M295.32,469.05L299.23,466.75L299.23,471.35Z" fill="#000080"/>
<path d="M301.45,468.65L305.35,466.35L305.35,470.95Z" fill="#000080"/>
<path d="M307.57,468.27L311.48,465.97L311.48,470.57Z" fill="#000080"/>
<path d="M313.70,467.90L317.60,465.60L317.60,470.20Z" fill="#000080"/>
<path d="M319.82,467.56L323.73,465.26L323.73,469.86Z" fill="#000080"/>
<path d="M325.95,467.22L329.85,464.92L329.85,469.52Z" fill="#000080"/>
<path d="M332.07,466.90L335.98,464.60L335.98,469.20Z" fill="#000080"/>
<path d="M338.20,466.60L342.10,464.30L342.10,468.90Z" fill="#000080"/>
<path d="M344.32,466.31L348.23,464.01L348.23,468.61Z" fill="#000080"/>
<path d="M350.45,466.03L354.35,463.73L354.35,468.33Z" fill="#000080"/>
<path d="M356.57,465.76L360.48,463.46L360.48,468.06Z" fill="#000080"/>
<path d="M362.70,465.50L366.60,463.20L366.60,467.80Z" fill="#000080"/>
<path d="M368.82,465.25L372.73,462.95L372.73,467.55Z" fill="#000080"/>
<path d="M374.95,465.01L378.85,462.71L378.85,467.31Z" fill="#000080"/>
<path d="M381.07,464.79L384.98,462.49L384.98,467.09Z" fill="#000080"/>
<path d="M387.20,464.56L391.10,462.26L391.10,466.86Z" fill="#000080"/>
<path d="M393.32,464.35L397.23,462.05L397.23,466.65Z" fill="#000080"/>
<path d="M399.45,464.15L403.35,461.85L403.35,466.45Z" fill="#000080"/>
<path d="M405.57,463.95L409.48,461.65L409.48,466.25Z" fill="#000080"/>
<path d="M411.70,463.76L415.60,461.46L415.60,466.06Z" fill="#000080"/>
<path d="M417.82,463.58L421.73,461.28L421.73,465.88Z" fill="#000080"/>
<path d="M423.95,463.40L427.85,461.10L427.85,465.70Z" fill="#000080"/>
<path d="M430.07,463.23L433.98,460.93L433.98,465.53Z" fill="#000080"/>
<path d="M436.20,463.07L440.10,460.77L440.10,465.37Z" fill="#000080"/>
<polyline points="46.50,741.63 48.47,726.65 50.44,713.13 52.41,700.87 54.38,689.70 56.35,679.49 58.32,670.11 60.29,661.47 62.26,653.49 64.23,646.09 66.20,639.21 68.17,632.80 70.14,626.81 72.11,621.21 74.08,615.95 76.05,611.01 78.02,606.36 79.99,601.98 81.96,597.83 83.93,593.91 85.90,590.20 87.87,586.68 89.84,583.33 91.81,580.15 93.78,577.12 95.75,574.23 97.72,571.47 99.69,568.83 101.66,566.31 103.63,563.90 105.60,561.59 107.57,559.37 109.54,557.24 111.51,555.20 113.47,553.24 115.44,551.35 117.41,549.53 119.38,547.78 121.35,546.09 123.32,544.46 125.29,542.89 127.26,541.37 129.23,539.91 131.20,538.49 133.17,537.12 135.14,535.79 137.11,534.51 139.08,533.27 141.05,532.06 143.02,530.89 144.99,529.76 146.96,528.66 148.93,527.59 150.90,526.55 152.87,525.54 154.84,524.56 156.81,523.61 158.78,522.68 160.75,521.78 162.72,520.90 164.69,520.05 166.66,519.22 168.63,518.40 170.60,517.61 172.57,516.84 174.54,516.09 176.51,515.36 178.48,514.64 180.45,513.94 182.42,513.26 184.39,512.60 186.36,511.94 188.33,511.31 190.30,510.69 192.27,510.08 194.24,509.49 196.21,508.91 198.18,508.34 200.15,507.78 202.12,507.24 204.09,506.71 206.06,506.18 208.03,505.67 210.00,505.17 211.97,504.68 213.94,504.20 215.91,503.73 217.88,503.27 219.85,502.82 221.82,502.38 223.79,501.94 225.76,501.52 227.73,501.10 229.70,500.69 231.67,500.29 233.64,499.89 235.61,499.50 237.58,499.12 239.55,498.75 241.52,498.38 243.48,498.02 245.45,497.67 247.42,497.32 249.39,496.98 251.36,496.64 253.33,496.31 255.30,495.98 257.27,495.66 259.24,495.35 261.21,495.04 263.18,494.74 265.15,494.44 267.12,494.14 269.09,493.85 271.06,493.57 273.03,493.29 275.00,493.01 276.97,492.74 278.94,492.47 280.91,492.21 282.88,491.95 284.85,491.70 286.82,491.45 288.79,491.20 290.76,490.95 292.73,490.71 294.70,490.48 296.67,490.24 298.64,490.01 300.61,489.79 302.58,489.57 304.55,489.35 306.52,489.13 308.49,488.91 310.46,488.70 312.43,488.50 314.40,488.29 316.37,488.09 318.34,487.89 320.31,487.69 322.28,487.50 324.25,487.31 326.22,487.12 328.19,486.93 330.16,486.75 332.13,486.57 334.10,486.39 336.07,486.21 338.04,486.04 340.01,485.86 341.98,485.69 343.95,485.53 345.92,485.36 347.89,485.20 349.86,485.04 351.83,484.88 353.80,484.72 355.77,484.56 357.74,484.41 359.71,484.26 361.68,484.11 363.65,483.96 365.62,483.81 367.59,483.67 369.56,483.52 371.53,483.38 373.49,483.24 375.46,483.11 377.43,482.97 379.40,482.83 381.37,482.70 383.34,482.57 385.31,482.44 387.28,482.31 389.25,482.18 391.22,482.06 393.19,481.93 395.16,481.81 397.13,481.69 399.10,481.57 401.07,481.45 403.04,481.33 405.01,481.22 406.98,481.10 408.95,480.99 410.92,480.87 412.89,480.76 414.86,480.65 416.83,480.54 418.80,480.44 420.77,480.33 422.74,480.22 424.71,480.12 426.68,480.02 428.65,479.91 430.62,479.81 432.59,479.71 434.56,479.61 436.53,479.52 438.50,479.42" fill="none" stroke="#8000FF" stroke-width="1.25"/>
<path d="M61.28,668.16L56.99,665.63L56.99,670.69Z" fill="#8000FF"/>
<path d="M67.41,643.77L63.12,641.24L63.12,646.30Z" fill="#8000FF"/>
<path d="M73.53,624.31L69.24,621.78L69.24,626.84Z" fill="#8000FF"/>
<path d="M79.66,608.44L75.36,605.91L75.36,610.97Z" fill="#8000FF"/>
<path d="M85.78,595.24L81.49,592.71L81.49,597.77Z" fill="#8000FF"/>
<path d="M91.91,584.10L87.61,581.57L87.61,586.63Z" fill="#8000FF"/>
<path d="M98.03,574.58L93.74,572.05L93.74,577.11Z" fill="#8000FF"/>
<path d="M104.16,566.35L99.86,563.82L99.86,568.88Z" fill="#8000FF"/>
<path d="M110.28,559.17L105.99,556.64L105.99,561.70Z" fill="#8000FF"/>
<path d="M116.41,552.85L112.11,550.32L112.11,555.38Z" fill="#8000FF"/>
<path d="M122.53,547.24L118.24,544.71L118.24,549.77Z" fill="#8000FF"/>
<path d="M128.66,542.24L124.36,539.71L124.36,544.77Z" fill="#8000FF"/>
<path d="M134.78,537.76L130.49,535.23L130.49,540.29Z" fill="#8000FF"/>
<path d="M140.91,533.71L136.62,531.18L136.62,536.24Z" fill="#8000FF"/>
<path d="M147.03,530.04L142.74,527.51L142.74,532.57Z" fill="#8000FF"/>
<path d="M153.16,526.69L148.87,524.16L148.87,529.22Z" fill="#8000FF"/>
<path d="M159.28,523.64L154.99,521.11L154.99,526.17Z" fill="#8000FF"/>
<path d="M165.41,520.84L161.12,518.31L161.12,523.37Z" fill="#8000FF"/>
<path d="M171.53,518.25L167.24,515.72L167.24,520.78Z" fill="#8000FF"/>
<path d="M177.66,515.87L173.37,513.34L173.37,518.40Z" fill="#8000FF"/>
<path d="M183.78,513.66L179.49,511.13L179.49,516.19Z" fill="#8000FF"/>
<path d="M189.91,511.61L185.62,509.08L185.62,514.14Z" fill="#8000FF"/>
<path d="M196.03,509.71L191.74,507.18L191.74,512.24Z" fill="#8000FF"/>
<path d="M202.16,507.93L197.87,505.40L197.87,510.46Z" fill="#8000FF"/>
<path d="M208.28,506.27L203.99,503.74L203.99,508.80Z" fill="#8000FF"/>
<path d="M214.41,504.71L210.12,502.18L210.12,507.24Z" fill="#8000FF"/>
<path d="M220.53,503.24L216.24,500.71L216.24,505.77Z" fill="#8000FF"/>
<path d="M226.66,501.87L222.37,499.34L222.37,504.40Z" fill="#8000FF"/>
<path d="M232.78,500.58L228.49,498.05L228.49,503.11Z" fill="#8000FF"/>
<path d="M238.91,499.35L234.62,496.82L234.62,501.88Z" fill="#8000FF"/>
<path d="M245.03,498.20L240.74,495.67L240.74,500.73Z" fill="#8000FF"/>
<path d="M251.16,497.11L246.87,494.58L246.87,499.64Z" fill="#8000FF"/>
<path d="M257.28,496.07L252.99,493.54L252.99,498.60Z" fill="#8000FF"/>
<path d="M263.40,495.09L259.12,492.56L259.12,497.62Z" fill="#8000FF"/>
<path d="M269.53,494.16L265.24,491.63L265.24,496.69Z" fill="#8000FF"/>
<path d="M275.65,493.28L271.37,490.75L271.37,495.81Z" fill="#8000FF"/>
<path d="M281.78,492.43L277.49,489.90L277.49,494.96Z" fill="#8000FF"/>
<path d="M287.90,491.63L283.62,489.10L283.62,494.16Z" fill="#8000FF"/>
<path d="M294.03,490.86L289.74,488.33L289.74,493.39Z" fill="#8000FF"/>
<path d="M300.15,490.13L295.87,487.60L295.87,492.66Z" fill="#8000FF"/>
<path d="M306.28,489.43L301.99,486.90L301.99,491.96Z" fill="#8000FF"/>
<path d="M312.40,488.77L308.12,486.24L308.12,491.30Z" fill="#8000FF"/>
<path d="M318.53,488.13L314.24,485.60L314.24,490.66Z" fill="#8000FF"/>
<path d="M324.65,487.51L320.37,484.98L320.37,490.04Z" fill="#8000FF"/>
<path d="M330.78,486.93L326.49,484.40L326.49,489.46Z" fill="#8000FF"/>
<path d="M336.90,486.36L332.62,483.83L332.62,488.89Z" fill="#8000FF"/>
<path d="M343.03,485.82L338.74,483.29L338.74,488.35Z" fill="#8000FF"/>
<path d="M349.15,485.30L344.87,482.77L344.87,487.83Z" fill="#8000FF"/>
<path d="M355.28,484.80L350.99,482.27L350.99,487.33Z" fill="#8000FF"/>
<path d="M361.40,484.32L357.12,481.79L357.12,486.85Z" fill="#8000FF"/>
<path d="M367.53,483.86L363.24,481.33L363.24,486.39Z" fill="#8000FF"/>
<path d="M373.65,483.41L369.37,480.88L369.37,485.94Z" fill="#8000FF"/>
<path d="M379.78,482.98L375.49,480.45L375.49,485.51Z" fill="#8000FF"/>
<path d="M385.90,482.57L381.62,480.04L381.62,485.10Z" fill="#8000FF"/>
<path d="M392.03,482.17L387.74,479.64L387.74,484.70Z" fill="#8000FF"/>
<path d="M398.15,481.78L393.87,479.25L393.87,484.31Z" fill="#8000FF"/>
<path d="M404.28,481.41L399.99,478.88L399.99,483.94Z" fill="#8000FF"/>
<path d="M410.40,481.05L406.12,478.52L406.12,483.58Z" fill="#8000FF"/>
<path d="M416.53,480.70L412.24,478.17L412.24,483.23Z" fill="#8000FF"/>
<path d="M422.65,480.36L418.37,477.83L418.37,482.89Z" fill="#8000FF"/>
<path d="M428.78,480.04L424.49,477.51L424.49,482.57Z" fill="#8000FF"/>
<path d="M434.90,479.72L430.62,477.19L430.62,482.25Z" fill="#8000FF"/>
<path d="M441.03,479.42L436.74,476.89L436.74,481.95Z" fill="#8000FF"/>
<polyline points="46.50,798.20 48.47,780.32 50.44,764.18 52.41,749.54 54.38,736.20 56.35,723.99 58.32,712.78 60.29,702.45 62.26,692.90 64.23,684.05 66.20,675.81 68.17,668.14 70.14,660.97 72.11,654.25 74.08,647.95 76.05,642.03 78.02,636.46 79.99,631.19 81.96,626.22 83.93,621.52 85.90,617.06 87.87,612.83 89.84,608.80 91.81,604.98 93.78,601.33 95.75,597.85 97.72,594.53 99.69,591.36 101.66,588.33 103.63,585.42 105.60,582.64 107.57,579.97 109.54,577.40 111.51,574.94 113.47,572.57 115.44,570.29 117.41,568.09 119.38,565.98 121.35,563.94 123.32,561.97 125.29,560.07 127.26,558.24 129.23,556.46 131.20,554.75 133.17,553.09 135.14,551.48 137.11,549.93 139.08,548.42 141.05,546.96 143.02,545.54 144.99,544.16 146.96,542.83 148.93,541.53 150.90,540.27 152.87,539.05 154.84,537.86 156.81,536.70 158.78,535.57 160.75,534.47 162.72,533.40 164.69,532.36 166.66,531.35 168.63,530.36 170.60,529.40 172.57,528.46 174.54,527.54 176.51,526.65 178.48,525.77 180.45,524.92 182.42,524.09 184.39,523.27 186.36,522.48 188.33,521.70 190.30,520.94 192.27,520.20 194.24,519.47 196.21,518.76 198.18,518.07 200.15,517.39 202.12,516.72 204.09,516.07 206.06,515.43 208.03,514.80 210.00,514.19 211.97,513.59 213.94,513.00 215.91,512.42 217.88,511.85 219.85,511.30 221.82,510.75 223.79,510.22 225.76,509.69 227.73,509.18 229.70,508.67 231.67,508.17 233.64,507.69 235.61,507.21 237.58,506.74 239.55,506.28 241.52,505.82 243.48,505.38 245.45,504.94 247.42,504.51 249.39,504.09 251.36,503.67 253.33,503.26 255.30,502.86 257.27,502.46 259.24,502.07 261.21,501.69 263.18,501.32 265.15,500.94 267.12,500.58 269.09,500.22 271.06,499.87 273.03,499.52 275.00,499.18 276.97,498.84 278.94,498.51 280.91,498.18 282.88,497.86 284.85,497.54 286.82,497.23 288.79,496.92 290.76,496.61 292.73,496.31 294.70,496.02 296.67,495.73 298.64,495.44 300.61,495.16 302.58,494.88 304.55,494.61 306.52,494.33 308.49,494.07 310.46,493.80 312.43,493.54 314.40,493.29 316.37,493.03 318.34,492.78 320.31,492.54 322.28,492.29 324.25,492.05 326.22,491.82 328.19,491.58 330.16,491.35 332.13,491.12 334.10,490.90 336.07,490.68 338.04,490.46 340.01,490.24 341.98,490.03 343.95,489.81 345.92,489.61 347.89,489.40 349.86,489.20 351.83,488.99 353.80,488.80 355.77,488.60 357.74,488.40 359.71,488.21 361.68,488.02 363.65,487.84 365.62,487.65 367.59,487.47 369.56,487.29 371.53,487.11 373.49,486.93 375.46,486.76 377.43,486.58 379.40,486.41 381.37,486.24 383.34,486.08 385.31,485.91 387.28,485.75 389.25,485.59 391.22,485.43 393.19,485.27 395.16,485.11 397.13,484.96 399.10,484.80 401.07,484.65 403.04,484.50 405.01,484.35 406.98,484.21 408.95,484.06 410.92,483.92 412.89,483.77 414.86,483.63 416.83,483.49 418.80,483.36 420.77,483.22 422.74,483.08 424.71,482.95 426.68,482.82 428.65,482.69 430.62,482.56 432.59,482.43 434.56,482.30 436.53,482.18 438.50,482.05" fill="none" stroke="#800080" stroke-width="1.25"/>
<polygon points="66.87,682.43 64.88,683.58 62.88,682.43 62.88,680.13 64.88,678.98 66.87,680.13" fill="#800080"/>
<polygon points="72.99,659.13 71.00,660.28 69.01,659.13 69.01,656.83 71.00,655.68 72.99,656.83" fill="#800080"/>
<polygon points="79.12,640.09 77.12,641.24 75.13,640.09 75.13,637.79 77.12,636.64 79.12,637.79" fill="#800080"/>
<polygon points="85.24,624.26 83.25,625.41 81.26,624.26 81.26,621.96 83.25,620.81 85.24,621.96" fill="#800080"/>
<polygon points="91.37,610.88 89.38,612.03 87.38,610.88 87.38,608.58 89.38,607.43 91.37,608.58" fill="#800080"/>
<polygon points="97.49,599.43 95.50,600.58 93.51,599.43 93.51,597.13 95.50,595.98 97.49,597.13" fill="#800080"/>
<polygon points="103.62,589.52 101.62,590.67 99.63,589.52 99.63,587.22 101.62,586.07 103.62,587.22" fill="#800080"/>
<polygon points="109.74,580.87 107.75,582.02 105.76,580.87 105.76,578.57 107.75,577.42 109.74,578.57" fill="#800080"/>
<polygon points="115.87,573.25 113.88,574.40 111.88,573.25 111.88,570.95 113.88,569.80 115.87,570.95" fill="#800080"/>
<polygon points="121.99,566.48 120.00,567.63 118.01,566.48 118.01,564.18 120.00,563.03 121.99,564.18" fill="#800080"/>
<polygon points="128.12,560.44 126.12,561.59 124.13,560.44 124.13,558.14 126.12,556.99 128.12,558.14" fill="#800080"/>
<polygon points="134.24,555.01 132.25,556.16 130.26,555.01 130.26,552.71 132.25,551.56 134.24,552.71" fill="#800080"/>
<polygon points="140.37,550.10 138.38,551.25 136.38,550.10 136.38,547.80 138.38,546.65 140.37,547.80" fill="#800080"/>
<polygon points="146.49,545.65 144.50,546.80 142.51,545.65 142.51,543.35 144.50,542.20 146.49,543.35" fill="#800080"/>
<polygon points="152.62,541.60 150.62,542.75 148.63,541.60 148.63,539.30 150.62,538.15 152.62,539.30" fill="#800080"/>
<polygon points="158.74,537.88 156.75,539.03 154.76,537.88 154.76,535.58 156.75,534.43 158.74,535.58" fill="#800080"/>
<polygon points="164.87,534.47 162.88,535.62 160.88,534.47 160.88,532.17 162.88,531.02 164.87,532.17" fill="#800080"/>
<polygon points="170.99,531.33 169.00,532.48 167.01,531.33 167.01,529.03 169.00,527.88 170.99,529.03" fill="#800080"/>
<polygon points="177.12,528.42 175.12,529.57 173.13,528.42 173.13,526.12 175.12,524.97 177.12,526.12" fill="#800080"/>
<polygon points="183.24,525.73 181.25,526.88 179.26,525.73 179.26,523.43 181.25,522.28 183.24,523.43" fill="#800080"/>
<polygon points="189.37,523.23 187.38,524.38 185.38,523.23 185.38,520.93 187.38,519.78 189.37,520.93" fill="#800080"/>
<polygon points="195.49,520.89 193.50,522.04 191.51,520.89 191.51,518.59 193.50,517.44 195.49,518.59" fill="#800080"/>
<polygon points="201.62,518.71 199.62,519.86 197.63,518.71 197.63,516.41 199.62,515.26 201.62,516.41" fill="#800080"/>
<polygon points="207.74,516.68 205.75,517.83 203.76,516.68 203.76,514.38 205.75,513.23 207.74,514.38" fill="#800080"/>
<polygon points="213.87,514.76 211.88,515.91 209.88,514.76 209.88,512.46 211.88,511.31 213.87,512.46" fill="#800080"/>
<polygon points="219.99,512.97 218.00,514.12 216.01,512.97 216.01,510.67 218.00,509.52 219.99,510.67" fill="#800080"/>
<polygon points="226.12,511.28 224.12,512.43 222.13,511.28 222.13,508.98 224.12,507.83 226.12,508.98" fill="#800080"/>
<polygon points="232.24,509.68 230.25,510.83 228.26,509.68 228.26,507.38 230.25,506.23 232.24,507.38" fill="#800080"/>
<polygon points="238.37,508.17 236.38,509.32 234.38,508.17 234.38,505.87 236.38,504.72 238.37,505.87" fill="#800080"/>
<polygon points="244.49,506.75 242.50,507.90 240.51,506.75 240.51,504.45 242.50,503.30 244.49,504.45" fill="#800080"/>
<polygon points="250.62,505.40 248.62,506.55 246.63,505.40 246.63,503.10 248.62,501.95 250.62,503.10" fill="#800080"/>
<polygon points="256.74,504.12 254.75,505.27 252.76,504.12 252.76,501.82 254.75,500.67 256.74,501.82" fill="#800080"/>
<polygon points="262.87,502.91 260.88,504.06 258.88,502.91 258.88,500.61 260.88,499.46 262.87,500.61" fill="#800080"/>
<polygon points="268.99,501.75 267.00,502.90 265.01,501.75 265.01,499.45 267.00,498.30 268.99,499.45" fill="#800080"/>
<polygon points="275.12,500.65 273.12,501.80 271.13,500.65 271.13,498.35 273.12,497.20 275.12,498.35" fill="#800080"/>
<polygon points="281.24,499.61 279.25,500.76 277.26,499.61 277.26,497.31 279.25,496.16 281.24,497.31" fill="#800080"/>
<polygon points="287.37,498.61 285.38,499.76 283.38,498.61 283.38,496.31 285.38,495.16 287.37,496.31" fill="#800080"/>
<polygon points="293.49,497.65 291.50,498.80 289.51,497.65 289.51,495.35 291.50,494.20 293.49,495.35" fill="#800080"/>
<polygon points="299.62,496.74 297.62,497.89 295.63,496.74 295.63,494.44 297.62,493.29 299.62,494.44" fill="#800080"/>
<polygon points="305.74,495.87 303.75,497.02 301.76,495.87 301.76,493.57 303.75,492.42 305.74,493.57" fill="#800080"/>
<polygon points="311.87,495.03 309.88,496.18 307.88,495.03 307.88,492.73 309.88,491.58 311.87,492.73" fill="#800080"/>
<polygon points="317.99,494.23 316.00,495.38 314.01,494.23 314.01,491.93 316.00,490.78 317.99,491.93" fill="#800080"/>
<polygon points="324.12,493.46 322.12,494.61 320.13,493.46 320.13,491.16 322.12,490.01 324.12,491.16" fill="#800080"/>
<polygon points="330.24,492.73 328.25,493.88 326.26,492.73 326.26,490.43 328.25,489.28 330.24,490.43" fill="#800080"/>
<polygon points="336.37,492.02 334.38,493.17 332.38,492.02 332.38,489.72 334.38,488.57 336.37,489.72" fill="#800080"/>
<polygon points="342.49,491.34 340.50,492.49 338.51,491.34 338.51,489.04 340.50,487.89 342.49,489.04" fill="#800080"/>
<polygon points="348.62,490.68 346.62,491.83 344.63,490.68 344.63,488.38 346.62,487.23 348.62,488.38" fill="#800080"/>
<polygon points="354.74,490.05 352.75,491.20 350.76,490.05 350.76,487.75 352.75,486.60 354.74,487.75" fill="#800080"/>
<polygon points="360.87,489.44 358.88,490.59 356.88,489.44 356.88,487.14 358.88,485.99 360.87,487.14" fill="#800080"/>
<polygon points="366.99,488.86 365.00,490.01 363.01,488.86 363.01,486.56 365.00,485.41 366.99,486.56" fill="#800080"/>
<polygon points="373.12,488.29 371.12,489.44 369.13,488.29 369.13,485.99 371.12,484.84 373.12,485.99" fill="#800080"/>
<polygon points="379.24,487.75 377.25,488.90 375.26,487.75 375.26,485.45 377.25,484.30 379.24,485.45" fill="#800080"/>
<polygon points="385.37,487.22 383.38,488.37 381.38,487.22 381.38,484.92 383.38,483.77 385.37,484.92" fill="#800080"/>
<polygon points="391.49,486.72 389.50,487.87 387.51,486.72 387.51,484.42 389.50,483.27 391.49,484.42" fill="#800080"/>
<polygon points="397.62,486.22 395.62,487.37 393.63,486.22 393.63,483.92 395.62,482.77 397.62,483.92" fill="#800080"/>
<polygon points="403.74,485.75 401.75,486.90 399.76,485.75 399.76,483.45 401.75,482.30 403.74,483.45" fill="#800080"/>
<polygon points="409.87,485.29 407.88,486.44 405.88,485.29 405.88,482.99 407.88,481.84 409.87,482.99" fill="#800080"/>
<polygon points="415.99,484.85 414.00,486.00 412.01,484.85 412.01,482.55 414.00,481.40 415.99,482.55" fill="#800080"/>
<polygon points="422.12,484.41 420.12,485.56 418.13,484.41 418.13,482.11 420.12,480.96 422.12,482.11" fill="#800080"/>
<polygon points="428.24,484.00 426.25,485.15 424.26,484.00 424.26,481.70 426.25,480.55 428.24,481.70" fill="#800080"/>
<polygon points="434.37,483.59 432.38,484.74 430.38,483.59 430.38,481.29 432.38,480.14 434.37,481.29" fill="#800080"/>
<polygon points="440.49,483.20 438.50,484.35 436.51,483.20 436.51,480.90 438.50,479.75 440.49,480.90" fill="#800080"/>
<polyline points="46.50,19.61 48.47,50.29 50.44,78.00 52.41,103.13 54.38,126.04 56.35,147.01 58.32,166.27 60.29,184.02 62.26,200.44 64.23,215.66 66.20,229.82 68.17,243.02 70.14,255.35 72.11,266.90 74.08,277.74 76.05,287.94 78.02,297.54 79.99,306.60 81.96,315.16 83.93,323.27 85.90,330.95 87.87,338.25 89.84,345.18 91.81,351.78 93.78,358.07 95.75,364.07 97.72,369.80 99.69,375.27 101.66,380.51 103.63,385.53 105.60,390.34 107.57,394.95 109.54,399.38 111.51,403.64 113.47,407.74 115.44,411.68 117.41,415.47 119.38,419.13 121.35,422.66 123.32,426.06 125.29,429.35 127.26,432.53 129.23,435.60 131.20,438.57 133.17,441.45 135.14,444.23 137.11,446.93 139.08,449.54 141.05,452.07 143.02,454.53 144.99,456.92 146.96,459.24 148.93,461.49 150.90,463.67 152.87,465.80 154.84,467.87 156.81,469.88 158.78,471.84 160.75,473.75 162.72,475.60 164.69,477.41 166.66,479.18 168.63,480.90 170.60,482.57 172.57,484.21 174.54,485.80 176.51,487.36 178.48,488.88 180.45,490.37 182.42,491.82 184.39,493.23 186.36,494.62 188.33,495.98 190.30,497.30 192.27,498.60 194.24,499.86 196.21,501.10 198.18,502.32 200.15,503.51 202.12,504.67 204.09,505.81 206.06,506.93 208.03,508.02 210.00,509.09 211.97,510.15 213.94,511.18 215.91,512.19 217.88,513.18 219.85,514.15 221.82,515.10 223.79,516.04 225.76,516.96 227.73,517.86 229.70,518.75 231.67,519.62 233.64,520.47 235.61,521.31 237.58,522.13 239.55,522.94 241.52,523.74 243.48,524.52 245.45,525.29 247.42,526.04 249.39,526.79 251.36,527.52 253.33,528.24 255.30,528.94 257.27,529.64 259.24,530.32 261.21,531.00 263.18,531.66 265.15,532.31 267.12,532.95 269.09,533.58 271.06,534.21 273.03,534.82 275.00,535.42 276.97,536.02 278.94,536.60 280.91,537.18 282.88,537.75 284.85,538.31 286.82,538.86 288.79,539.40 290.76,539.94 292.73,540.47 294.70,540.99 296.67,541.50 298.64,542.01 300.61,542.51 302.58,543.00 304.55,543.49 306.52,543.97 308.49,544.44 310.46,544.91 312.43,545.37 314.40,545.82 316.37,546.27 318.34,546.71 320.31,547.15 322.28,547.58 324.25,548.01 326.22,548.43 328.19,548.84 330.16,549.25 332.13,549.66 334.10,550.05 336.07,550.45 338.04,550.84 340.01,551.22 341.98,551.60 343.95,551.98 345.92,552.35 347.89,552.72 349.86,553.08 351.83,553.44 353.80,553.79 355.77,554.14 357.74,554.49 359.71,554.83 361.68,555.16 363.65,555.50 365.62,555.83 367.59,556.15 369.56,556.48 371.53,556.80 373.49,557.11 375.46,557.42 377.43,557.73 379.40,558.04 381.37,558.34 383.34,558.64 385.31,558.93 387.28,559.22 389.25,559.51 391.22,559.80 393.19,560.08 395.16,560.36 397.13,560.64 399.10,560.91 401.07,561.18 403.04,561.45 405.01,561.72 406.98,561.98 408.95,562.24 410.92,562.50 412.89,562.75 414.86,563.00 416.83,563.25 418.80,563.50 420.77,563.75 422.74,563.99 424.71,564.23 426.68,564.47 428.65,564.70 430.62,564.94 432.59,565.17 434.56,565.39 436.53,565.62 438.50,565.85" fill="none" stroke="#800000" stroke-width="1.25"/>
<polygon points="113.88,406.35 114.40,407.82 115.97,407.87 114.73,408.83 115.17,410.33 113.88,409.45 112.58,410.33 113.02,408.83 111.78,407.87 113.35,407.82" fill="#800000"/>
<polygon points="120.00,418.05 120.53,419.52 122.09,419.57 120.86,420.53 121.29,422.03 120.00,421.15 118.71,422.03 119.14,420.53 117.91,419.57 119.47,419.52" fill="#800000"/>
<polygon points="126.12,428.51 126.65,429.98 128.22,430.03 126.98,430.98 127.42,432.49 126.12,431.61 124.83,432.49 125.27,430.98 124.03,430.03 125.60,429.98" fill="#800000"/>
<polygon points="132.25,437.91 132.78,439.38 134.34,439.43 133.11,440.39 133.54,441.89 132.25,441.01 130.96,441.89 131.39,440.39 130.16,439.43 131.72,439.38" fill="#800000"/>
<polygon points="138.38,446.41 138.90,447.88 140.47,447.93 139.23,448.89 139.67,450.39 138.38,449.51 137.08,450.39 137.52,448.89 136.28,447.93 137.85,447.88" fill="#800000"/>
<polygon points="144.50,454.13 145.03,455.60 146.59,455.65 145.36,456.61 145.79,458.11 144.50,457.23 143.21,458.11 143.64,456.61 142.41,455.65 143.97,455.60" fill="#800000"/>
<polygon points="150.62,461.17 151.15,462.64 152.72,462.69 151.48,463.65 151.92,465.15 150.62,464.27 149.33,465.15 149.77,463.65 148.53,462.69 150.10,462.64" fill="#800000"/>
<polygon points="156.75,467.62 157.28,469.09 158.84,469.14 157.61,470.10 158.04,471.60 156.75,470.72 155.46,471.60 155.89,470.10 154.66,469.14 156.22,469.09" fill="#800000"/>
<polygon points="162.88,473.55 163.40,475.02 164.97,475.07 163.73,476.02 164.17,477.53 162.88,476.65 161.58,477.53 162.02,476.02 160.78,475.07 162.35,475.02" fill="#800000"/>
<polygon points="169.00,479.01 169.53,480.48 171.09,480.53 169.86,481.49 170.29,482.99 169.00,482.11 167.71,482.99 168.14,481.49 166.91,480.53 168.47,480.48" fill="#800000"/>
<polygon points="175.12,484.07 175.65,485.54 177.22,485.59 175.98,486.55 176.42,488.05 175.12,487.17 173.83,488.05 174.27,486.55 173.03,485.59 174.60,485.54" fill="#800000"/>
<polygon points="181.25,488.76 181.78,490.23 183.34,490.28 182.11,491.24 182.54,492.74 181.25,491.86 179.96,492.74 180.39,491.24 179.16,490.28 180.72,490.23" fill="#800000"/>
<polygon points="187.38,493.12 187.90,494.59 189.47,494.64 188.23,495.60 188.67,497.10 187.38,496.22 186.08,497.10 186.52,495.60 185.28,494.64 186.85,494.59" fill="#800000"/>
<polygon points="193.50,497.19 194.03,498.66 195.59,498.71 194.36,499.67 194.79,501.17 193.50,500.29 192.21,501.17 192.64,499.67 191.41,498.71 192.97,498.66" fill="#800000"/>
<polygon points="199.62,500.99 200.15,502.47 201.72,502.51 200.48,503.47 200.92,504.97 199.62,504.09 198.33,504.97 198.77,503.47 197.53,502.51 199.10,502.47" fill="#800000"/>
<polygon points="205.75,504.55 206.28,506.03 207.84,506.07 206.61,507.03 207.04,508.53 205.75,507.65 204.46,508.53 204.89,507.03 203.66,506.07 205.22,506.03" fill="#800000"/>
<polygon points="211.88,507.90 212.40,509.37 213.97,509.42 212.73,510.38 213.17,511.88 211.88,511.00 210.58,511.88 211.02,510.38 209.78,509.42 211.35,509.37" fill="#800000"/>
<polygon points="218.00,511.04 218.53,512.51 220.09,512.56 218.86,513.52 219.29,515.02 218.00,514.14 216.71,515.02 217.14,513.52 215.91,512.56 217.47,512.51" fill="#800000"/>
<polygon points="224.12,514.00 224.65,515.47 226.22,515.52 224.98,516.48 225.42,517.98 224.12,517.10 222.83,517.98 223.27,516.48 222.03,515.52 223.60,515.47" fill="#800000"/>
<polygon points="230.25,516.79 230.78,518.26 232.34,518.31 231.11,519.27 231.54,520.77 230.25,519.89 228.96,520.77 229.39,519.27 228.16,518.31 229.72,518.26" fill="#800000"/>
<polygon points="236.38,519.43 236.90,520.90 238.47,520.95 237.23,521.91 237.67,523.41 236.38,522.53 235.08,523.41 235.52,521.91 234.28,520.95 235.85,520.90" fill="#800000"/>
<polygon points="242.50,521.93 243.03,523.40 244.59,523.45 243.36,524.41 243.79,525.91 242.50,525.03 241.21,525.91 241.64,524.41 240.41,523.45 241.97,523.40" fill="#800000"/>
<polygon points="248.62,524.30 249.15,525.77 250.72,525.82 249.48,526.78 249.92,528.28 248.62,527.40 247.33,528.28 247.77,526.78 246.53,525.82 248.10,525.77" fill="#800000"/>
<polygon points="254.75,526.55 255.28,528.02 256.84,528.07 255.61,529.02 256.04,530.53 254.75,529.65 253.46,530.53 253.89,529.02 252.66,528.07 254.22,528.02" fill="#800000"/>
<polygon points="260.88,528.68 261.40,530.15 262.97,530.20 261.73,531.16 262.17,532.66 260.88,531.78 259.58,532.66 260.02,531.16 258.78,530.20 260.35,530.15" fill="#800000"/>
<polygon points="267.00,530.71 267.53,532.18 269.09,532.23 267.86,533.19 268.29,534.69 267.00,533.81 265.71,534.69 266.14,533.19 264.91,532.23 266.47,532.18" fill="#800000"/>
<polygon points="273.12,532.65 273.65,534.12 275.22,534.17 273.98,535.13 274.42,536.63 273.12,535.75 271.83,536.63 272.27,535.13 271.03,534.17 272.60,534.12" fill="#800000"/>
<polygon points="279.25,534.49 279.78,535.97 281.34,536.01 280.11,536.97 280.54,538.47 279.25,537.59 277.96,538.47 278.39,536.97 277.16,536.01 278.72,535.97" fill="#800000"/>
<polygon points="285.38,536.26 285.90,537.73 287.47,537.78 286.23,538.73 286.67,540.24 285.38,539.36 284.08,540.24 284.52,538.73 283.28,537.78 284.85,537.73" fill="#800000"/>
<polygon points="291.50,537.94 292.03,539.41 293.59,539.46 292.36,540.42 292.79,541.92 291.50,541.04 290.21,541.92 290.64,540.42 289.41,539.46 290.97,539.41" fill="#800000"/>
<polygon points="297.62,539.55 298.15,541.02 299.72,541.07 298.48,542.03 298.92,543.53 297.62,542.65 296.33,543.53 296.77,542.03 295.53,541.07 297.10,541.02" fill="#800000"/>
<polygon points="303.75,541.09 304.28,542.56 305.84,542.61 304.61,543.57 305.04,545.07 303.75,544.19 302.46,545.07 302.89,543.57 301.66,542.61 303.22,542.56" fill="#800000"/>
<polygon points="309.88,542.57 310.40,544.04 311.97,544.09 310.73,545.05 311.17,546.55 309.88,545.67 308.58,546.55 309.02,545.05 307.78,544.09 309.35,544.04" fill="#800000"/>
<polygon points="316.00,543.99 316.53,545.46 318.09,545.51 316.86,546.47 317.29,547.97 316.00,547.09 314.71,547.97 315.14,546.47 313.91,545.51 315.47,545.46" fill="#800000"/>
<polygon points="322.12,545.35 322.65,546.82 324.22,546.87 322.98,547.83 323.42,549.33 322.12,548.45 320.83,549.33 321.27,547.83 320.03,546.87 321.60,546.82" fill="#800000"/>
<polygon points="328.25,546.65 328.78,548.13 330.34,548.17 329.11,549.13 329.54,550.63 328.25,549.75 326.96,550.63 327.39,549.13 326.16,548.17 327.72,548.13" fill="#800000"/>
<polygon points="334.38,547.91 334.90,549.38 336.47,549.43 335.23,550.39 335.67,551.89 334.38,551.01 333.08,551.89 333.52,550.39 332.28,549.43 333.85,549.38" fill="#800000"/>
<polygon points="340.50,549.12 341.03,550.59 342.59,550.64 341.36,551.60 341.79,553.10 340.50,552.22 339.21,553.10 339.64,551.60 338.41,550.64 339.97,550.59" fill="#800000"/>
<polygon points="346.62,550.28 347.15,551.75 348.72,551.80 347.48,552.76 347.92,554.26 346.62,553.38 345.33,554.26 345.77,552.76 344.53,551.80 346.10,551.75" fill="#800000"/>
<polygon points="352.75,551.40 353.28,552.87 354.84,552.92 353.61,553.88 354.04,555.38 352.75,554.50 351.46,555.38 351.89,553.88 350.66,552.92 352.22,552.87" fill="#800000"/>
<polygon points="358.88,552.48 359.40,553.95 360.97,554.00 359.73,554.96 360.17,556.46 358.88,555.58 357.58,556.46 358.02,554.96 356.78,554.00 358.35,553.95" fill="#800000"/>
<polygon points="365.00,553.52 365.53,555.00 367.09,555.05 365.86,556.00 366.29,557.50 365.00,556.62 363.71,557.50 364.14,556.00 362.91,555.05 364.47,555.00" fill="#800000"/>
<polygon points="371.12,554.53 371.65,556.00 373.22,556.05 371.98,557.01 372.42,558.51 371.12,557.63 369.83,558.51 370.27,557.01 369.03,556.05 370.60,556.00" fill="#800000"/>
<polygon points="377.25,555.50 377.78,556.97 379.34,557.02 378.11,557.98 378.54,559.48 377.25,558.60 375.96,559.48 376.39,557.98 375.16,557.02 376.72,556.97" fill="#800000"/>
<polygon points="383.38,556.44 383.90,557.91 385.47,557.96 384.23,558.92 384.67,560.42 383.38,559.54 382.08,560.42 382.52,558.92 381.28,557.96 382.85,557.91" fill="#800000"/>
<polygon points="389.50,557.35 390.03,558.82 391.59,558.87 390.36,559.83 390.79,561.33 389.50,560.45 388.21,561.33 388.64,559.83 387.41,558.87 388.97,558.82" fill="#800000"/>
<polygon points="395.62,558.23 396.15,559.70 397.72,559.75 396.48,560.70 396.92,562.21 395.62,561.33 394.33,562.21 394.77,560.70 393.53,559.75 395.10,559.70" fill="#800000"/>
<polygon points="401.75,559.07 402.28,560.55 403.84,560.59 402.61,561.55 403.04,563.05 401.75,562.17 400.46,563.05 400.89,561.55 399.66,560.59 401.22,560.55" fill="#800000"/>
<polygon points="407.88,559.90 408.40,561.37 409.97,561.42 408.73,562.38 409.17,563.88 407.88,563.00 406.58,563.88 407.02,562.38 405.78,561.42 407.35,561.37" fill="#800000"/>
<polygon points="414.00,560.69 414.53,562.17 416.09,562.21 414.86,563.17 415.29,564.67 414.00,563.79 412.71,564.67 413.14,563.17 411.91,562.21 413.47,562.17" fill="#800000"/>
<polygon points="420.12,561.47 420.65,562.94 422.22,562.99 420.98,563.94 421.42,565.45 420.12,564.57 418.83,565.45 419.27,563.94 418.03,562.99 419.60,562.94" fill="#800000"/>
<polygon points="426.25,562.21 426.78,563.69 428.34,563.73 427.11,564.69 427.54,566.19 426.25,565.31 424.96,566.19 425.39,564.69 424.16,563.73 425.72,563.69" fill="#800000"/>
<polygon points="432.38,562.94 432.90,564.41 434.47,564.46 433.23,565.42 433.67,566.92 432.38,566.04 431.08,566.92 431.52,565.42 430.28,564.46 431.85,564.41" fill="#800000"/>
<polygon points="438.50,563.65 439.03,565.12 440.59,565.17 439.36,566.12 439.79,567.63 438.50,566.75 437.21,567.63 437.64,566.12 436.41,565.17 437.97,565.12" fill="#800000"/>
<polyline points="46.50,562.81 48.47,557.79 50.44,553.27 52.41,549.18 54.38,545.45 56.35,542.05 58.32,538.93 60.29,536.06 62.26,533.41 64.23,530.96 66.20,528.68 68.17,526.56 70.14,524.58 72.11,522.73 74.08,521.00 76.05,519.37 78.02,517.84 79.99,516.40 81.96,515.05 83.93,513.76 85.90,512.55 87.87,511.40 89.84,510.31 91.81,509.27 93.78,508.28 95.75,507.34 97.72,506.45 99.69,505.59 101.66,504.78 103.63,504.00 105.60,503.25 107.57,502.53 109.54,501.85 111.51,501.19 113.47,500.56 115.44,499.95 117.41,499.37 119.38,498.81 121.35,498.27 123.32,497.75 125.29,497.25 127.26,496.77 129.23,496.30 131.20,495.85 133.17,495.42 135.14,495.00 137.11,494.59 139.08,494.20 141.05,493.82 143.02,493.45 144.99,493.09 146.96,492.75 148.93,492.41 150.90,492.09 152.87,491.77 154.84,491.47 156.81,491.17 158.78,490.88 160.75,490.60 162.72,490.33 164.69,490.06 166.66,489.80 168.63,489.55 170.60,489.31 172.57,489.07 174.54,488.84 176.51,488.61 178.48,488.39 180.45,488.18 182.42,487.97 184.39,487.77 186.36,487.57 188.33,487.38 190.30,487.19 192.27,487.00 194.24,486.82 196.21,486.65 198.18,486.47 200.15,486.31 202.12,486.14 204.09,485.98 206.06,485.82 208.03,485.67 210.00,485.52 211.97,485.37 213.94,485.23 215.91,485.09 217.88,484.95 219.85,484.82 221.82,484.69 223.79,484.56 225.76,484.43 227.73,484.31 229.70,484.19 231.67,484.07 233.64,483.95 235.61,483.84 237.58,483.73 239.55,483.62 241.52,483.51 243.48,483.40 245.45,483.30 247.42,483.20 249.39,483.10 251.36,483.00 253.33,482.91 255.30,482.81 257.27,482.72 259.24,482.63 261.21,482.54 263.18,482.45 265.15,482.37 267.12,482.28 269.09,482.20 271.06,482.12 273.03,482.04 275.00,481.96 276.97,481.88 278.94,481.81 280.91,481.73 282.88,481.66 284.85,481.59 286.82,481.52 288.79,481.45 290.76,481.38 292.73,481.31 294.70,481.25 296.67,481.18 298.64,481.12 300.61,481.05 302.58,480.99 304.55,480.93 306.52,480.87 308.49,480.81 310.46,480.75 312.43,480.70 314.40,480.64 316.37,480.59 318.34,480.53 320.31,480.48 322.28,480.42 324.25,480.37 326.22,480.32 328.19,480.27 330.16,480.22 332.13,480.17 334.10,480.12 336.07,480.08 338.04,480.03 340.01,479.98 341.98,479.94 343.95,479.89 345.92,479.85 347.89,479.81 349.86,479.76 351.83,479.72 353.80,479.68 355.77,479.64 357.74,479.60 359.71,479.56 361.68,479.52 363.65,479.48 365.62,479.44 367.59,479.40 369.56,479.37 371.53,479.33 373.49,479.29 375.46,479.26 377.43,479.22 379.40,479.19 381.37,479.15 383.34,479.12 385.31,479.09 387.28,479.05 389.25,479.02 391.22,478.99 393.19,478.96 395.16,478.93 397.13,478.90 399.10,478.87 401.07,478.84 403.04,478.81 405.01,478.78 406.98,478.75 408.95,478.72 410.92,478.69 412.89,478.66 414.86,478.64 416.83,478.61 418.80,478.58 420.77,478.56 422.74,478.53 424.71,478.51 426.68,478.48 428.65,478.46 430.62,478.43 432.59,478.41 434.56,478.38 436.53,478.36 438.50,478.34" fill="none" stroke="#808000" stroke-width="1.25"/>
<polygon points="46.50,560.81 48.40,562.19 47.68,564.43 45.32,564.43 44.60,562.19" fill="#808000"/>
<polygon points="52.62,546.76 54.53,548.14 53.80,550.37 51.45,550.37 50.72,548.14" fill="#808000"/>
<polygon points="58.75,536.28 60.65,537.66 59.93,539.90 57.57,539.90 56.85,537.66" fill="#808000"/>
<polygon points="64.88,528.19 66.78,529.57 66.05,531.81 63.70,531.81 62.97,529.57" fill="#808000"/>
<polygon points="71.00,521.76 72.90,523.14 72.18,525.37 69.82,525.37 69.10,523.14" fill="#808000"/>
<polygon points="77.12,516.53 79.03,517.91 78.30,520.14 75.95,520.14 75.22,517.91" fill="#808000"/>
<polygon points="83.25,512.20 85.15,513.58 84.43,515.81 82.07,515.81 81.35,513.58" fill="#808000"/>
<polygon points="89.38,508.56 91.28,509.94 90.55,512.17 88.20,512.17 87.47,509.94" fill="#808000"/>
<polygon points="95.50,505.46 97.40,506.84 96.68,509.07 94.32,509.07 93.60,506.84" fill="#808000"/>
<polygon points="101.62,502.79 103.53,504.17 102.80,506.41 100.45,506.41 99.72,504.17" fill="#808000"/>
<polygon points="107.75,500.47 109.65,501.85 108.93,504.09 106.57,504.09 105.85,501.85" fill="#808000"/>
<polygon points="113.88,498.44 115.78,499.82 115.05,502.05 112.70,502.05 111.97,499.82" fill="#808000"/>
<polygon points="120.00,496.64 121.90,498.02 121.18,500.26 118.82,500.26 118.10,498.02" fill="#808000"/>
<polygon points="126.12,495.05 128.03,496.43 127.30,498.66 124.95,498.66 124.22,496.43" fill="#808000"/>
<polygon points="132.25,493.62 134.15,495.00 133.43,497.24 131.07,497.24 130.35,495.00" fill="#808000"/>
<polygon points="138.38,492.34 140.28,493.72 139.55,495.96 137.20,495.96 136.47,493.72" fill="#808000"/>
<polygon points="144.50,491.18 146.40,492.56 145.68,494.80 143.32,494.80 142.60,492.56" fill="#808000"/>
<polygon points="150.62,490.13 152.53,491.51 151.80,493.75 149.45,493.75 148.72,491.51" fill="#808000"/>
<polygon points="156.75,489.18 158.65,490.56 157.93,492.80 155.57,492.80 154.85,490.56" fill="#808000"/>
<polygon points="162.88,488.31 164.78,489.69 164.05,491.92 161.70,491.92 160.97,489.69" fill="#808000"/>
<polygon points="169.00,487.51 170.90,488.89 170.18,491.12 167.82,491.12 167.10,488.89" fill="#808000"/>
<polygon points="175.12,486.77 177.03,488.15 176.30,490.39 173.95,490.39 173.22,488.15" fill="#808000"/>
<polygon points="181.25,486.09 183.15,487.48 182.43,489.71 180.07,489.71 179.35,487.48" fill="#808000"/>
<polygon points="187.38,485.47 189.28,486.85 188.55,489.09 186.20,489.09 185.47,486.85" fill="#808000"/>
<polygon points="193.50,484.89 195.40,486.27 194.68,488.51 192.32,488.51 191.60,486.27" fill="#808000"/>
<polygon points="199.62,484.35 201.53,485.73 200.80,487.97 198.45,487.97 197.72,485.73" fill="#808000"/>
<polygon points="205.75,483.85 207.65,485.23 206.93,487.47 204.57,487.47 203.85,485.23" fill="#808000"/>
<polygon points="211.88,483.38 213.78,484.76 213.05,487.00 210.70,487.00 209.97,484.76" fill="#808000"/>
<polygon points="218.00,482.94 219.90,484.33 219.18,486.56 216.82,486.56 216.10,484.33" fill="#808000"/>
<polygon points="224.12,482.54 226.03,483.92 225.30,486.15 222.95,486.15 222.22,483.92" fill="#808000"/>
<polygon points="230.25,482.15 232.15,483.54 231.43,485.77 229.07,485.77 228.35,483.54" fill="#808000"/>
<polygon points="236.38,481.79 238.28,483.18 237.55,485.41 235.20,485.41 234.47,483.18" fill="#808000"/>
<polygon points="242.50,481.46 244.40,482.84 243.68,485.07 241.32,485.07 240.60,482.84" fill="#808000"/>
<polygon points="248.62,481.14 250.53,482.52 249.80,484.76 247.45,484.76 246.72,482.52" fill="#808000"/>
<polygon points="254.75,480.84 256.65,482.22 255.93,484.46 253.57,484.46 252.85,482.22" fill="#808000"/>
<polygon points="260.88,480.56 262.78,481.94 262.05,484.17 259.70,484.17 258.97,481.94" fill="#808000"/>
<polygon points="267.00,480.29 268.90,481.67 268.18,483.91 265.82,483.91 265.10,481.67" fill="#808000"/>
<polygon points="273.12,480.04 275.03,481.42 274.30,483.65 271.95,483.65 271.22,481.42" fill="#808000"/>
<polygon points="279.25,479.80 281.15,481.18 280.43,483.41 278.07,483.41 277.35,481.18" fill="#808000"/>
<polygon points="285.38,479.57 287.28,480.95 286.55,483.19 284.20,483.19 283.47,480.95" fill="#808000"/>
<polygon points="291.50,479.35 293.40,480.74 292.68,482.97 290.32,482.97 289.60,480.74" fill="#808000"/>
<polygon points="297.62,479.15 299.53,480.53 298.80,482.77 296.45,482.77 295.72,480.53" fill="#808000"/>
<polygon points="303.75,478.96 305.65,480.34 304.93,482.57 302.57,482.57 301.85,480.34" fill="#808000"/>
<polygon points="309.88,478.77 311.78,480.15 311.05,482.39 308.70,482.39 307.97,480.15" fill="#808000"/>
<polygon points="316.00,478.60 317.90,479.98 317.18,482.21 314.82,482.21 314.10,479.98" fill="#808000"/>
<polygon points="322.12,478.43 324.03,479.81 323.30,482.05 320.95,482.05 320.22,479.81" fill="#808000"/>
<polygon points="328.25,478.27 330.15,479.65 329.43,481.89 327.07,481.89 326.35,479.65" fill="#808000"/>
<polygon points="334.38,478.12 336.28,479.50 335.55,481.74 333.20,481.74 332.47,479.50" fill="#808000"/>
<polygon points="340.50,477.97 342.40,479.35 341.68,481.59 339.32,481.59 338.60,479.35" fill="#808000"/>
<polygon points="346.62,477.83 348.53,479.22 347.80,481.45 345.45,481.45 344.72,479.22" fill="#808000"/>
<polygon points="352.75,477.70 354.65,479.08 353.93,481.32 351.57,481.32 350.85,479.08" fill="#808000"/>
<polygon points="358.88,477.57 360.78,478.96 360.05,481.19 357.70,481.19 356.97,478.96" fill="#808000"/>
<polygon points="365.00,477.45 366.90,478.84 366.18,481.07 363.82,481.07 363.10,478.84" fill="#808000"/>
<polygon points="371.12,477.34 373.03,478.72 372.30,480.96 369.95,480.96 369.22,478.72" fill="#808000"/>
<polygon points="377.25,477.23 379.15,478.61 378.43,480.84 376.07,480.84 375.35,478.61" fill="#808000"/>
<polygon points="383.38,477.12 385.28,478.50 384.55,480.74 382.20,480.74 381.47,478.50" fill="#808000"/>
<polygon points="389.50,477.02 391.40,478.40 390.68,480.64 388.32,480.64 387.60,478.40" fill="#808000"/>
<polygon points="395.62,476.92 397.53,478.30 396.80,480.54 394.45,480.54 393.72,478.30" fill="#808000"/>
<polygon points="401.75,476.83 403.65,478.21 402.93,480.44 400.57,480.44 399.85,478.21" fill="#808000"/>
<polygon points="407.88,476.74 409.78,478.12 409.05,480.35 406.70,480.35 405.97,478.12" fill="#808000"/>
<polygon points="414.00,476.65 415.90,478.03 415.18,480.27 412.82,480.27 412.10,478.03" fill="#808000"/>
<polygon points="420.12,476.57 422.03,477.95 421.30,480.18 418.95,480.18 418.22,477.95" fill="#808000"/>
<polygon points="426.25,476.49 428.15,477.87 427.43,480.10 425.07,480.10 424.35,477.87" fill="#808000"/>
<polygon points="432.38,476.41 434.28,477.79 433.55,480.03 431.20,480.03 430.47,477.79" fill="#808000"/>
<polygon points="438.50,476.34 440.40,477.72 439.68,479.95 437.32,479.95 436.60,477.72" fill="#808000"/>
<polyline points="46.50,960.41 48.47,934.08 50.44,910.29 52.41,888.70 54.38,869.02 56.35,851.00 58.32,834.44 60.29,819.17 62.26,805.05 64.23,791.95 66.20,779.76 68.17,768.39 70.14,757.76 72.11,747.81 74.08,738.46 76.05,729.67 78.02,721.39 79.99,713.57 81.96,706.18 83.93,699.18 85.90,692.54 87.87,686.24 89.84,680.24 91.81,674.54 93.78,669.10 95.75,663.91 97.72,658.95 99.69,654.21 101.66,649.67 103.63,645.32 105.60,641.16 107.57,637.15 109.54,633.31 111.51,629.62 113.47,626.06 115.44,622.64 117.41,619.34 119.38,616.17 121.35,613.10 123.32,610.14 125.29,607.28 127.26,604.52 129.23,601.84 131.20,599.26 133.17,596.76 135.14,594.33 137.11,591.98 139.08,589.70 141.05,587.49 143.02,585.35 144.99,583.27 146.96,581.24 148.93,579.28 150.90,577.37 152.87,575.51 154.84,573.70 156.81,571.94 158.78,570.23 160.75,568.56 162.72,566.93 164.69,565.35 166.66,563.81 168.63,562.30 170.60,560.83 172.57,559.40 174.54,558.00 176.51,556.63 178.48,555.30 180.45,553.99 182.42,552.72 184.39,551.47 186.36,550.26 188.33,549.06 190.30,547.90 192.27,546.76 194.24,545.64 196.21,544.55 198.18,543.48 200.15,542.44 202.12,541.41 204.09,540.40 206.06,539.42 208.03,538.45 210.00,537.51 211.97,536.58 213.94,535.67 215.91,534.78 217.88,533.90 219.85,533.04 221.82,532.20 223.79,531.37 225.76,530.56 227.73,529.76 229.70,528.98 231.67,528.21 233.64,527.45 235.61,526.71 237.58,525.98 239.55,525.26 241.52,524.55 243.48,523.86 245.45,523.17 247.42,522.50 249.39,521.84 251.36,521.19 253.33,520.56 255.30,519.93 257.27,519.31 259.24,518.70 261.21,518.10 263.18,517.51 265.15,516.93 267.12,516.36 269.09,515.79 271.06,515.24 273.03,514.69 275.00,514.15 276.97,513.62 278.94,513.10 280.91,512.58 282.88,512.08 284.85,511.57 286.82,511.08 288.79,510.59 290.76,510.11 292.73,509.64 294.70,509.17 296.67,508.71 298.64,508.26 300.61,507.81 302.58,507.37 304.55,506.93 306.52,506.50 308.49,506.08 310.46,505.66 312.43,505.25 314.40,504.84 316.37,504.44 318.34,504.04 320.31,503.65 322.28,503.26 324.25,502.88 326.22,502.50 328.19,502.12 330.16,501.75 332.13,501.39 334.10,501.03 336.07,500.67 338.04,500.32 340.01,499.98 341.98,499.63 343.95,499.29 345.92,498.96 347.89,498.63 349.86,498.30 351.83,497.97 353.80,497.65 355.77,497.34 357.74,497.03 359.71,496.72 361.68,496.41 363.65,496.11 365.62,495.81 367.59,495.51 369.56,495.22 371.53,494.93 373.49,494.64 375.46,494.36 377.43,494.08 379.40,493.80 381.37,493.53 383.34,493.26 385.31,492.99 387.28,492.72 389.25,492.46 391.22,492.20 393.19,491.94 395.16,491.69 397.13,491.44 399.10,491.19 401.07,490.94 403.04,490.69 405.01,490.45 406.98,490.21 408.95,489.97 410.92,489.74 412.89,489.50 414.86,489.27 416.83,489.04 418.80,488.82 420.77,488.59 422.74,488.37 424.71,488.15 426.68,487.93 428.65,487.72 430.62,487.50 432.59,487.29 434.56,487.08 436.53,486.87 438.50,486.67" fill="none" stroke="#3366AA" stroke-width="1.25"/>
<circle cx="89.38" cy="681.62" r="1.90" fill="#3366AA"/><circle cx="88.88" cy="681.12" r="0.70" fill="#9cc"/>
<circle cx="95.50" cy="664.54" r="1.90" fill="#3366AA"/><circle cx="95.00" cy="664.04" r="0.70" fill="#9cc"/>
<circle cx="101.62" cy="649.74" r="1.90" fill="#3366AA"/><circle cx="101.12" cy="649.24" r="0.70" fill="#9cc"/>
<circle cx="107.75" cy="636.79" r="1.90" fill="#3366AA"/><circle cx="107.25" cy="636.29" r="0.70" fill="#9cc"/>
<circle cx="113.88" cy="625.36" r="1.90" fill="#3366AA"/><circle cx="113.38" cy="624.86" r="0.70" fill="#9cc"/>
<circle cx="120.00" cy="615.20" r="1.90" fill="#3366AA"/><circle cx="119.50" cy="614.70" r="0.70" fill="#9cc"/>
<circle cx="126.12" cy="606.10" r="1.90" fill="#3366AA"/><circle cx="125.62" cy="605.60" r="0.70" fill="#9cc"/>
<circle cx="132.25" cy="597.92" r="1.90" fill="#3366AA"/><circle cx="131.75" cy="597.42" r="0.70" fill="#9cc"/>
<circle cx="138.38" cy="590.51" r="1.90" fill="#3366AA"/><circle cx="137.88" cy="590.01" r="0.70" fill="#9cc"/>
<circle cx="144.50" cy="583.78" r="1.90" fill="#3366AA"/><circle cx="144.00" cy="583.28" r="0.70" fill="#9cc"/>
<circle cx="150.62" cy="577.63" r="1.90" fill="#3366AA"/><circle cx="150.12" cy="577.13" r="0.70" fill="#9cc"/>
<circle cx="156.75" cy="572.00" r="1.90" fill="#3366AA"/><circle cx="156.25" cy="571.50" r="0.70" fill="#9cc"/>
<circle cx="162.88" cy="566.81" r="1.90" fill="#3366AA"/><circle cx="162.38" cy="566.31" r="0.70" fill="#9cc"/>
<circle cx="169.00" cy="562.02" r="1.90" fill="#3366AA"/><circle cx="168.50" cy="561.52" r="0.70" fill="#9cc"/>
<circle cx="175.12" cy="557.59" r="1.90" fill="#3366AA"/><circle cx="174.62" cy="557.09" r="0.70" fill="#9cc"/>
<circle cx="181.25" cy="553.47" r="1.90" fill="#3366AA"/><circle cx="180.75" cy="552.97" r="0.70" fill="#9cc"/>
<circle cx="187.38" cy="549.64" r="1.90" fill="#3366AA"/><circle cx="186.88" cy="549.14" r="0.70" fill="#9cc"/>
<circle cx="193.50" cy="546.06" r="1.90" fill="#3366AA"/><circle cx="193.00" cy="545.56" r="0.70" fill="#9cc"/>
<circle cx="199.62" cy="542.71" r="1.90" fill="#3366AA"/><circle cx="199.12" cy="542.21" r="0.70" fill="#9cc"/>
<circle cx="205.75" cy="539.57" r="1.90" fill="#3366AA"/><circle cx="205.25" cy="539.07" r="0.70" fill="#9cc"/>
<circle cx="211.88" cy="536.62" r="1.90" fill="#3366AA"/><circle cx="211.38" cy="536.12" r="0.70" fill="#9cc"/>
<circle cx="218.00" cy="533.85" r="1.90" fill="#3366AA"/><circle cx="217.50" cy="533.35" r="0.70" fill="#9cc"/>
<circle cx="224.12" cy="531.23" r="1.90" fill="#3366AA"/><circle cx="223.62" cy="530.73" r="0.70" fill="#9cc"/>
<circle cx="230.25" cy="528.76" r="1.90" fill="#3366AA"/><circle cx="229.75" cy="528.26" r="0.70" fill="#9cc"/>
<circle cx="236.38" cy="526.42" r="1.90" fill="#3366AA"/><circle cx="235.88" cy="525.92" r="0.70" fill="#9cc"/>
<circle cx="242.50" cy="524.20" r="1.90" fill="#3366AA"/><circle cx="242.00" cy="523.70" r="0.70" fill="#9cc"/>
<circle cx="248.62" cy="522.10" r="1.90" fill="#3366AA"/><circle cx="248.12" cy="521.60" r="0.70" fill="#9cc"/>
<circle cx="254.75" cy="520.10" r="1.90" fill="#3366AA"/><circle cx="254.25" cy="519.60" r="0.70" fill="#9cc"/>
<circle cx="260.88" cy="518.20" r="1.90" fill="#3366AA"/><circle cx="260.38" cy="517.70" r="0.70" fill="#9cc"/>
<circle cx="267.00" cy="516.39" r="1.90" fill="#3366AA"/><circle cx="266.50" cy="515.89" r="0.70" fill="#9cc"/>
<circle cx="273.12" cy="514.67" r="1.90" fill="#3366AA"/><circle cx="272.62" cy="514.17" r="0.70" fill="#9cc"/>
<circle cx="279.25" cy="513.02" r="1.90" fill="#3366AA"/><circle cx="278.75" cy="512.52" r="0.70" fill="#9cc"/>
<circle cx="285.38" cy="511.44" r="1.90" fill="#3366AA"/><circle cx="284.88" cy="510.94" r="0.70" fill="#9cc"/>
<circle cx="291.50" cy="509.94" r="1.90" fill="#3366AA"/><circle cx="291.00" cy="509.44" r="0.70" fill="#9cc"/>
<circle cx="297.62" cy="508.49" r="1.90" fill="#3366AA"/><circle cx="297.12" cy="507.99" r="0.70" fill="#9cc"/>
<circle cx="303.75" cy="507.11" r="1.90" fill="#3366AA"/><circle cx="303.25" cy="506.61" r="0.70" fill="#9cc"/>
<circle cx="309.88" cy="505.79" r="1.90" fill="#3366AA"/><circle cx="309.38" cy="505.29" r="0.70" fill="#9cc"/>
<circle cx="316.00" cy="504.51" r="1.90" fill="#3366AA"/><circle cx="315.50" cy="504.01" r="0.70" fill="#9cc"/>
<circle cx="322.12" cy="503.29" r="1.90" fill="#3366AA"/><circle cx="321.62" cy="502.79" r="0.70" fill="#9cc"/>
<circle cx="328.25" cy="502.11" r="1.90" fill="#3366AA"/><circle cx="327.75" cy="501.61" r="0.70" fill="#9cc"/>
<circle cx="334.38" cy="500.98" r="1.90" fill="#3366AA"/><circle cx="333.88" cy="500.48" r="0.70" fill="#9cc"/>
<circle cx="340.50" cy="499.89" r="1.90" fill="#3366AA"/><circle cx="340.00" cy="499.39" r="0.70" fill="#9cc"/>
<circle cx="346.62" cy="498.84" r="1.90" fill="#3366AA"/><circle cx="346.12" cy="498.34" r="0.70" fill="#9cc"/>
<circle cx="352.75" cy="497.82" r="1.90" fill="#3366AA"/><circle cx="352.25" cy="497.32" r="0.70" fill="#9cc"/>
<circle cx="358.88" cy="496.85" r="1.90" fill="#3366AA"/><circle cx="358.38" cy="496.35" r="0.70" fill="#9cc"/>
<circle cx="365.00" cy="495.90" r="1.90" fill="#3366AA"/><circle cx="364.50" cy="495.40" r="0.70" fill="#9cc"/>
<circle cx="371.12" cy="494.99" r="1.90" fill="#3366AA"/><circle cx="370.62" cy="494.49" r="0.70" fill="#9cc"/>
<circle cx="377.25" cy="494.11" r="1.90" fill="#3366AA"/><circle cx="376.75" cy="493.61" r="0.70" fill="#9cc"/>
<circle cx="383.38" cy="493.25" r="1.90" fill="#3366AA"/><circle cx="382.88" cy="492.75" r="0.70" fill="#9cc"/>
<circle cx="389.50" cy="492.43" r="1.90" fill="#3366AA"/><circle cx="389.00" cy="491.93" r="0.70" fill="#9cc"/>
<circle cx="395.62" cy="491.63" r="1.90" fill="#3366AA"/><circle cx="395.12" cy="491.13" r="0.70" fill="#9cc"/>
<circle cx="401.75" cy="490.85" r="1.90" fill="#3366AA"/><circle cx="401.25" cy="490.35" r="0.70" fill="#9cc"/>
<circle cx="407.88" cy="490.10" r="1.90" fill="#3366AA"/><circle cx="407.38" cy="489.60" r="0.70" fill="#9cc"/>
<circle cx="414.00" cy="489.37" r="1.90" fill="#3366AA"/><circle cx="413.50" cy="488.87" r="0.70" fill="#9cc"/>
<circle cx="420.12" cy="488.67" r="1.90" fill="#3366AA"/><circle cx="419.62" cy="488.17" r="0.70" fill="#9cc"/>
<circle cx="426.25" cy="487.98" r="1.90" fill="#3366AA"/><circle cx="425.75" cy="487.48" r="0.70" fill="#9cc"/>
<circle cx="432.38" cy="487.32" r="1.90" fill="#3366AA"/><circle cx="431.88" cy="486.82" r="0.70" fill="#9cc"/>
<circle cx="438.50" cy="486.67" r="1.90" fill="#3366AA"/><circle cx="438.00" cy="486.17" r="0.70" fill="#9cc"/>
<polyline points="46.50,675.28 48.47,664.76 50.44,655.27 52.41,646.65 54.38,638.80 56.35,631.62 58.32,625.02 60.29,618.94 62.26,613.32 64.23,608.10 66.20,603.25 68.17,598.73 70.14,594.51 72.11,590.56 74.08,586.85 76.05,583.36 78.02,580.07 79.99,576.97 81.96,574.04 83.93,571.27 85.90,568.64 87.87,566.15 89.84,563.78 91.81,561.52 93.78,559.37 95.75,557.32 97.72,555.36 99.69,553.49 101.66,551.70 103.63,549.99 105.60,548.34 107.57,546.77 109.54,545.25 111.51,543.80 113.47,542.40 115.44,541.06 117.41,539.76 119.38,538.51 121.35,537.31 123.32,536.15 125.29,535.02 127.26,533.94 129.23,532.89 131.20,531.88 133.17,530.90 135.14,529.95 137.11,529.03 139.08,528.14 141.05,527.28 143.02,526.44 144.99,525.63 146.96,524.84 148.93,524.07 150.90,523.32 152.87,522.60 154.84,521.89 156.81,521.21 158.78,520.54 160.75,519.89 162.72,519.26 164.69,518.65 166.66,518.05 168.63,517.46 170.60,516.89 172.57,516.33 174.54,515.79 176.51,515.26 178.48,514.74 180.45,514.24 182.42,513.75 184.39,513.26 186.36,512.79 188.33,512.33 190.30,511.88 192.27,511.44 194.24,511.01 196.21,510.59 198.18,510.18 200.15,509.77 202.12,509.38 204.09,508.99 206.06,508.61 208.03,508.24 210.00,507.88 211.97,507.52 213.94,507.17 215.91,506.83 217.88,506.49 219.85,506.16 221.82,505.84 223.79,505.52 225.76,505.21 227.73,504.90 229.70,504.60 231.67,504.31 233.64,504.02 235.61,503.74 237.58,503.46 239.55,503.18 241.52,502.91 243.48,502.65 245.45,502.39 247.42,502.13 249.39,501.88 251.36,501.63 253.33,501.39 255.30,501.15 257.27,500.92 259.24,500.69 261.21,500.46 263.18,500.23 265.15,500.01 267.12,499.80 269.09,499.58 271.06,499.37 273.03,499.16 275.00,498.96 276.97,498.76 278.94,498.56 280.91,498.37 282.88,498.18 284.85,497.99 286.82,497.80 288.79,497.62 290.76,497.43 292.73,497.26 294.70,497.08 296.67,496.91 298.64,496.74 300.61,496.57 302.58,496.40 304.55,496.24 306.52,496.08 308.49,495.92 310.46,495.76 312.43,495.60 314.40,495.45 316.37,495.30 318.34,495.15 320.31,495.00 322.28,494.86 324.25,494.72 326.22,494.57 328.19,494.43 330.16,494.30 332.13,494.16 334.10,494.03 336.07,493.89 338.04,493.76 340.01,493.63 341.98,493.50 343.95,493.38 345.92,493.25 347.89,493.13 349.86,493.01 351.83,492.89 353.80,492.77 355.77,492.65 357.74,492.54 359.71,492.42 361.68,492.31 363.65,492.20 365.62,492.08 367.59,491.98 369.56,491.87 371.53,491.76 373.49,491.65 375.46,491.55 377.43,491.45 379.40,491.34 381.37,491.24 383.34,491.14 385.31,491.04 387.28,490.95 389.25,490.85 391.22,490.75 393.19,490.66 395.16,490.56 397.13,490.47 399.10,490.38 401.07,490.29 403.04,490.20 405.01,490.11 406.98,490.02 408.95,489.93 410.92,489.85 412.89,489.76 414.86,489.68 416.83,489.59 418.80,489.51 420.77,489.43 422.74,489.35 424.71,489.27 426.68,489.19 428.65,489.11 430.62,489.03 432.59,488.96 434.56,488.88 436.53,488.80 438.50,488.73" fill="none" stroke="#2E8B8B" stroke-width="1.25"/>
<path d="M46.50,673.28V677.28" stroke="#2E8B8B" stroke-width="0.8"/>
<path d="M52.62,643.76V647.76" stroke="#2E8B8B" stroke-width="0.8"/>
<path d="M58.75,621.65V625.65" stroke="#2E8B8B" stroke-width="0.8"/>
<path d="M64.88,604.47V608.47" stroke="#2E8B8B" stroke-width="0.8"/>
<path d="M71.00,590.75V594.75" stroke="#2E8B8B" stroke-width="0.8"/>
<path d="M77.12,579.54V583.54" stroke="#2E8B8B" stroke-width="0.8"/>
<path d="M83.25,570.21V574.21" stroke="#2E8B8B" stroke-width="0.8"/>
<path d="M89.38,562.32V566.32" stroke="#2E8B8B" stroke-width="0.8"/>
<path d="M95.50,555.57V559.57" stroke="#2E8B8B" stroke-width="0.8"/>
<path d="M101.62,549.73V553.73" stroke="#2E8B8B" stroke-width="0.8"/>
<path d="M107.75,544.62V548.62" stroke="#2E8B8B" stroke-width="0.8"/>
<path d="M113.88,540.12V544.12" stroke="#2E8B8B" stroke-width="0.8"/>
<path d="M120.00,536.13V540.13" stroke="#2E8B8B" stroke-width="0.8"/>
<path d="M126.12,532.56V536.56" stroke="#2E8B8B" stroke-width="0.8"/>
<path d="M132.25,529.36V533.36" stroke="#2E8B8B" stroke-width="0.8"/>
<path d="M138.38,526.46V530.46" stroke="#2E8B8B" stroke-width="0.8"/>
<path d="M144.50,523.83V527.83" stroke="#2E8B8B" stroke-width="0.8"/>
<path d="M150.62,521.43V525.43" stroke="#2E8B8B" stroke-width="0.8"/>
<path d="M156.75,519.23V523.23" stroke="#2E8B8B" stroke-width="0.8"/>
<path d="M162.88,517.21V521.21" stroke="#2E8B8B" stroke-width="0.8"/>
<path d="M169.00,515.35V519.35" stroke="#2E8B8B" stroke-width="0.8"/>
<path d="M175.12,513.63V517.63" stroke="#2E8B8B" stroke-width="0.8"/>
<path d="M181.25,512.04V516.04" stroke="#2E8B8B" stroke-width="0.8"/>
<path d="M187.38,510.55V514.55" stroke="#2E8B8B" stroke-width="0.8"/>
<path d="M193.50,509.17V513.17" stroke="#2E8B8B" stroke-width="0.8"/>
<path d="M199.62,507.88V511.88" stroke="#2E8B8B" stroke-width="0.8"/>
<path d="M205.75,506.67V510.67" stroke="#2E8B8B" stroke-width="0.8"/>
<path d="M211.88,505.54V509.54" stroke="#2E8B8B" stroke-width="0.8"/>
<path d="M218.00,504.47V508.47" stroke="#2E8B8B" stroke-width="0.8"/>
<path d="M224.12,503.47V507.47" stroke="#2E8B8B" stroke-width="0.8"/>
<path d="M230.25,502.52V506.52" stroke="#2E8B8B" stroke-width="0.8"/>
<path d="M236.38,501.63V505.63" stroke="#2E8B8B" stroke-width="0.8"/>
<path d="M242.50,500.78V504.78" stroke="#2E8B8B" stroke-width="0.8"/>
<path d="M248.62,499.98V503.98" stroke="#2E8B8B" stroke-width="0.8"/>
<path d="M254.75,499.22V503.22" stroke="#2E8B8B" stroke-width="0.8"/>
<path d="M260.88,498.50V502.50" stroke="#2E8B8B" stroke-width="0.8"/>
<path d="M267.00,497.81V501.81" stroke="#2E8B8B" stroke-width="0.8"/>
<path d="M273.12,497.15V501.15" stroke="#2E8B8B" stroke-width="0.8"/>
<path d="M279.25,496.53V500.53" stroke="#2E8B8B" stroke-width="0.8"/>
<path d="M285.38,495.94V499.94" stroke="#2E8B8B" stroke-width="0.8"/>
<path d="M291.50,495.37V499.37" stroke="#2E8B8B" stroke-width="0.8"/>
<path d="M297.62,494.82V498.82" stroke="#2E8B8B" stroke-width="0.8"/>
<path d="M303.75,494.30V498.30" stroke="#2E8B8B" stroke-width="0.8"/>
<path d="M309.88,493.81V497.81" stroke="#2E8B8B" stroke-width="0.8"/>
<path d="M316.00,493.33V497.33" stroke="#2E8B8B" stroke-width="0.8"/>
<path d="M322.12,492.87V496.87" stroke="#2E8B8B" stroke-width="0.8"/>
<path d="M328.25,492.43V496.43" stroke="#2E8B8B" stroke-width="0.8"/>
<path d="M334.38,492.01V496.01" stroke="#2E8B8B" stroke-width="0.8"/>
<path d="M340.50,491.60V495.60" stroke="#2E8B8B" stroke-width="0.8"/>
<path d="M346.62,491.21V495.21" stroke="#2E8B8B" stroke-width="0.8"/>
<path d="M352.75,490.83V494.83" stroke="#2E8B8B" stroke-width="0.8"/>
<path d="M358.88,490.47V494.47" stroke="#2E8B8B" stroke-width="0.8"/>
<path d="M365.00,490.12V494.12" stroke="#2E8B8B" stroke-width="0.8"/>
<path d="M371.12,489.78V493.78" stroke="#2E8B8B" stroke-width="0.8"/>
<path d="M377.25,489.46V493.46" stroke="#2E8B8B" stroke-width="0.8"/>
<path d="M383.38,489.14V493.14" stroke="#2E8B8B" stroke-width="0.8"/>
<path d="M389.50,488.84V492.84" stroke="#2E8B8B" stroke-width="0.8"/>
<path d="M395.62,488.54V492.54" stroke="#2E8B8B" stroke-width="0.8"/>
<path d="M401.75,488.26V492.26" stroke="#2E8B8B" stroke-width="0.8"/>
<path d="M407.88,487.98V491.98" stroke="#2E8B8B" stroke-width="0.8"/>
<path d="M414.00,487.72V491.72" stroke="#2E8B8B" stroke-width="0.8"/>
<path d="M420.12,487.46V491.46" stroke="#2E8B8B" stroke-width="0.8"/>
<path d="M426.25,487.21V491.21" stroke="#2E8B8B" stroke-width="0.8"/>
<path d="M432.38,486.96V490.96" stroke="#2E8B8B" stroke-width="0.8"/>
<path d="M438.50,486.73V490.73" stroke="#2E8B8B" stroke-width="0.8"/>
<polyline points="46.50,654.46 48.47,644.05 50.44,634.66 52.41,626.12 54.38,618.35 56.35,611.22 58.32,604.68 60.29,598.64 62.26,593.05 64.23,587.87 66.20,583.05 68.17,578.55 70.14,574.35 72.11,570.41 74.08,566.71 76.05,563.23 78.02,559.96 79.99,556.86 81.96,553.93 83.93,551.16 85.90,548.53 87.87,546.03 89.84,543.66 91.81,541.40 93.78,539.24 95.75,537.19 97.72,535.22 99.69,533.34 101.66,531.54 103.63,529.82 105.60,528.17 107.57,526.58 109.54,525.06 111.51,523.59 113.47,522.18 115.44,520.82 117.41,519.52 119.38,518.25 121.35,517.04 123.32,515.86 125.29,514.73 127.26,513.63 129.23,512.57 131.20,511.54 133.17,510.55 135.14,509.58 137.11,508.65 139.08,507.74 141.05,506.86 143.02,506.01 144.99,505.18 146.96,504.38 148.93,503.60 150.90,502.84 152.87,502.10 154.84,501.38 156.81,500.68 158.78,500.00 160.75,499.33 162.72,498.69 164.69,498.06 166.66,497.44 168.63,496.84 170.60,496.26 172.57,495.69 174.54,495.13 176.51,494.58 178.48,494.05 180.45,493.53 182.42,493.03 184.39,492.53 186.36,492.04 188.33,491.57 190.30,491.10 192.27,490.65 194.24,490.21 196.21,489.77 198.18,489.34 200.15,488.93 202.12,488.52 204.09,488.11 206.06,487.72 208.03,487.34 210.00,486.96 211.97,486.59 213.94,486.22 215.91,485.87 217.88,485.52 219.85,485.18 221.82,484.84 223.79,484.51 225.76,484.18 227.73,483.86 229.70,483.55 231.67,483.24 233.64,482.94 235.61,482.64 237.58,482.35 239.55,482.06 241.52,481.78 243.48,481.50 245.45,481.23 247.42,480.96 249.39,480.70 251.36,480.44 253.33,480.18 255.30,479.93 257.27,479.68 259.24,479.44 261.21,479.20 263.18,478.96 265.15,478.73 267.12,478.50 269.09,478.27 271.06,478.05 273.03,477.83 275.00,477.62 276.97,477.40 278.94,477.19 280.91,476.99 282.88,476.78 284.85,476.58 286.82,476.38 288.79,476.19 290.76,476.00 292.73,475.81 294.70,475.62 296.67,475.43 298.64,475.25 300.61,475.07 302.58,474.90 304.55,474.72 306.52,474.55 308.49,474.38 310.46,474.21 312.43,474.04 314.40,473.88 316.37,473.72 318.34,473.56 320.31,473.40 322.28,473.24 324.25,473.09 326.22,472.94 328.19,472.79 330.16,472.64 332.13,472.49 334.10,472.35 336.07,472.20 338.04,472.06 340.01,471.92 341.98,471.78 343.95,471.65 345.92,471.51 347.89,471.38 349.86,471.25 351.83,471.12 353.80,470.99 355.77,470.86 357.74,470.73 359.71,470.61 361.68,470.49 363.65,470.36 365.62,470.24 367.59,470.12 369.56,470.01 371.53,469.89 373.49,469.77 375.46,469.66 377.43,469.55 379.40,469.43 381.37,469.32 383.34,469.21 385.31,469.11 387.28,469.00 389.25,468.89 391.22,468.79 393.19,468.68 395.16,468.58 397.13,468.48 399.10,468.38 401.07,468.28 403.04,468.18 405.01,468.08 406.98,467.98 408.95,467.89 410.92,467.79 412.89,467.70 414.86,467.60 416.83,467.51 418.80,467.42 420.77,467.33 422.74,467.24 424.71,467.15 426.68,467.06 428.65,466.97 430.62,466.89 432.59,466.80 434.56,466.72 436.53,466.63 438.50,466.55" fill="none" stroke="#A87B3C" stroke-width="1.25"/>
<path d="M44.90,652.86L48.10,656.06M48.10,652.86L44.90,656.06" stroke="#A87B3C" stroke-width="0.8"/>
<path d="M51.02,623.64L54.23,626.84M54.23,623.64L51.02,626.84" stroke="#A87B3C" stroke-width="0.8"/>
<path d="M57.15,601.71L60.35,604.91M60.35,601.71L57.15,604.91" stroke="#A87B3C" stroke-width="0.8"/>
<path d="M63.27,584.65L66.47,587.85M66.47,584.65L63.27,587.85" stroke="#A87B3C" stroke-width="0.8"/>
<path d="M69.40,571.00L72.60,574.20M72.60,571.00L69.40,574.20" stroke="#A87B3C" stroke-width="0.8"/>
<path d="M75.53,559.82L78.72,563.02M78.72,559.82L75.53,563.02" stroke="#A87B3C" stroke-width="0.8"/>
<path d="M81.65,550.50L84.85,553.70M84.85,550.50L81.65,553.70" stroke="#A87B3C" stroke-width="0.8"/>
<path d="M87.78,542.61L90.97,545.81M90.97,542.61L87.78,545.81" stroke="#A87B3C" stroke-width="0.8"/>
<path d="M93.90,535.84L97.10,539.04M97.10,535.84L93.90,539.04" stroke="#A87B3C" stroke-width="0.8"/>
<path d="M100.03,529.97L103.22,533.17M103.22,529.97L100.03,533.17" stroke="#A87B3C" stroke-width="0.8"/>
<path d="M106.15,524.84L109.35,528.04M109.35,524.84L106.15,528.04" stroke="#A87B3C" stroke-width="0.8"/>
<path d="M112.28,520.30L115.47,523.50M115.47,520.30L112.28,523.50" stroke="#A87B3C" stroke-width="0.8"/>
<path d="M118.40,516.27L121.60,519.47M121.60,516.27L118.40,519.47" stroke="#A87B3C" stroke-width="0.8"/>
<path d="M124.53,512.66L127.72,515.86M127.72,512.66L124.53,515.86" stroke="#A87B3C" stroke-width="0.8"/>
<path d="M130.65,509.41L133.85,512.61M133.85,509.41L130.65,512.61" stroke="#A87B3C" stroke-width="0.8"/>
<path d="M136.78,506.47L139.97,509.67M139.97,506.47L136.78,509.67" stroke="#A87B3C" stroke-width="0.8"/>
<path d="M142.90,503.79L146.10,506.99M146.10,503.79L142.90,506.99" stroke="#A87B3C" stroke-width="0.8"/>
<path d="M149.03,501.34L152.22,504.54M152.22,501.34L149.03,504.54" stroke="#A87B3C" stroke-width="0.8"/>
<path d="M155.15,499.10L158.35,502.30M158.35,499.10L155.15,502.30" stroke="#A87B3C" stroke-width="0.8"/>
<path d="M161.28,497.04L164.47,500.24M164.47,497.04L161.28,500.24" stroke="#A87B3C" stroke-width="0.8"/>
<path d="M167.40,495.13L170.60,498.33M170.60,495.13L167.40,498.33" stroke="#A87B3C" stroke-width="0.8"/>
<path d="M173.53,493.37L176.72,496.57M176.72,493.37L173.53,496.57" stroke="#A87B3C" stroke-width="0.8"/>
<path d="M179.65,491.73L182.85,494.93M182.85,491.73L179.65,494.93" stroke="#A87B3C" stroke-width="0.8"/>
<path d="M185.78,490.20L188.97,493.40M188.97,490.20L185.78,493.40" stroke="#A87B3C" stroke-width="0.8"/>
<path d="M191.90,488.77L195.10,491.97M195.10,488.77L191.90,491.97" stroke="#A87B3C" stroke-width="0.8"/>
<path d="M198.03,487.44L201.22,490.64M201.22,487.44L198.03,490.64" stroke="#A87B3C" stroke-width="0.8"/>
<path d="M204.15,486.18L207.35,489.38M207.35,486.18L204.15,489.38" stroke="#A87B3C" stroke-width="0.8"/>
<path d="M210.28,485.01L213.47,488.21M213.47,485.01L210.28,488.21" stroke="#A87B3C" stroke-width="0.8"/>
<path d="M216.40,483.90L219.60,487.10M219.60,483.90L216.40,487.10" stroke="#A87B3C" stroke-width="0.8"/>
<path d="M222.53,482.85L225.72,486.05M225.72,482.85L222.53,486.05" stroke="#A87B3C" stroke-width="0.8"/>
<path d="M228.65,481.86L231.85,485.06M231.85,481.86L228.65,485.06" stroke="#A87B3C" stroke-width="0.8"/>
<path d="M234.78,480.93L237.97,484.13M237.97,480.93L234.78,484.13" stroke="#A87B3C" stroke-width="0.8"/>
<path d="M240.90,480.04L244.10,483.24M244.10,480.04L240.90,483.24" stroke="#A87B3C" stroke-width="0.8"/>
<path d="M247.03,479.20L250.22,482.40M250.22,479.20L247.03,482.40" stroke="#A87B3C" stroke-width="0.8"/>
<path d="M253.15,478.40L256.35,481.60M256.35,478.40L253.15,481.60" stroke="#A87B3C" stroke-width="0.8"/>
<path d="M259.27,477.64L262.48,480.84M262.48,477.64L259.27,480.84" stroke="#A87B3C" stroke-width="0.8"/>
<path d="M265.40,476.91L268.60,480.11M268.60,476.91L265.40,480.11" stroke="#A87B3C" stroke-width="0.8"/>
<path d="M271.52,476.22L274.73,479.42M274.73,476.22L271.52,479.42" stroke="#A87B3C" stroke-width="0.8"/>
<path d="M277.65,475.56L280.85,478.76M280.85,475.56L277.65,478.76" stroke="#A87B3C" stroke-width="0.8"/>
<path d="M283.77,474.93L286.98,478.13M286.98,474.93L283.77,478.13" stroke="#A87B3C" stroke-width="0.8"/>
<path d="M289.90,474.33L293.10,477.53M293.10,474.33L289.90,477.53" stroke="#A87B3C" stroke-width="0.8"/>
<path d="M296.02,473.75L299.23,476.95M299.23,473.75L296.02,476.95" stroke="#A87B3C" stroke-width="0.8"/>
<path d="M302.15,473.19L305.35,476.39M305.35,473.19L302.15,476.39" stroke="#A87B3C" stroke-width="0.8"/>
<path d="M308.27,472.66L311.48,475.86M311.48,472.66L308.27,475.86" stroke="#A87B3C" stroke-width="0.8"/>
<path d="M314.40,472.15L317.60,475.35M317.60,472.15L314.40,475.35" stroke="#A87B3C" stroke-width="0.8"/>
<path d="M320.52,471.65L323.73,474.85M323.73,471.65L320.52,474.85" stroke="#A87B3C" stroke-width="0.8"/>
<path d="M326.65,471.18L329.85,474.38M329.85,471.18L326.65,474.38" stroke="#A87B3C" stroke-width="0.8"/>
<path d="M332.77,470.73L335.98,473.93M335.98,470.73L332.77,473.93" stroke="#A87B3C" stroke-width="0.8"/>
<path d="M338.90,470.29L342.10,473.49M342.10,470.29L338.90,473.49" stroke="#A87B3C" stroke-width="0.8"/>
<path d="M345.02,469.86L348.23,473.06M348.23,469.86L345.02,473.06" stroke="#A87B3C" stroke-width="0.8"/>
<path d="M351.15,469.46L354.35,472.66M354.35,469.46L351.15,472.66" stroke="#A87B3C" stroke-width="0.8"/>
<path d="M357.27,469.06L360.48,472.26M360.48,469.06L357.27,472.26" stroke="#A87B3C" stroke-width="0.8"/>
<path d="M363.40,468.68L366.60,471.88M366.60,468.68L363.40,471.88" stroke="#A87B3C" stroke-width="0.8"/>
<path d="M369.52,468.31L372.73,471.51M372.73,468.31L369.52,471.51" stroke="#A87B3C" stroke-width="0.8"/>
<path d="M375.65,467.96L378.85,471.16M378.85,467.96L375.65,471.16" stroke="#A87B3C" stroke-width="0.8"/>
<path d="M381.77,467.61L384.98,470.81M384.98,467.61L381.77,470.81" stroke="#A87B3C" stroke-width="0.8"/>
<path d="M387.90,467.28L391.10,470.48M391.10,467.28L387.90,470.48" stroke="#A87B3C" stroke-width="0.8"/>
<path d="M394.02,466.96L397.23,470.16M397.23,466.96L394.02,470.16" stroke="#A87B3C" stroke-width="0.8"/>
<path d="M400.15,466.64L403.35,469.84M403.35,466.64L400.15,469.84" stroke="#A87B3C" stroke-width="0.8"/>
<path d="M406.27,466.34L409.48,469.54M409.48,466.34L406.27,469.54" stroke="#A87B3C" stroke-width="0.8"/>
<path d="M412.40,466.04L415.60,469.24M415.60,466.04L412.40,469.24" stroke="#A87B3C" stroke-width="0.8"/>
<path d="M418.52,465.76L421.73,468.96M421.73,465.76L418.52,468.96" stroke="#A87B3C" stroke-width="0.8"/>
<path d="M424.65,465.48L427.85,468.68M427.85,465.48L424.65,468.68" stroke="#A87B3C" stroke-width="0.8"/>
<path d="M430.77,465.21L433.98,468.41M433.98,465.21L430.77,468.41" stroke="#A87B3C" stroke-width="0.8"/>
<path d="M436.90,464.95L440.10,468.15M440.10,464.95L436.90,468.15" stroke="#A87B3C" stroke-width="0.8"/>
<polyline points="46.50,-87.91 48.47,-36.78 50.44,8.53 52.41,48.85 54.38,84.86 56.35,117.14 58.32,146.16 60.29,172.34 62.26,196.02 64.23,217.50 66.20,237.02 68.17,254.81 70.14,271.06 72.11,285.93 74.08,299.57 76.05,312.11 78.02,323.65 79.99,334.30 81.96,344.15 83.93,353.26 85.90,361.72 87.87,369.57 89.84,376.89 91.81,383.71 93.78,390.09 95.75,396.05 97.72,401.65 99.69,406.91 101.66,411.85 103.63,416.52 105.60,420.93 107.57,425.10 109.54,429.06 111.51,432.83 113.47,436.41 115.44,439.83 117.41,443.10 119.38,446.23 121.35,449.24 123.32,452.13 125.29,454.92 127.26,457.62 129.23,460.22 131.20,462.75 133.17,465.20 135.14,467.58 137.11,469.90 139.08,472.16 141.05,474.36 143.02,476.52 144.99,478.63 146.96,480.70 148.93,482.73 150.90,484.73 152.87,486.70 154.84,488.63 156.81,490.54 158.78,492.43 160.75,494.30 162.72,496.14 164.69,497.97 166.66,499.79 168.63,501.59 170.60,503.37 172.57,505.14 174.54,506.89 176.51,508.63 178.48,510.35 180.45,512.05 182.42,513.74 184.39,515.41 186.36,517.06 188.33,518.70 190.30,520.32 192.27,521.92 194.24,523.50 196.21,525.07 198.18,526.62 200.15,528.15 202.12,529.66 204.09,531.16 206.06,532.64 208.03,534.10 210.00,535.54 211.97,536.97 213.94,538.37 215.91,539.77 217.88,541.14 219.85,542.49 221.82,543.83 223.79,545.15 225.76,546.46 227.73,547.74 229.70,549.01 231.67,550.27 233.64,551.50 235.61,552.72 237.58,553.92 239.55,555.11 241.52,556.28 243.48,557.43 245.45,558.57 247.42,559.70 249.39,560.81 251.36,561.90 253.33,562.98 255.30,564.05 257.27,565.10 259.24,566.14 261.21,567.17 263.18,568.18 265.15,569.18 267.12,570.17 269.09,571.14 271.06,572.11 273.03,573.06 275.00,574.00 276.97,574.92 278.94,575.84 280.91,576.75 282.88,577.64 284.85,578.52 286.82,579.39 288.79,580.25 290.76,581.11 292.73,581.95 294.70,582.78 296.67,583.60 298.64,584.41 300.61,585.21 302.58,586.00 304.55,586.78 306.52,587.55 308.49,588.32 310.46,589.07 312.43,589.82 314.40,590.56 316.37,591.29 318.34,592.01 320.31,592.72 322.28,593.42 324.25,594.12 326.22,594.80 328.19,595.48 330.16,596.15 332.13,596.82 334.10,597.48 336.07,598.12 338.04,598.77 340.01,599.40 341.98,600.03 343.95,600.65 345.92,601.26 347.89,601.87 349.86,602.47 351.83,603.06 353.80,603.64 355.77,604.22 357.74,604.80 359.71,605.36 361.68,605.92 363.65,606.48 365.62,607.02 367.59,607.57 369.56,608.10 371.53,608.63 373.49,609.15 375.46,609.67 377.43,610.18 379.40,610.69 381.37,611.19 383.34,611.69 385.31,612.18 387.28,612.66 389.25,613.14 391.22,613.61 393.19,614.08 395.16,614.55 397.13,615.00 399.10,615.46 401.07,615.91 403.04,616.35 405.01,616.79 406.98,617.22 408.95,617.65 410.92,618.07 412.89,618.49 414.86,618.91 416.83,619.32 418.80,619.73 420.77,620.13 422.74,620.52 424.71,620.92 426.68,621.30 428.65,621.69 430.62,622.07 432.59,622.44 434.56,622.82 436.53,623.18 438.50,623.55" fill="none" stroke="#28B444" stroke-width="1.25"/>
<path d="M100.50,410.66L102.75,412.90M102.75,410.66L100.50,412.90" stroke="#28B444" stroke-width="0.8"/>
<path d="M106.63,424.36L108.87,426.60M108.87,424.36L106.63,426.60" stroke="#28B444" stroke-width="0.8"/>
<path d="M112.75,436.00L115.00,438.24M115.00,436.00L112.75,438.24" stroke="#28B444" stroke-width="0.8"/>
<path d="M118.88,446.06L121.12,448.30M121.12,446.06L118.88,448.30" stroke="#28B444" stroke-width="0.8"/>
<path d="M125.00,454.95L127.25,457.19M127.25,454.95L125.00,457.19" stroke="#28B444" stroke-width="0.8"/>
<path d="M131.13,462.94L133.37,465.18M133.37,462.94L131.13,465.18" stroke="#28B444" stroke-width="0.8"/>
<path d="M137.25,470.23L139.50,472.47M139.50,470.23L137.25,472.47" stroke="#28B444" stroke-width="0.8"/>
<path d="M143.38,476.99L145.62,479.23M145.62,476.99L143.38,479.23" stroke="#28B444" stroke-width="0.8"/>
<path d="M149.50,483.33L151.75,485.57M151.75,483.33L149.50,485.57" stroke="#28B444" stroke-width="0.8"/>
<path d="M155.63,489.36L157.87,491.60M157.87,489.36L155.63,491.60" stroke="#28B444" stroke-width="0.8"/>
<path d="M161.75,495.17L164.00,497.41M164.00,495.17L161.75,497.41" stroke="#28B444" stroke-width="0.8"/>
<path d="M167.88,500.80L170.12,503.04M170.12,500.80L167.88,503.04" stroke="#28B444" stroke-width="0.8"/>
<path d="M174.00,506.29L176.25,508.53M176.25,506.29L174.00,508.53" stroke="#28B444" stroke-width="0.8"/>
<path d="M180.13,511.62L182.37,513.86M182.37,511.62L180.13,513.86" stroke="#28B444" stroke-width="0.8"/>
<path d="M186.25,516.79L188.50,519.03M188.50,516.79L186.25,519.03" stroke="#28B444" stroke-width="0.8"/>
<path d="M192.38,521.79L194.62,524.03M194.62,521.79L192.38,524.03" stroke="#28B444" stroke-width="0.8"/>
<path d="M198.50,526.63L200.75,528.87M200.75,526.63L198.50,528.87" stroke="#28B444" stroke-width="0.8"/>
<path d="M204.63,531.29L206.87,533.53M206.87,531.29L204.63,533.53" stroke="#28B444" stroke-width="0.8"/>
<path d="M210.75,535.78L213.00,538.02M213.00,535.78L210.75,538.02" stroke="#28B444" stroke-width="0.8"/>
<path d="M216.88,540.10L219.12,542.34M219.12,540.10L216.88,542.34" stroke="#28B444" stroke-width="0.8"/>
<path d="M223.00,544.26L225.25,546.50M225.25,544.26L223.00,546.50" stroke="#28B444" stroke-width="0.8"/>
<path d="M229.13,548.25L231.37,550.49M231.37,548.25L229.13,550.49" stroke="#28B444" stroke-width="0.8"/>
<path d="M235.25,552.07L237.50,554.31M237.50,552.07L235.25,554.31" stroke="#28B444" stroke-width="0.8"/>
<path d="M241.38,555.74L243.62,557.98M243.62,555.74L241.38,557.98" stroke="#28B444" stroke-width="0.8"/>
<path d="M247.50,559.26L249.75,561.50M249.75,559.26L247.50,561.50" stroke="#28B444" stroke-width="0.8"/>
<path d="M253.63,562.63L255.87,564.87M255.87,562.63L253.63,564.87" stroke="#28B444" stroke-width="0.8"/>
<path d="M259.75,565.87L262.00,568.11M262.00,565.87L259.75,568.11" stroke="#28B444" stroke-width="0.8"/>
<path d="M265.88,568.99L268.12,571.23M268.12,568.99L265.88,571.23" stroke="#28B444" stroke-width="0.8"/>
<path d="M272.00,571.98L274.25,574.22M274.25,571.98L272.00,574.22" stroke="#28B444" stroke-width="0.8"/>
<path d="M278.13,574.86L280.37,577.10M280.37,574.86L278.13,577.10" stroke="#28B444" stroke-width="0.8"/>
<path d="M284.25,577.63L286.50,579.87M286.50,577.63L284.25,579.87" stroke="#28B444" stroke-width="0.8"/>
<path d="M290.38,580.30L292.62,582.54M292.62,580.30L290.38,582.54" stroke="#28B444" stroke-width="0.8"/>
<path d="M296.50,582.87L298.75,585.11M298.75,582.87L296.50,585.11" stroke="#28B444" stroke-width="0.8"/>
<path d="M302.63,585.35L304.87,587.59M304.87,585.35L302.63,587.59" stroke="#28B444" stroke-width="0.8"/>
<path d="M308.75,587.73L311.00,589.97M311.00,587.73L308.75,589.97" stroke="#28B444" stroke-width="0.8"/>
<path d="M314.88,590.03L317.12,592.27M317.12,590.03L314.88,592.27" stroke="#28B444" stroke-width="0.8"/>
<path d="M321.00,592.25L323.25,594.49M323.25,592.25L321.00,594.49" stroke="#28B444" stroke-width="0.8"/>
<path d="M327.13,594.38L329.37,596.62M329.37,594.38L327.13,596.62" stroke="#28B444" stroke-width="0.8"/>
<path d="M333.25,596.45L335.50,598.69M335.50,596.45L333.25,598.69" stroke="#28B444" stroke-width="0.8"/>
<path d="M339.38,598.44L341.62,600.68M341.62,598.44L339.38,600.68" stroke="#28B444" stroke-width="0.8"/>
<path d="M345.50,600.36L347.75,602.60M347.75,600.36L345.50,602.60" stroke="#28B444" stroke-width="0.8"/>
<path d="M351.63,602.21L353.87,604.45M353.87,602.21L351.63,604.45" stroke="#28B444" stroke-width="0.8"/>
<path d="M357.75,604.00L360.00,606.24M360.00,604.00L357.75,606.24" stroke="#28B444" stroke-width="0.8"/>
<path d="M363.88,605.73L366.12,607.97M366.12,605.73L363.88,607.97" stroke="#28B444" stroke-width="0.8"/>
<path d="M370.00,607.40L372.25,609.64M372.25,607.40L370.00,609.64" stroke="#28B444" stroke-width="0.8"/>
<path d="M376.13,609.02L378.37,611.26M378.37,609.02L376.13,611.26" stroke="#28B444" stroke-width="0.8"/>
<path d="M382.25,610.57L384.50,612.81M384.50,610.57L382.25,612.81" stroke="#28B444" stroke-width="0.8"/>
<path d="M388.38,612.08L390.62,614.32M390.62,612.08L388.38,614.32" stroke="#28B444" stroke-width="0.8"/>
<path d="M394.50,613.53L396.75,615.77M396.75,613.53L394.50,615.77" stroke="#28B444" stroke-width="0.8"/>
<path d="M400.63,614.94L402.87,617.18M402.87,614.94L400.63,617.18" stroke="#28B444" stroke-width="0.8"/>
<path d="M406.75,616.30L409.00,618.54M409.00,616.30L406.75,618.54" stroke="#28B444" stroke-width="0.8"/>
<path d="M412.88,617.61L415.12,619.85M415.12,617.61L412.88,619.85" stroke="#28B444" stroke-width="0.8"/>
<path d="M419.00,618.88L421.25,621.12M421.25,618.88L419.00,621.12" stroke="#28B444" stroke-width="0.8"/>
<path d="M425.13,620.10L427.37,622.34M427.37,620.10L425.13,622.34" stroke="#28B444" stroke-width="0.8"/>
<path d="M431.25,621.28L433.50,623.52M433.50,621.28L431.25,623.52" stroke="#28B444" stroke-width="0.8"/>
<path d="M437.38,622.43L439.62,624.67M439.62,622.43L437.38,624.67" stroke="#28B444" stroke-width="0.8"/>
<polyline points="46.50,565.51 48.47,559.88 50.44,554.80 52.41,550.20 54.38,546.01 56.35,542.17 58.32,538.66 60.29,535.42 62.26,532.42 64.23,529.65 66.20,527.07 68.17,524.67 70.14,522.43 72.11,520.34 74.08,518.37 76.05,516.52 78.02,514.78 79.99,513.15 81.96,511.60 83.93,510.13 85.90,508.75 87.87,507.43 89.84,506.18 91.81,505.00 93.78,503.87 95.75,502.79 97.72,501.76 99.69,500.78 101.66,499.84 103.63,498.94 105.60,498.08 107.57,497.26 109.54,496.47 111.51,495.71 113.47,494.98 115.44,494.28 117.41,493.61 119.38,492.96 121.35,492.33 123.32,491.73 125.29,491.14 127.26,490.58 129.23,490.04 131.20,489.51 133.17,489.01 135.14,488.52 137.11,488.04 139.08,487.58 141.05,487.13 143.02,486.70 144.99,486.28 146.96,485.88 148.93,485.48 150.90,485.10 152.87,484.73 154.84,484.37 156.81,484.02 158.78,483.67 160.75,483.34 162.72,483.02 164.69,482.71 166.66,482.40 168.63,482.10 170.60,481.81 172.57,481.53 174.54,481.25 176.51,480.98 178.48,480.72 180.45,480.46 182.42,480.21 184.39,479.97 186.36,479.73 188.33,479.50 190.30,479.27 192.27,479.05 194.24,478.83 196.21,478.62 198.18,478.41 200.15,478.21 202.12,478.01 204.09,477.81 206.06,477.62 208.03,477.44 210.00,477.26 211.97,477.08 213.94,476.90 215.91,476.73 217.88,476.56 219.85,476.40 221.82,476.24 223.79,476.08 225.76,475.92 227.73,475.77 229.70,475.62 231.67,475.48 233.64,475.33 235.61,475.19 237.58,475.05 239.55,474.92 241.52,474.79 243.48,474.66 245.45,474.53 247.42,474.40 249.39,474.28 251.36,474.16 253.33,474.04 255.30,473.92 257.27,473.80 259.24,473.69 261.21,473.58 263.18,473.47 265.15,473.36 267.12,473.26 269.09,473.15 271.06,473.05 273.03,472.95 275.00,472.85 276.97,472.75 278.94,472.65 280.91,472.56 282.88,472.47 284.85,472.38 286.82,472.29 288.79,472.20 290.76,472.11 292.73,472.02 294.70,471.94 296.67,471.85 298.64,471.77 300.61,471.69 302.58,471.61 304.55,471.53 306.52,471.46 308.49,471.38 310.46,471.30 312.43,471.23 314.40,471.16 316.37,471.08 318.34,471.01 320.31,470.94 322.28,470.87 324.25,470.81 326.22,470.74 328.19,470.67 330.16,470.61 332.13,470.54 334.10,470.48 336.07,470.42 338.04,470.36 340.01,470.29 341.98,470.23 343.95,470.17 345.92,470.12 347.89,470.06 349.86,470.00 351.83,469.94 353.80,469.89 355.77,469.83 357.74,469.78 359.71,469.73 361.68,469.67 363.65,469.62 365.62,469.57 367.59,469.52 369.56,469.47 371.53,469.42 373.49,469.37 375.46,469.32 377.43,469.27 379.40,469.23 381.37,469.18 383.34,469.13 385.31,469.09 387.28,469.04 389.25,469.00 391.22,468.95 393.19,468.91 395.16,468.87 397.13,468.82 399.10,468.78 401.07,468.74 403.04,468.70 405.01,468.66 406.98,468.62 408.95,468.58 410.92,468.54 412.89,468.50 414.86,468.46 416.83,468.42 418.80,468.39 420.77,468.35 422.74,468.31 424.71,468.28 426.68,468.24 428.65,468.21 430.62,468.17 432.59,468.14 434.56,468.10 436.53,468.07 438.50,468.03" fill="none" stroke="#CC3366" stroke-width="1.25"/>
<path d="M44.50,565.51H48.50" stroke="#CC3366" stroke-width="0.8"/>
<path d="M50.62,549.72H54.62" stroke="#CC3366" stroke-width="0.8"/>
<path d="M56.75,537.92H60.75" stroke="#CC3366" stroke-width="0.8"/>
<path d="M62.88,528.78H66.88" stroke="#CC3366" stroke-width="0.8"/>
<path d="M69.00,521.50H73.00" stroke="#CC3366" stroke-width="0.8"/>
<path d="M75.12,515.56H79.12" stroke="#CC3366" stroke-width="0.8"/>
<path d="M81.25,510.63H85.25" stroke="#CC3366" stroke-width="0.8"/>
<path d="M87.38,506.47H91.38" stroke="#CC3366" stroke-width="0.8"/>
<path d="M93.50,502.92H97.50" stroke="#CC3366" stroke-width="0.8"/>
<path d="M99.62,499.86H103.62" stroke="#CC3366" stroke-width="0.8"/>
<path d="M105.75,497.19H109.75" stroke="#CC3366" stroke-width="0.8"/>
<path d="M111.88,494.84H115.88" stroke="#CC3366" stroke-width="0.8"/>
<path d="M118.00,492.76H122.00" stroke="#CC3366" stroke-width="0.8"/>
<path d="M124.12,490.90H128.12" stroke="#CC3366" stroke-width="0.8"/>
<path d="M130.25,489.24H134.25" stroke="#CC3366" stroke-width="0.8"/>
<path d="M136.38,487.74H140.38" stroke="#CC3366" stroke-width="0.8"/>
<path d="M142.50,486.39H146.50" stroke="#CC3366" stroke-width="0.8"/>
<path d="M148.62,485.15H152.62" stroke="#CC3366" stroke-width="0.8"/>
<path d="M154.75,484.03H158.75" stroke="#CC3366" stroke-width="0.8"/>
<path d="M160.88,482.99H164.88" stroke="#CC3366" stroke-width="0.8"/>
<path d="M167.00,482.05H171.00" stroke="#CC3366" stroke-width="0.8"/>
<path d="M173.12,481.17H177.12" stroke="#CC3366" stroke-width="0.8"/>
<path d="M179.25,480.36H183.25" stroke="#CC3366" stroke-width="0.8"/>
<path d="M185.38,479.61H189.38" stroke="#CC3366" stroke-width="0.8"/>
<path d="M191.50,478.91H195.50" stroke="#CC3366" stroke-width="0.8"/>
<path d="M197.62,478.26H201.62" stroke="#CC3366" stroke-width="0.8"/>
<path d="M203.75,477.65H207.75" stroke="#CC3366" stroke-width="0.8"/>
<path d="M209.88,477.09H213.88" stroke="#CC3366" stroke-width="0.8"/>
<path d="M216.00,476.55H220.00" stroke="#CC3366" stroke-width="0.8"/>
<path d="M222.12,476.05H226.12" stroke="#CC3366" stroke-width="0.8"/>
<path d="M228.25,475.58H232.25" stroke="#CC3366" stroke-width="0.8"/>
<path d="M234.38,475.14H238.38" stroke="#CC3366" stroke-width="0.8"/>
<path d="M240.50,474.72H244.50" stroke="#CC3366" stroke-width="0.8"/>
<path d="M246.62,474.33H250.62" stroke="#CC3366" stroke-width="0.8"/>
<path d="M252.75,473.95H256.75" stroke="#CC3366" stroke-width="0.8"/>
<path d="M258.88,473.60H262.88" stroke="#CC3366" stroke-width="0.8"/>
<path d="M265.00,473.26H269.00" stroke="#CC3366" stroke-width="0.8"/>
<path d="M271.12,472.94H275.12" stroke="#CC3366" stroke-width="0.8"/>
<path d="M277.25,472.64H281.25" stroke="#CC3366" stroke-width="0.8"/>
<path d="M283.38,472.35H287.38" stroke="#CC3366" stroke-width="0.8"/>
<path d="M289.50,472.08H293.50" stroke="#CC3366" stroke-width="0.8"/>
<path d="M295.62,471.81H299.62" stroke="#CC3366" stroke-width="0.8"/>
<path d="M301.75,471.57H305.75" stroke="#CC3366" stroke-width="0.8"/>
<path d="M307.88,471.33H311.88" stroke="#CC3366" stroke-width="0.8"/>
<path d="M314.00,471.10H318.00" stroke="#CC3366" stroke-width="0.8"/>
<path d="M320.12,470.88H324.12" stroke="#CC3366" stroke-width="0.8"/>
<path d="M326.25,470.67H330.25" stroke="#CC3366" stroke-width="0.8"/>
<path d="M332.38,470.47H336.38" stroke="#CC3366" stroke-width="0.8"/>
<path d="M338.50,470.28H342.50" stroke="#CC3366" stroke-width="0.8"/>
<path d="M344.62,470.09H348.62" stroke="#CC3366" stroke-width="0.8"/>
<path d="M350.75,469.92H354.75" stroke="#CC3366" stroke-width="0.8"/>
<path d="M356.88,469.75H360.88" stroke="#CC3366" stroke-width="0.8"/>
<path d="M363.00,469.59H367.00" stroke="#CC3366" stroke-width="0.8"/>
<path d="M369.12,469.43H373.12" stroke="#CC3366" stroke-width="0.8"/>
<path d="M375.25,469.28H379.25" stroke="#CC3366" stroke-width="0.8"/>
<path d="M381.38,469.13H385.38" stroke="#CC3366" stroke-width="0.8"/>
<path d="M387.50,468.99H391.50" stroke="#CC3366" stroke-width="0.8"/>
<path d="M393.62,468.86H397.62" stroke="#CC3366" stroke-width="0.8"/>
<path d="M399.75,468.73H403.75" stroke="#CC3366" stroke-width="0.8"/>
<path d="M405.88,468.60H409.88" stroke="#CC3366" stroke-width="0.8"/>
<path d="M412.00,468.48H416.00" stroke="#CC3366" stroke-width="0.8"/>
<path d="M418.12,468.36H422.12" stroke="#CC3366" stroke-width="0.8"/>
<path d="M424.25,468.25H428.25" stroke="#CC3366" stroke-width="0.8"/>
<path d="M430.38,468.14H434.38" stroke="#CC3366" stroke-width="0.8"/>
<path d="M436.50,468.03H440.50" stroke="#CC3366" stroke-width="0.8"/>
<polyline points="46.50,776.59 48.47,758.54 50.44,742.30 52.41,727.62 54.38,714.29 56.35,702.13 58.32,691.00 60.29,680.78 62.26,671.36 64.23,662.66 66.20,654.59 68.17,647.10 70.14,640.13 72.11,633.62 74.08,627.53 76.05,621.83 78.02,616.48 79.99,611.45 81.96,606.71 83.93,602.25 85.90,598.03 87.87,594.04 89.84,590.26 91.81,586.68 93.78,583.28 95.75,580.05 97.72,576.98 99.69,574.05 101.66,571.26 103.63,568.60 105.60,566.06 107.57,563.64 109.54,561.31 111.51,559.09 113.47,556.96 115.44,554.92 117.41,552.97 119.38,551.09 121.35,549.28 123.32,547.55 125.29,545.88 127.26,544.28 129.23,542.73 131.20,541.25 133.17,539.81 135.14,538.43 137.11,537.10 139.08,535.81 141.05,534.57 143.02,533.37 144.99,532.21 146.96,531.09 148.93,530.00 150.90,528.95 152.87,527.94 154.84,526.95 156.81,526.00 158.78,525.08 160.75,524.18 162.72,523.32 164.69,522.48 166.66,521.66 168.63,520.87 170.60,520.10 172.57,519.35 174.54,518.63 176.51,517.92 178.48,517.24 180.45,516.58 182.42,515.93 184.39,515.30 186.36,514.69 188.33,514.09 190.30,513.51 192.27,512.95 194.24,512.40 196.21,511.87 198.18,511.35 200.15,510.84 202.12,510.35 204.09,509.87 206.06,509.40 208.03,508.94 210.00,508.49 211.97,508.06 213.94,507.64 215.91,507.22 217.88,506.82 219.85,506.43 221.82,506.04 223.79,505.67 225.76,505.30 227.73,504.94 229.70,504.60 231.67,504.25 233.64,503.92 235.61,503.60 237.58,503.28 239.55,502.97 241.52,502.67 243.48,502.37 245.45,502.08 247.42,501.80 249.39,501.52 251.36,501.25 253.33,500.99 255.30,500.73 257.27,500.48 259.24,500.23 261.21,499.99 263.18,499.75 265.15,499.52 267.12,499.29 269.09,499.07 271.06,498.86 273.03,498.64 275.00,498.44 276.97,498.23 278.94,498.04 280.91,497.84 282.88,497.65 284.85,497.46 286.82,497.28 288.79,497.10 290.76,496.93 292.73,496.76 294.70,496.59 296.67,496.43 298.64,496.27 300.61,496.11 302.58,495.95 304.55,495.80 306.52,495.66 308.49,495.51 310.46,495.37 312.43,495.23 314.40,495.09 316.37,494.96 318.34,494.83 320.31,494.70 322.28,494.58 324.25,494.46 326.22,494.34 328.19,494.22 330.16,494.10 332.13,493.99 334.10,493.88 336.07,493.77 338.04,493.67 340.01,493.56 341.98,493.46 343.95,493.36 345.92,493.26 347.89,493.17 349.86,493.07 351.83,492.98 353.80,492.89 355.77,492.80 357.74,492.72 359.71,492.63 361.68,492.55 363.65,492.47 365.62,492.39 367.59,492.31 369.56,492.23 371.53,492.16 373.49,492.09 375.46,492.02 377.43,491.95 379.40,491.88 381.37,491.81 383.34,491.74 385.31,491.68 387.28,491.62 389.25,491.55 391.22,491.49 393.19,491.44 395.16,491.38 397.13,491.32 399.10,491.27 401.07,491.21 403.04,491.16 405.01,491.11 406.98,491.06 408.95,491.01 410.92,490.96 412.89,490.91 414.86,490.86 416.83,490.82 418.80,490.77 420.77,490.73 422.74,490.69 424.71,490.65 426.68,490.61 428.65,490.57 430.62,490.53 432.59,490.49 434.56,490.45 436.53,490.42 438.50,490.38" fill="none" stroke="#3CC0B4" stroke-width="1.25"/>































































<polyline points="46.50,627.29 48.47,619.78 50.44,613.00 52.41,606.85 54.38,601.25 56.35,596.13 58.32,591.43 60.29,587.10 62.26,583.10 64.23,579.39 66.20,575.94 68.17,572.73 70.14,569.73 72.11,566.92 74.08,564.29 76.05,561.82 78.02,559.49 79.99,557.29 81.96,555.22 83.93,553.26 85.90,551.40 87.87,549.63 89.84,547.96 91.81,546.37 93.78,544.85 95.75,543.40 97.72,542.02 99.69,540.70 101.66,539.44 103.63,538.24 105.60,537.08 107.57,535.97 109.54,534.91 111.51,533.89 113.47,532.91 115.44,531.96 117.41,531.06 119.38,530.18 121.35,529.34 123.32,528.52 125.29,527.74 127.26,526.98 129.23,526.25 131.20,525.54 133.17,524.86 135.14,524.19 137.11,523.55 139.08,522.93 141.05,522.33 143.02,521.75 144.99,521.18 146.96,520.63 148.93,520.10 150.90,519.58 152.87,519.08 154.84,518.59 156.81,518.12 158.78,517.65 160.75,517.20 162.72,516.77 164.69,516.34 166.66,515.93 168.63,515.52 170.60,515.13 172.57,514.74 174.54,514.37 176.51,514.00 178.48,513.65 180.45,513.30 182.42,512.96 184.39,512.63 186.36,512.30 188.33,511.99 190.30,511.68 192.27,511.38 194.24,511.08 196.21,510.79 198.18,510.51 200.15,510.23 202.12,509.96 204.09,509.70 206.06,509.44 208.03,509.19 210.00,508.94 211.97,508.69 213.94,508.46 215.91,508.22 217.88,507.99 219.85,507.77 221.82,507.55 223.79,507.33 225.76,507.12 227.73,506.91 229.70,506.71 231.67,506.51 233.64,506.31 235.61,506.12 237.58,505.93 239.55,505.75 241.52,505.56 243.48,505.39 245.45,505.21 247.42,505.04 249.39,504.87 251.36,504.70 253.33,504.54 255.30,504.38 257.27,504.22 259.24,504.06 261.21,503.91 263.18,503.76 265.15,503.61 267.12,503.46 269.09,503.32 271.06,503.18 273.03,503.04 275.00,502.90 276.97,502.77 278.94,502.64 280.91,502.51 282.88,502.38 284.85,502.25 286.82,502.13 288.79,502.01 290.76,501.89 292.73,501.77 294.70,501.65 296.67,501.54 298.64,501.42 300.61,501.31 302.58,501.20 304.55,501.09 306.52,500.98 308.49,500.88 310.46,500.77 312.43,500.67 314.40,500.57 316.37,500.47 318.34,500.37 320.31,500.27 322.28,500.18 324.25,500.08 326.22,499.99 328.19,499.90 330.16,499.81 332.13,499.72 334.10,499.63 336.07,499.54 338.04,499.46 340.01,499.37 341.98,499.29 343.95,499.21 345.92,499.12 347.89,499.04 349.86,498.96 351.83,498.89 353.80,498.81 355.77,498.73 357.74,498.66 359.71,498.58 361.68,498.51 363.65,498.43 365.62,498.36 367.59,498.29 369.56,498.22 371.53,498.15 373.49,498.08 375.46,498.02 377.43,497.95 379.40,497.88 381.37,497.82 383.34,497.75 385.31,497.69 387.28,497.62 389.25,497.56 391.22,497.50 393.19,497.44 395.16,497.38 397.13,497.32 399.10,497.26 401.07,497.20 403.04,497.14 405.01,497.09 406.98,497.03 408.95,496.98 410.92,496.92 412.89,496.87 414.86,496.81 416.83,496.76 418.80,496.71 420.77,496.65 422.74,496.60 424.71,496.55 426.68,496.50 428.65,496.45 430.62,496.40 432.59,496.35 434.56,496.30 436.53,496.25 438.50,496.21" fill="none" stroke="#333399" stroke-width="1.25"/>
<rect x="44.90" y="625.69" width="3.20" height="3.20" fill="#333399"/>
<rect x="51.02" y="604.62" width="3.20" height="3.20" fill="#333399"/>
<rect x="57.15" y="588.85" width="3.20" height="3.20" fill="#333399"/>
<rect x="63.27" y="576.63" width="3.20" height="3.20" fill="#333399"/>
<rect x="69.40" y="566.88" width="3.20" height="3.20" fill="#333399"/>
<rect x="75.53" y="558.93" width="3.20" height="3.20" fill="#333399"/>
<rect x="81.65" y="552.32" width="3.20" height="3.20" fill="#333399"/>
<rect x="87.78" y="546.74" width="3.20" height="3.20" fill="#333399"/>
<rect x="93.90" y="541.98" width="3.20" height="3.20" fill="#333399"/>
<rect x="100.03" y="537.86" width="3.20" height="3.20" fill="#333399"/>
<rect x="106.15" y="534.27" width="3.20" height="3.20" fill="#333399"/>
<rect x="112.28" y="531.11" width="3.20" height="3.20" fill="#333399"/>
<rect x="118.40" y="528.31" width="3.20" height="3.20" fill="#333399"/>
<rect x="124.53" y="525.82" width="3.20" height="3.20" fill="#333399"/>
<rect x="130.65" y="523.57" width="3.20" height="3.20" fill="#333399"/>
<rect x="136.78" y="521.55" width="3.20" height="3.20" fill="#333399"/>
<rect x="142.90" y="519.72" width="3.20" height="3.20" fill="#333399"/>
<rect x="149.03" y="518.05" width="3.20" height="3.20" fill="#333399"/>
<rect x="155.15" y="516.53" width="3.20" height="3.20" fill="#333399"/>
<rect x="161.28" y="515.13" width="3.20" height="3.20" fill="#333399"/>
<rect x="167.40" y="513.85" width="3.20" height="3.20" fill="#333399"/>
<rect x="173.53" y="512.66" width="3.20" height="3.20" fill="#333399"/>
<rect x="179.65" y="511.56" width="3.20" height="3.20" fill="#333399"/>
<rect x="185.78" y="510.54" width="3.20" height="3.20" fill="#333399"/>
<rect x="191.90" y="509.59" width="3.20" height="3.20" fill="#333399"/>
<rect x="198.03" y="508.71" width="3.20" height="3.20" fill="#333399"/>
<rect x="204.15" y="507.88" width="3.20" height="3.20" fill="#333399"/>
<rect x="210.28" y="507.11" width="3.20" height="3.20" fill="#333399"/>
<rect x="216.40" y="506.38" width="3.20" height="3.20" fill="#333399"/>
<rect x="222.53" y="505.70" width="3.20" height="3.20" fill="#333399"/>
<rect x="228.65" y="505.05" width="3.20" height="3.20" fill="#333399"/>
<rect x="234.78" y="504.45" width="3.20" height="3.20" fill="#333399"/>
<rect x="240.90" y="503.87" width="3.20" height="3.20" fill="#333399"/>
<rect x="247.03" y="503.33" width="3.20" height="3.20" fill="#333399"/>
<rect x="253.15" y="502.82" width="3.20" height="3.20" fill="#333399"/>
<rect x="259.27" y="502.33" width="3.20" height="3.20" fill="#333399"/>
<rect x="265.40" y="501.87" width="3.20" height="3.20" fill="#333399"/>
<rect x="271.52" y="501.43" width="3.20" height="3.20" fill="#333399"/>
<rect x="277.65" y="501.02" width="3.20" height="3.20" fill="#333399"/>
<rect x="283.77" y="500.62" width="3.20" height="3.20" fill="#333399"/>
<rect x="289.90" y="500.24" width="3.20" height="3.20" fill="#333399"/>
<rect x="296.02" y="499.88" width="3.20" height="3.20" fill="#333399"/>
<rect x="302.15" y="499.53" width="3.20" height="3.20" fill="#333399"/>
<rect x="308.27" y="499.20" width="3.20" height="3.20" fill="#333399"/>
<rect x="314.40" y="498.89" width="3.20" height="3.20" fill="#333399"/>
<rect x="320.52" y="498.59" width="3.20" height="3.20" fill="#333399"/>
<rect x="326.65" y="498.30" width="3.20" height="3.20" fill="#333399"/>
<rect x="332.77" y="498.02" width="3.20" height="3.20" fill="#333399"/>
<rect x="338.90" y="497.75" width="3.20" height="3.20" fill="#333399"/>
<rect x="345.02" y="497.50" width="3.20" height="3.20" fill="#333399"/>
<rect x="351.15" y="497.25" width="3.20" height="3.20" fill="#333399"/>
<rect x="357.27" y="497.01" width="3.20" height="3.20" fill="#333399"/>
<rect x="363.40" y="496.79" width="3.20" height="3.20" fill="#333399"/>
<rect x="369.52" y="496.57" width="3.20" height="3.20" fill="#333399"/>
<rect x="375.65" y="496.35" width="3.20" height="3.20" fill="#333399"/>
<rect x="381.77" y="496.15" width="3.20" height="3.20" fill="#333399"/>
<rect x="387.90" y="495.95" width="3.20" height="3.20" fill="#333399"/>
<rect x="394.02" y="495.77" width="3.20" height="3.20" fill="#333399"/>
<rect x="400.15" y="495.58" width="3.20" height="3.20" fill="#333399"/>
<rect x="406.27" y="495.41" width="3.20" height="3.20" fill="#333399"/>
<rect x="412.40" y="495.23" width="3.20" height="3.20" fill="#333399"/>
<rect x="418.52" y="495.07" width="3.20" height="3.20" fill="#333399"/>
<rect x="424.65" y="494.91" width="3.20" height="3.20" fill="#333399"/>
<rect x="430.77" y="494.76" width="3.20" height="3.20" fill="#333399"/>
<rect x="436.90" y="494.61" width="3.20" height="3.20" fill="#333399"/>
<polyline points="46.50,748.39 48.47,732.50 50.44,718.16 52.41,705.17 54.38,693.33 56.35,682.51 58.32,672.58 60.29,663.44 62.26,655.00 64.23,647.17 66.20,639.90 68.17,633.13 70.14,626.81 72.11,620.89 74.08,615.35 76.05,610.14 78.02,605.24 79.99,600.62 81.96,596.26 83.93,592.13 85.90,588.22 87.87,584.52 89.84,581.00 91.81,577.66 93.78,574.47 95.75,571.44 97.72,568.54 99.69,565.78 101.66,563.14 103.63,560.61 105.60,558.19 107.57,555.87 109.54,553.64 111.51,551.51 113.47,549.45 115.44,547.48 117.41,545.58 119.38,543.75 121.35,541.99 123.32,540.29 125.29,538.66 127.26,537.08 129.23,535.55 131.20,534.07 133.17,532.65 135.14,531.27 137.11,529.93 139.08,528.64 141.05,527.39 143.02,526.18 144.99,525.00 146.96,523.86 148.93,522.75 150.90,521.68 152.87,520.63 154.84,519.62 156.81,518.63 158.78,517.67 160.75,516.74 162.72,515.83 164.69,514.95 166.66,514.09 168.63,513.26 170.60,512.44 172.57,511.65 174.54,510.87 176.51,510.12 178.48,509.38 180.45,508.66 182.42,507.96 184.39,507.28 186.36,506.61 188.33,505.96 190.30,505.32 192.27,504.70 194.24,504.09 196.21,503.50 198.18,502.91 200.15,502.35 202.12,501.79 204.09,501.25 206.06,500.71 208.03,500.19 210.00,499.68 211.97,499.18 213.94,498.69 215.91,498.21 217.88,497.74 219.85,497.28 221.82,496.83 223.79,496.39 225.76,495.96 227.73,495.53 229.70,495.12 231.67,494.71 233.64,494.31 235.61,493.92 237.58,493.53 239.55,493.15 241.52,492.78 243.48,492.41 245.45,492.06 247.42,491.70 249.39,491.36 251.36,491.02 253.33,490.69 255.30,490.36 257.27,490.04 259.24,489.72 261.21,489.41 263.18,489.10 265.15,488.80 267.12,488.51 269.09,488.22 271.06,487.93 273.03,487.65 275.00,487.37 276.97,487.10 278.94,486.84 280.91,486.57 282.88,486.31 284.85,486.06 286.82,485.81 288.79,485.56 290.76,485.32 292.73,485.08 294.70,484.84 296.67,484.61 298.64,484.38 300.61,484.16 302.58,483.93 304.55,483.71 306.52,483.50 308.49,483.29 310.46,483.08 312.43,482.87 314.40,482.67 316.37,482.47 318.34,482.27 320.31,482.08 322.28,481.89 324.25,481.70 326.22,481.51 328.19,481.33 330.16,481.14 332.13,480.97 334.10,480.79 336.07,480.62 338.04,480.44 340.01,480.27 341.98,480.11 343.95,479.94 345.92,479.78 347.89,479.62 349.86,479.46 351.83,479.31 353.80,479.15 355.77,479.00 357.74,478.85 359.71,478.70 361.68,478.55 363.65,478.41 365.62,478.27 367.59,478.13 369.56,477.99 371.53,477.85 373.49,477.71 375.46,477.58 377.43,477.45 379.40,477.32 381.37,477.19 383.34,477.06 385.31,476.93 387.28,476.81 389.25,476.68 391.22,476.56 393.19,476.44 395.16,476.32 397.13,476.21 399.10,476.09 401.07,475.98 403.04,475.86 405.01,475.75 406.98,475.64 408.95,475.53 410.92,475.42 412.89,475.32 414.86,475.21 416.83,475.11 418.80,475.00 420.77,474.90 422.74,474.80 424.71,474.70 426.68,474.60 428.65,474.50 430.62,474.41 432.59,474.31 434.56,474.22 436.53,474.12 438.50,474.03" fill="none" stroke="#99BB33" stroke-width="1.25"/>
<circle cx="58.75" cy="670.52" r="1.70" fill="#99BB33"/>
<circle cx="64.88" cy="644.73" r="1.70" fill="#99BB33"/>
<circle cx="71.00" cy="624.17" r="1.70" fill="#99BB33"/>
<circle cx="77.12" cy="607.42" r="1.70" fill="#99BB33"/>
<circle cx="83.25" cy="593.52" r="1.70" fill="#99BB33"/>
<circle cx="89.38" cy="581.81" r="1.70" fill="#99BB33"/>
<circle cx="95.50" cy="571.81" r="1.70" fill="#99BB33"/>
<circle cx="101.62" cy="563.18" r="1.70" fill="#99BB33"/>
<circle cx="107.75" cy="555.66" r="1.70" fill="#99BB33"/>
<circle cx="113.88" cy="549.05" r="1.70" fill="#99BB33"/>
<circle cx="120.00" cy="543.20" r="1.70" fill="#99BB33"/>
<circle cx="126.12" cy="537.98" r="1.70" fill="#99BB33"/>
<circle cx="132.25" cy="533.31" r="1.70" fill="#99BB33"/>
<circle cx="138.38" cy="529.10" r="1.70" fill="#99BB33"/>
<circle cx="144.50" cy="525.29" r="1.70" fill="#99BB33"/>
<circle cx="150.62" cy="521.82" r="1.70" fill="#99BB33"/>
<circle cx="156.75" cy="518.66" r="1.70" fill="#99BB33"/>
<circle cx="162.88" cy="515.76" r="1.70" fill="#99BB33"/>
<circle cx="169.00" cy="513.10" r="1.70" fill="#99BB33"/>
<circle cx="175.12" cy="510.65" r="1.70" fill="#99BB33"/>
<circle cx="181.25" cy="508.38" r="1.70" fill="#99BB33"/>
<circle cx="187.38" cy="506.27" r="1.70" fill="#99BB33"/>
<circle cx="193.50" cy="504.32" r="1.70" fill="#99BB33"/>
<circle cx="199.62" cy="502.50" r="1.70" fill="#99BB33"/>
<circle cx="205.75" cy="500.80" r="1.70" fill="#99BB33"/>
<circle cx="211.88" cy="499.21" r="1.70" fill="#99BB33"/>
<circle cx="218.00" cy="497.72" r="1.70" fill="#99BB33"/>
<circle cx="224.12" cy="496.32" r="1.70" fill="#99BB33"/>
<circle cx="230.25" cy="495.00" r="1.70" fill="#99BB33"/>
<circle cx="236.38" cy="493.76" r="1.70" fill="#99BB33"/>
<circle cx="242.50" cy="492.60" r="1.70" fill="#99BB33"/>
<circle cx="248.62" cy="491.49" r="1.70" fill="#99BB33"/>
<circle cx="254.75" cy="490.45" r="1.70" fill="#99BB33"/>
<circle cx="260.88" cy="489.46" r="1.70" fill="#99BB33"/>
<circle cx="267.00" cy="488.53" r="1.70" fill="#99BB33"/>
<circle cx="273.12" cy="487.64" r="1.70" fill="#99BB33"/>
<circle cx="279.25" cy="486.79" r="1.70" fill="#99BB33"/>
<circle cx="285.38" cy="485.99" r="1.70" fill="#99BB33"/>
<circle cx="291.50" cy="485.23" r="1.70" fill="#99BB33"/>
<circle cx="297.62" cy="484.50" r="1.70" fill="#99BB33"/>
<circle cx="303.75" cy="483.80" r="1.70" fill="#99BB33"/>
<circle cx="309.88" cy="483.14" r="1.70" fill="#99BB33"/>
<circle cx="316.00" cy="482.51" r="1.70" fill="#99BB33"/>
<circle cx="322.12" cy="481.90" r="1.70" fill="#99BB33"/>
<circle cx="328.25" cy="481.32" r="1.70" fill="#99BB33"/>
<circle cx="334.38" cy="480.76" r="1.70" fill="#99BB33"/>
<circle cx="340.50" cy="480.23" r="1.70" fill="#99BB33"/>
<circle cx="346.62" cy="479.72" r="1.70" fill="#99BB33"/>
<circle cx="352.75" cy="479.23" r="1.70" fill="#99BB33"/>
<circle cx="358.88" cy="478.76" r="1.70" fill="#99BB33"/>
<circle cx="365.00" cy="478.31" r="1.70" fill="#99BB33"/>
<circle cx="371.12" cy="477.88" r="1.70" fill="#99BB33"/>
<circle cx="377.25" cy="477.46" r="1.70" fill="#99BB33"/>
<circle cx="383.38" cy="477.06" r="1.70" fill="#99BB33"/>
<circle cx="389.50" cy="476.67" r="1.70" fill="#99BB33"/>
<circle cx="395.62" cy="476.30" r="1.70" fill="#99BB33"/>
<circle cx="401.75" cy="475.94" r="1.70" fill="#99BB33"/>
<circle cx="407.88" cy="475.59" r="1.70" fill="#99BB33"/>
<circle cx="414.00" cy="475.26" r="1.70" fill="#99BB33"/>
<circle cx="420.12" cy="474.93" r="1.70" fill="#99BB33"/>
<circle cx="426.25" cy="474.62" r="1.70" fill="#99BB33"/>
<circle cx="432.38" cy="474.32" r="1.70" fill="#99BB33"/>
<circle cx="438.50" cy="474.03" r="1.70" fill="#99BB33"/>
<polyline points="46.50,616.85 48.47,607.67 50.44,599.39 52.41,591.88 54.38,585.05 56.35,578.81 58.32,573.09 60.29,567.82 62.26,562.96 64.23,558.45 66.20,554.27 68.17,550.37 70.14,546.74 72.11,543.34 74.08,540.16 76.05,537.17 78.02,534.36 79.99,531.71 81.96,529.21 83.93,526.85 85.90,524.61 87.87,522.49 89.84,520.48 91.81,518.57 93.78,516.75 95.75,515.02 97.72,513.37 99.69,511.79 101.66,510.28 103.63,508.84 105.60,507.47 107.57,506.15 109.54,504.88 111.51,503.67 113.47,502.50 115.44,501.38 117.41,500.30 119.38,499.26 121.35,498.27 123.32,497.30 125.29,496.38 127.26,495.48 129.23,494.62 131.20,493.79 133.17,492.98 135.14,492.20 137.11,491.45 139.08,490.72 141.05,490.01 143.02,489.33 144.99,488.67 146.96,488.02 148.93,487.40 150.90,486.80 152.87,486.21 154.84,485.64 156.81,485.09 158.78,484.55 160.75,484.03 162.72,483.52 164.69,483.03 166.66,482.55 168.63,482.08 170.60,481.62 172.57,481.18 174.54,480.75 176.51,480.33 178.48,479.92 180.45,479.52 182.42,479.13 184.39,478.75 186.36,478.38 188.33,478.01 190.30,477.66 192.27,477.31 194.24,476.98 196.21,476.65 198.18,476.33 200.15,476.01 202.12,475.70 204.09,475.40 206.06,475.11 208.03,474.82 210.00,474.54 211.97,474.26 213.94,473.99 215.91,473.73 217.88,473.47 219.85,473.22 221.82,472.97 223.79,472.73 225.76,472.49 227.73,472.26 229.70,472.03 231.67,471.81 233.64,471.59 235.61,471.37 237.58,471.16 239.55,470.95 241.52,470.75 243.48,470.55 245.45,470.36 247.42,470.16 249.39,469.98 251.36,469.79 253.33,469.61 255.30,469.43 257.27,469.26 259.24,469.09 261.21,468.92 263.18,468.75 265.15,468.59 267.12,468.43 269.09,468.27 271.06,468.12 273.03,467.97 275.00,467.82 276.97,467.67 278.94,467.53 280.91,467.39 282.88,467.25 284.85,467.11 286.82,466.97 288.79,466.84 290.76,466.71 292.73,466.58 294.70,466.46 296.67,466.33 298.64,466.21 300.61,466.09 302.58,465.97 304.55,465.85 306.52,465.74 308.49,465.63 310.46,465.52 312.43,465.41 314.40,465.30 316.37,465.19 318.34,465.09 320.31,464.98 322.28,464.88 324.25,464.78 326.22,464.68 328.19,464.59 330.16,464.49 332.13,464.40 334.10,464.30 336.07,464.21 338.04,464.12 340.01,464.03 341.98,463.95 343.95,463.86 345.92,463.77 347.89,463.69 349.86,463.61 351.83,463.52 353.80,463.44 355.77,463.36 357.74,463.29 359.71,463.21 361.68,463.13 363.65,463.06 365.62,462.98 367.59,462.91 369.56,462.84 371.53,462.77 373.49,462.70 375.46,462.63 377.43,462.56 379.40,462.49 381.37,462.42 383.34,462.36 385.31,462.29 387.28,462.23 389.25,462.17 391.22,462.10 393.19,462.04 395.16,461.98 397.13,461.92 399.10,461.86 401.07,461.80 403.04,461.74 405.01,461.69 406.98,461.63 408.95,461.57 410.92,461.52 412.89,461.47 414.86,461.41 416.83,461.36 418.80,461.31 420.77,461.25 422.74,461.20 424.71,461.15 426.68,461.10 428.65,461.05 430.62,461.01 432.59,460.96 434.56,460.91 436.53,460.86 438.50,460.82" fill="none" stroke="#808080" stroke-width="1.25"/>
<path d="M46.50,614.55L48.80,618.45L44.20,618.45Z" fill="#808080"/>
<path d="M52.62,588.80L54.92,592.70L50.33,592.70Z" fill="#808080"/>
<path d="M58.75,569.60L61.05,573.50L56.45,573.50Z" fill="#808080"/>
<path d="M64.88,554.74L67.17,558.64L62.58,558.64Z" fill="#808080"/>
<path d="M71.00,542.93L73.30,546.83L68.70,546.83Z" fill="#808080"/>
<path d="M77.12,533.31L79.42,537.21L74.83,537.21Z" fill="#808080"/>
<path d="M83.25,525.35L85.55,529.25L80.95,529.25Z" fill="#808080"/>
<path d="M89.38,518.64L91.67,522.54L87.08,522.54Z" fill="#808080"/>
<path d="M95.50,512.93L97.80,516.83L93.20,516.83Z" fill="#808080"/>
<path d="M101.62,508.01L103.92,511.91L99.33,511.91Z" fill="#808080"/>
<path d="M107.75,503.73L110.05,507.63L105.45,507.63Z" fill="#808080"/>
<path d="M113.88,499.97L116.17,503.87L111.58,503.87Z" fill="#808080"/>
<path d="M120.00,496.65L122.30,500.55L117.70,500.55Z" fill="#808080"/>
<path d="M126.12,493.70L128.43,497.60L123.83,497.60Z" fill="#808080"/>
<path d="M132.25,491.05L134.55,494.95L129.95,494.95Z" fill="#808080"/>
<path d="M138.38,488.68L140.68,492.58L136.07,492.58Z" fill="#808080"/>
<path d="M144.50,486.53L146.80,490.43L142.20,490.43Z" fill="#808080"/>
<path d="M150.62,484.58L152.93,488.48L148.32,488.48Z" fill="#808080"/>
<path d="M156.75,482.81L159.05,486.71L154.45,486.71Z" fill="#808080"/>
<path d="M162.88,481.18L165.18,485.08L160.57,485.08Z" fill="#808080"/>
<path d="M169.00,479.69L171.30,483.59L166.70,483.59Z" fill="#808080"/>
<path d="M175.12,478.32L177.43,482.22L172.82,482.22Z" fill="#808080"/>
<path d="M181.25,477.06L183.55,480.96L178.95,480.96Z" fill="#808080"/>
<path d="M187.38,475.89L189.68,479.79L185.07,479.79Z" fill="#808080"/>
<path d="M193.50,474.80L195.80,478.70L191.20,478.70Z" fill="#808080"/>
<path d="M199.62,473.79L201.93,477.69L197.32,477.69Z" fill="#808080"/>
<path d="M205.75,472.85L208.05,476.75L203.45,476.75Z" fill="#808080"/>
<path d="M211.88,471.98L214.18,475.88L209.57,475.88Z" fill="#808080"/>
<path d="M218.00,471.16L220.30,475.06L215.70,475.06Z" fill="#808080"/>
<path d="M224.12,470.39L226.43,474.29L221.82,474.29Z" fill="#808080"/>
<path d="M230.25,469.67L232.55,473.57L227.95,473.57Z" fill="#808080"/>
<path d="M236.38,468.99L238.68,472.89L234.07,472.89Z" fill="#808080"/>
<path d="M242.50,468.35L244.80,472.25L240.20,472.25Z" fill="#808080"/>
<path d="M248.62,467.75L250.93,471.65L246.32,471.65Z" fill="#808080"/>
<path d="M254.75,467.18L257.05,471.08L252.45,471.08Z" fill="#808080"/>
<path d="M260.88,466.65L263.18,470.55L258.57,470.55Z" fill="#808080"/>
<path d="M267.00,466.14L269.30,470.04L264.70,470.04Z" fill="#808080"/>
<path d="M273.12,465.66L275.43,469.56L270.82,469.56Z" fill="#808080"/>
<path d="M279.25,465.20L281.55,469.10L276.95,469.10Z" fill="#808080"/>
<path d="M285.38,464.77L287.68,468.67L283.07,468.67Z" fill="#808080"/>
<path d="M291.50,464.36L293.80,468.26L289.20,468.26Z" fill="#808080"/>
<path d="M297.62,463.97L299.93,467.87L295.32,467.87Z" fill="#808080"/>
<path d="M303.75,463.60L306.05,467.50L301.45,467.50Z" fill="#808080"/>
<path d="M309.88,463.25L312.18,467.15L307.57,467.15Z" fill="#808080"/>
<path d="M316.00,462.91L318.30,466.81L313.70,466.81Z" fill="#808080"/>
<path d="M322.12,462.59L324.43,466.49L319.82,466.49Z" fill="#808080"/>
<path d="M328.25,462.28L330.55,466.18L325.95,466.18Z" fill="#808080"/>
<path d="M334.38,461.99L336.68,465.89L332.07,465.89Z" fill="#808080"/>
<path d="M340.50,461.71L342.80,465.61L338.20,465.61Z" fill="#808080"/>
<path d="M346.62,461.44L348.93,465.34L344.32,465.34Z" fill="#808080"/>
<path d="M352.75,461.19L355.05,465.09L350.45,465.09Z" fill="#808080"/>
<path d="M358.88,460.94L361.18,464.84L356.57,464.84Z" fill="#808080"/>
<path d="M365.00,460.71L367.30,464.61L362.70,464.61Z" fill="#808080"/>
<path d="M371.12,460.48L373.43,464.38L368.82,464.38Z" fill="#808080"/>
<path d="M377.25,460.26L379.55,464.16L374.95,464.16Z" fill="#808080"/>
<path d="M383.38,460.06L385.68,463.96L381.07,463.96Z" fill="#808080"/>
<path d="M389.50,459.86L391.80,463.76L387.20,463.76Z" fill="#808080"/>
<path d="M395.62,459.67L397.93,463.57L393.32,463.57Z" fill="#808080"/>
<path d="M401.75,459.48L404.05,463.38L399.45,463.38Z" fill="#808080"/>
<path d="M407.88,459.31L410.18,463.21L405.57,463.21Z" fill="#808080"/>
<path d="M414.00,459.14L416.30,463.04L411.70,463.04Z" fill="#808080"/>
<path d="M420.12,458.97L422.43,462.87L417.82,462.87Z" fill="#808080"/>
<path d="M426.25,458.81L428.55,462.71L423.95,462.71Z" fill="#808080"/>
<path d="M432.38,458.66L434.68,462.56L430.07,462.56Z" fill="#808080"/>
<path d="M438.50,458.52L440.80,462.42L436.20,462.42Z" fill="#808080"/>
<polyline points="46.50,504.38 48.47,502.44 50.44,500.68 52.41,499.09 54.38,497.63 56.35,496.30 58.32,495.07 60.29,493.94 62.26,492.89 64.23,491.92 66.20,491.01 68.17,490.17 70.14,489.37 72.11,488.63 74.08,487.93 76.05,487.28 78.02,486.66 79.99,486.07 81.96,485.52 83.93,484.99 85.90,484.50 87.87,484.02 89.84,483.57 91.81,483.14 93.78,482.73 95.75,482.34 97.72,481.96 99.69,481.61 101.66,481.26 103.63,480.93 105.60,480.62 107.57,480.31 109.54,480.02 111.51,479.74 113.47,479.47 115.44,479.21 117.41,478.96 119.38,478.71 121.35,478.48 123.32,478.25 125.29,478.03 127.26,477.82 129.23,477.62 131.20,477.42 133.17,477.23 135.14,477.04 137.11,476.86 139.08,476.68 141.05,476.51 143.02,476.35 144.99,476.19 146.96,476.03 148.93,475.88 150.90,475.73 152.87,475.59 154.84,475.44 156.81,475.31 158.78,475.17 160.75,475.04 162.72,474.92 164.69,474.79 166.66,474.67 168.63,474.56 170.60,474.44 172.57,474.33 174.54,474.22 176.51,474.11 178.48,474.01 180.45,473.90 182.42,473.80 184.39,473.71 186.36,473.61 188.33,473.52 190.30,473.42 192.27,473.33 194.24,473.25 196.21,473.16 198.18,473.07 200.15,472.99 202.12,472.91 204.09,472.83 206.06,472.75 208.03,472.67 210.00,472.60 211.97,472.52 213.94,472.45 215.91,472.38 217.88,472.31 219.85,472.24 221.82,472.17 223.79,472.11 225.76,472.04 227.73,471.98 229.70,471.91 231.67,471.85 233.64,471.79 235.61,471.73 237.58,471.67 239.55,471.61 241.52,471.56 243.48,471.50 245.45,471.45 247.42,471.39 249.39,471.34 251.36,471.28 253.33,471.23 255.30,471.18 257.27,471.13 259.24,471.08 261.21,471.03 263.18,470.98 265.15,470.94 267.12,470.89 269.09,470.84 271.06,470.80 273.03,470.75 275.00,470.71 276.97,470.67 278.94,470.62 280.91,470.58 282.88,470.54 284.85,470.50 286.82,470.46 288.79,470.42 290.76,470.38 292.73,470.34 294.70,470.30 296.67,470.26 298.64,470.22 300.61,470.18 302.58,470.15 304.55,470.11 306.52,470.08 308.49,470.04 310.46,470.01 312.43,469.97 314.40,469.94 316.37,469.90 318.34,469.87 320.31,469.84 322.28,469.80 324.25,469.77 326.22,469.74 328.19,469.71 330.16,469.68 332.13,469.65 334.10,469.62 336.07,469.59 338.04,469.56 340.01,469.53 341.98,469.50 343.95,469.47 345.92,469.44 347.89,469.41 349.86,469.39 351.83,469.36 353.80,469.33 355.77,469.30 357.74,469.28 359.71,469.25 361.68,469.22 363.65,469.20 365.62,469.17 367.59,469.15 369.56,469.12 371.53,469.10 373.49,469.07 375.46,469.05 377.43,469.02 379.40,469.00 381.37,468.98 383.34,468.95 385.31,468.93 387.28,468.91 389.25,468.88 391.22,468.86 393.19,468.84 395.16,468.82 397.13,468.80 399.10,468.77 401.07,468.75 403.04,468.73 405.01,468.71 406.98,468.69 408.95,468.67 410.92,468.65 412.89,468.63 414.86,468.61 416.83,468.59 418.80,468.57 420.77,468.55 422.74,468.53 424.71,468.51 426.68,468.49 428.65,468.47 430.62,468.45 432.59,468.43 434.56,468.42 436.53,468.40 438.50,468.38" fill="none" stroke="#996666" stroke-width="1.25"/>
<path d="M46.50,506.68L48.80,502.78L44.20,502.78Z" fill="#996666"/>
<path d="M52.62,501.22L54.92,497.32L50.33,497.32Z" fill="#996666"/>
<path d="M58.75,497.12L61.05,493.22L56.45,493.22Z" fill="#996666"/>
<path d="M64.88,493.91L67.17,490.01L62.58,490.01Z" fill="#996666"/>
<path d="M71.00,491.34L73.30,487.44L68.70,487.44Z" fill="#996666"/>
<path d="M77.12,489.23L79.42,485.33L74.83,485.33Z" fill="#996666"/>
<path d="M83.25,487.47L85.55,483.57L80.95,483.57Z" fill="#996666"/>
<path d="M89.38,485.97L91.67,482.07L87.08,482.07Z" fill="#996666"/>
<path d="M95.50,484.69L97.80,480.79L93.20,480.79Z" fill="#996666"/>
<path d="M101.62,483.57L103.92,479.67L99.33,479.67Z" fill="#996666"/>
<path d="M107.75,482.59L110.05,478.69L105.45,478.69Z" fill="#996666"/>
<path d="M113.88,481.72L116.17,477.82L111.58,477.82Z" fill="#996666"/>
<path d="M120.00,480.94L122.30,477.04L117.70,477.04Z" fill="#996666"/>
<path d="M126.12,480.24L128.43,476.34L123.83,476.34Z" fill="#996666"/>
<path d="M132.25,479.62L134.55,475.72L129.95,475.72Z" fill="#996666"/>
<path d="M138.38,479.05L140.68,475.15L136.07,475.15Z" fill="#996666"/>
<path d="M144.50,478.53L146.80,474.63L142.20,474.63Z" fill="#996666"/>
<path d="M150.62,478.05L152.93,474.15L148.32,474.15Z" fill="#996666"/>
<path d="M156.75,477.61L159.05,473.71L154.45,473.71Z" fill="#996666"/>
<path d="M162.88,477.21L165.18,473.31L160.57,473.31Z" fill="#996666"/>
<path d="M169.00,476.83L171.30,472.93L166.70,472.93Z" fill="#996666"/>
<path d="M175.12,476.49L177.43,472.59L172.82,472.59Z" fill="#996666"/>
<path d="M181.25,476.16L183.55,472.26L178.95,472.26Z" fill="#996666"/>
<path d="M187.38,475.86L189.68,471.96L185.07,471.96Z" fill="#996666"/>
<path d="M193.50,475.58L195.80,471.68L191.20,471.68Z" fill="#996666"/>
<path d="M199.62,475.31L201.93,471.41L197.32,471.41Z" fill="#996666"/>
<path d="M205.75,475.06L208.05,471.16L203.45,471.16Z" fill="#996666"/>
<path d="M211.88,474.83L214.18,470.93L209.57,470.93Z" fill="#996666"/>
<path d="M218.00,474.61L220.30,470.71L215.70,470.71Z" fill="#996666"/>
<path d="M224.12,474.40L226.43,470.50L221.82,470.50Z" fill="#996666"/>
<path d="M230.25,474.20L232.55,470.30L227.95,470.30Z" fill="#996666"/>
<path d="M236.38,474.01L238.68,470.11L234.07,470.11Z" fill="#996666"/>
<path d="M242.50,473.83L244.80,469.93L240.20,469.93Z" fill="#996666"/>
<path d="M248.62,473.66L250.93,469.76L246.32,469.76Z" fill="#996666"/>
<path d="M254.75,473.50L257.05,469.60L252.45,469.60Z" fill="#996666"/>
<path d="M260.88,473.34L263.18,469.44L258.57,469.44Z" fill="#996666"/>
<path d="M267.00,473.19L269.30,469.29L264.70,469.29Z" fill="#996666"/>
<path d="M273.12,473.05L275.43,469.15L270.82,469.15Z" fill="#996666"/>
<path d="M279.25,472.92L281.55,469.02L276.95,469.02Z" fill="#996666"/>
<path d="M285.38,472.79L287.68,468.89L283.07,468.89Z" fill="#996666"/>
<path d="M291.50,472.66L293.80,468.76L289.20,468.76Z" fill="#996666"/>
<path d="M297.62,472.54L299.93,468.64L295.32,468.64Z" fill="#996666"/>
<path d="M303.75,472.43L306.05,468.53L301.45,468.53Z" fill="#996666"/>
<path d="M309.88,472.32L312.18,468.42L307.57,468.42Z" fill="#996666"/>
<path d="M316.00,472.21L318.30,468.31L313.70,468.31Z" fill="#996666"/>
<path d="M322.12,472.11L324.43,468.21L319.82,468.21Z" fill="#996666"/>
<path d="M328.25,472.01L330.55,468.11L325.95,468.11Z" fill="#996666"/>
<path d="M334.38,471.91L336.68,468.01L332.07,468.01Z" fill="#996666"/>
<path d="M340.50,471.82L342.80,467.92L338.20,467.92Z" fill="#996666"/>
<path d="M346.62,471.73L348.93,467.83L344.32,467.83Z" fill="#996666"/>
<path d="M352.75,471.64L355.05,467.74L350.45,467.74Z" fill="#996666"/>
<path d="M358.88,471.56L361.18,467.66L356.57,467.66Z" fill="#996666"/>
<path d="M365.00,471.48L367.30,467.58L362.70,467.58Z" fill="#996666"/>
<path d="M371.12,471.40L373.43,467.50L368.82,467.50Z" fill="#996666"/>
<path d="M377.25,471.33L379.55,467.43L374.95,467.43Z" fill="#996666"/>
<path d="M383.38,471.25L385.68,467.35L381.07,467.35Z" fill="#996666"/>
<path d="M389.50,471.18L391.80,467.28L387.20,467.28Z" fill="#996666"/>
<path d="M395.62,471.11L397.93,467.21L393.32,467.21Z" fill="#996666"/>
<path d="M401.75,471.05L404.05,467.15L399.45,467.15Z" fill="#996666"/>
<path d="M407.88,470.98L410.18,467.08L405.57,467.08Z" fill="#996666"/>
<path d="M414.00,470.92L416.30,467.02L411.70,467.02Z" fill="#996666"/>
<path d="M420.12,470.85L422.43,466.95L417.82,466.95Z" fill="#996666"/>
<path d="M426.25,470.79L428.55,466.89L423.95,466.89Z" fill="#996666"/>
<path d="M432.38,470.74L434.68,466.84L430.07,466.84Z" fill="#996666"/>
<path d="M438.50,470.68L440.80,466.78L436.20,466.78Z" fill="#996666"/>
</g>
<rect x="46.5" y="402.5" width="392.0" height="288.0" fill="none" stroke="#000" stroke-width="1.15"/>
<path d="M40.80,690.50H46.5" stroke="#000" stroke-width="1.1"/>
<text x="37.30" y="694.40" text-anchor="end" font-size="11.5">-50</text>
<path d="M43.50,676.50H46.5" stroke="#000" stroke-width="1.1"/>
<path d="M40.80,661.50H46.5" stroke="#000" stroke-width="1.1"/>
<text x="37.30" y="665.40" text-anchor="end" font-size="11.5">-40</text>
<path d="M43.50,647.50H46.5" stroke="#000" stroke-width="1.1"/>
<path d="M40.80,632.50H46.5" stroke="#000" stroke-width="1.1"/>
<text x="37.30" y="636.40" text-anchor="end" font-size="11.5">-30</text>
<path d="M43.50,618.50H46.5" stroke="#000" stroke-width="1.1"/>
<path d="M40.80,604.50H46.5" stroke="#000" stroke-width="1.1"/>
<text x="37.30" y="608.40" text-anchor="end" font-size="11.5">-20</text>
<path d="M43.50,589.50H46.5" stroke="#000" stroke-width="1.1"/>
<path d="M40.80,575.50H46.5" stroke="#000" stroke-width="1.1"/>
<text x="37.30" y="579.40" text-anchor="end" font-size="11.5">-10</text>
<path d="M43.50,560.50H46.5" stroke="#000" stroke-width="1.1"/>
<path d="M40.80,546.50H46.5" stroke="#000" stroke-width="1.1"/>
<text x="37.30" y="550.40" text-anchor="end" font-size="11.5">0</text>
<path d="M43.50,532.50H46.5" stroke="#000" stroke-width="1.1"/>
<path d="M40.80,517.50H46.5" stroke="#000" stroke-width="1.1"/>
<text x="37.30" y="521.40" text-anchor="end" font-size="11.5">10</text>
<path d="M43.50,503.50H46.5" stroke="#000" stroke-width="1.1"/>
<path d="M40.80,488.50H46.5" stroke="#000" stroke-width="1.1"/>
<text x="37.30" y="492.40" text-anchor="end" font-size="11.5">20</text>
<path d="M43.50,474.50H46.5" stroke="#000" stroke-width="1.1"/>
<path d="M40.80,460.50H46.5" stroke="#000" stroke-width="1.1"/>
<text x="37.30" y="464.40" text-anchor="end" font-size="11.5">30</text>
<path d="M43.50,445.50H46.5" stroke="#000" stroke-width="1.1"/>
<path d="M40.80,431.50H46.5" stroke="#000" stroke-width="1.1"/>
<text x="37.30" y="435.40" text-anchor="end" font-size="11.5">40</text>
<path d="M43.50,416.50H46.5" stroke="#000" stroke-width="1.1"/>
<path d="M40.80,402.50H46.5" stroke="#000" stroke-width="1.1"/>
<text x="37.30" y="406.40" text-anchor="end" font-size="11.5">50</text>
<path d="M71.50,690.5V695.80" stroke="#000" stroke-width="1.1"/>
<text x="71.50" y="708.70" text-anchor="middle" font-size="11.5">500</text>
<path d="M101.50,690.5V693.50" stroke="#000" stroke-width="1.1"/>
<path d="M132.50,690.5V695.80" stroke="#000" stroke-width="1.1"/>
<text x="132.50" y="708.70" text-anchor="middle" font-size="11.5">1000</text>
<path d="M162.50,690.5V693.50" stroke="#000" stroke-width="1.1"/>
<path d="M193.50,690.5V695.80" stroke="#000" stroke-width="1.1"/>
<text x="193.50" y="708.70" text-anchor="middle" font-size="11.5">1500</text>
<path d="M224.50,690.5V693.50" stroke="#000" stroke-width="1.1"/>
<path d="M254.50,690.5V695.80" stroke="#000" stroke-width="1.1"/>
<text x="254.50" y="708.70" text-anchor="middle" font-size="11.5">2000</text>
<path d="M285.50,690.5V693.50" stroke="#000" stroke-width="1.1"/>
<path d="M316.50,690.5V695.80" stroke="#000" stroke-width="1.1"/>
<text x="316.50" y="708.70" text-anchor="middle" font-size="11.5">2500</text>
<path d="M346.50,690.5V693.50" stroke="#000" stroke-width="1.1"/>
<path d="M377.50,690.5V695.80" stroke="#000" stroke-width="1.1"/>
<text x="377.50" y="708.70" text-anchor="middle" font-size="11.5">3000</text>
<path d="M407.50,690.5V693.50" stroke="#000" stroke-width="1.1"/>
<path d="M438.50,690.5V695.80" stroke="#000" stroke-width="1.1"/>
<text x="438.50" y="708.70" text-anchor="middle" font-size="11.5">3500</text>
<text transform="translate(15.3,546.20) rotate(-90)" text-anchor="middle" font-size="14">ln(k)</text>
<text x="243.10" y="731.80" text-anchor="middle" font-size="14" letter-spacing="0.18">Temperature(K)</text>
<text x="238" y="358.60" text-anchor="middle" font-size="17">(a)</text>
<text x="238" y="756.30" text-anchor="middle" font-size="17">(b)</text>
<rect x="444.5" y="3.5" width="70.0" height="196.0" fill="#fff" stroke="#707070" stroke-width="1"/>
<path d="M451.5,15.50H483.8" stroke="#000000" stroke-width="1.2"/>
<rect x="466.05" y="13.90" width="3.20" height="3.20" fill="#000000"/>
<text x="487.5" y="20.10" font-size="14">R1</text>
<path d="M451.5,33.50H483.8" stroke="#FF0000" stroke-width="1.2"/>
<circle cx="467.65" cy="33.50" r="1.70" fill="#FF0000"/>
<text x="487.5" y="38.10" font-size="14">R2</text>
<path d="M451.5,50.50H483.8" stroke="#0000FF" stroke-width="1.2"/>
<path d="M467.65,48.20L469.95,52.10L465.35,52.10Z" fill="#0000FF"/>
<text x="487.5" y="55.10" font-size="14">R3</text>
<path d="M451.5,68.50H483.8" stroke="#008000" stroke-width="1.2"/>
<path d="M467.65,65.90L469.75,68.50L467.65,71.10L465.55,68.50Z" fill="#008000"/>
<text x="487.5" y="73.10" font-size="14">R4</text>
<path d="M451.5,85.50H483.8" stroke="#FF00FF" stroke-width="1.2"/>
<path d="M467.65,87.80L469.95,83.90L465.35,83.90Z" fill="#FF00FF"/>
<text x="487.5" y="90.10" font-size="14">R10</text>
<path d="M451.5,103.50H483.8" stroke="#000080" stroke-width="1.2"/>
<path d="M465.35,103.50L469.25,101.20L469.25,105.80Z" fill="#000080"/>
<text x="487.5" y="108.10" font-size="14">R15</text>
<path d="M451.5,121.50H483.8" stroke="#8000FF" stroke-width="1.2"/>
<path d="M469.95,121.50L466.05,119.20L466.05,123.80Z" fill="#8000FF"/>
<text x="487.5" y="126.10" font-size="14">R16</text>
<path d="M451.5,138.50H483.8" stroke="#800080" stroke-width="1.2"/>
<polygon points="469.38,139.50 467.65,140.50 465.92,139.50 465.92,137.50 467.65,136.50 469.38,137.50" fill="#800080"/>
<text x="487.5" y="143.10" font-size="14">R21</text>
<path d="M451.5,156.50H483.8" stroke="#800000" stroke-width="1.2"/>
<polygon points="467.65,154.30 468.18,155.77 469.74,155.82 468.51,156.78 468.94,158.28 467.65,157.40 466.36,158.28 466.79,156.78 465.56,155.82 467.12,155.77" fill="#800000"/>
<text x="487.5" y="161.10" font-size="14">R22</text>
<path d="M451.5,173.50H483.8" stroke="#808000" stroke-width="1.2"/>
<polygon points="467.65,171.50 469.55,172.88 468.83,175.12 466.47,175.12 465.75,172.88" fill="#808000"/>
<text x="487.5" y="178.10" font-size="14">R24</text>
<path d="M451.5,191.50H483.8" stroke="#3C78B8" stroke-width="1.2"/>
<circle cx="467.65" cy="191.50" r="1.90" fill="#3C78B8"/><circle cx="467.15" cy="191.00" r="0.70" fill="#9cc"/>
<text x="487.5" y="196.10" font-size="14">R27</text>
<rect x="450.5" y="373.5" width="68.0" height="351.0" fill="#fff" stroke="#707070" stroke-width="1"/>
<path d="M456.2,383.50H488.9" stroke="#000000" stroke-width="1.2"/>
<rect x="470.95" y="381.90" width="3.20" height="3.20" fill="#000000"/>
<text x="492.3" y="388.10" font-size="14">R5</text>
<path d="M456.2,401.50H488.9" stroke="#FF0000" stroke-width="1.2"/>
<circle cx="472.55" cy="401.50" r="1.70" fill="#FF0000"/>
<text x="492.3" y="406.10" font-size="14">R6</text>
<path d="M456.2,418.50H488.9" stroke="#0000FF" stroke-width="1.2"/>
<path d="M472.55,416.20L474.85,420.10L470.25,420.10Z" fill="#0000FF"/>
<text x="492.3" y="423.10" font-size="14">R7</text>
<path d="M456.2,436.50H488.9" stroke="#FF00FF" stroke-width="1.2"/>
<path d="M472.55,438.80L474.85,434.90L470.25,434.90Z" fill="#FF00FF"/>
<text x="492.3" y="441.10" font-size="14">R8</text>
<path d="M456.2,453.50H488.9" stroke="#008000" stroke-width="1.2"/>
<path d="M472.55,450.90L474.65,453.50L472.55,456.10L470.45,453.50Z" fill="#008000"/>
<text x="492.3" y="458.10" font-size="14">R9</text>
<path d="M456.2,471.50H488.9" stroke="#000080" stroke-width="1.2"/>
<path d="M470.25,471.50L474.15,469.20L474.15,473.80Z" fill="#000080"/>
<text x="492.3" y="476.10" font-size="14">R11</text>
<path d="M456.2,488.50H488.9" stroke="#8000FF" stroke-width="1.2"/>
<path d="M474.85,488.50L470.95,486.20L470.95,490.80Z" fill="#8000FF"/>
<text x="492.3" y="493.10" font-size="14">R12</text>
<path d="M456.2,506.50H488.9" stroke="#800080" stroke-width="1.2"/>
<polygon points="474.28,507.50 472.55,508.50 470.82,507.50 470.82,505.50 472.55,504.50 474.28,505.50" fill="#800080"/>
<text x="492.3" y="511.10" font-size="14">R13</text>
<path d="M456.2,523.50H488.9" stroke="#800000" stroke-width="1.2"/>
<polygon points="472.55,521.30 473.08,522.77 474.64,522.82 473.41,523.78 473.84,525.28 472.55,524.40 471.26,525.28 471.69,523.78 470.46,522.82 472.02,522.77" fill="#800000"/>
<text x="492.3" y="528.10" font-size="14">R14</text>
<path d="M456.2,541.50H488.9" stroke="#808000" stroke-width="1.2"/>
<polygon points="472.55,539.50 474.45,540.88 473.73,543.12 471.37,543.12 470.65,540.88" fill="#808000"/>
<text x="492.3" y="546.10" font-size="14">R17</text>
<path d="M456.2,559.50H488.9" stroke="#3366AA" stroke-width="1.2"/>
<circle cx="472.55" cy="559.50" r="1.90" fill="#3366AA"/><circle cx="472.05" cy="559.00" r="0.70" fill="#9cc"/>
<text x="492.3" y="564.10" font-size="14">R18</text>
<path d="M456.2,576.50H488.9" stroke="#2E8B8B" stroke-width="1.2"/>
<path d="M472.55,574.50V578.50" stroke="#2E8B8B" stroke-width="0.8"/>
<text x="492.3" y="581.10" font-size="14">R19</text>
<path d="M456.2,594.50H488.9" stroke="#A87B3C" stroke-width="1.2"/>
<path d="M470.95,592.90L474.15,596.10M474.15,592.90L470.95,596.10" stroke="#A87B3C" stroke-width="0.8"/>
<text x="492.3" y="599.10" font-size="14">R20</text>
<path d="M456.2,611.50H488.9" stroke="#28B444" stroke-width="1.2"/>
<path d="M471.43,610.38L473.67,612.62M473.67,610.38L471.43,612.62" stroke="#28B444" stroke-width="0.8"/>
<text x="492.3" y="616.10" font-size="14">R23</text>
<path d="M456.2,629.50H488.9" stroke="#CC3366" stroke-width="1.2"/>
<path d="M470.55,629.50H474.55" stroke="#CC3366" stroke-width="0.8"/>
<text x="492.3" y="634.10" font-size="14">R25</text>
<path d="M456.2,646.50H488.9" stroke="#3CC0B4" stroke-width="1.2"/>

<text x="492.3" y="651.10" font-size="14">R26</text>
<path d="M456.2,664.50H488.9" stroke="#333399" stroke-width="1.2"/>
<rect x="470.95" y="662.90" width="3.20" height="3.20" fill="#333399"/>
<text x="492.3" y="669.10" font-size="14">R28</text>
<path d="M456.2,681.50H488.9" stroke="#99BB33" stroke-width="1.2"/>
<circle cx="472.55" cy="681.50" r="1.70" fill="#99BB33"/>
<text x="492.3" y="686.10" font-size="14">R29</text>
<path d="M456.2,699.50H488.9" stroke="#808080" stroke-width="1.2"/>
<path d="M472.55,697.20L474.85,701.10L470.25,701.10Z" fill="#808080"/>
<text x="492.3" y="704.10" font-size="14">R30</text>
<path d="M456.2,716.50H488.9" stroke="#996666" stroke-width="1.2"/>
<path d="M472.55,718.80L474.85,714.90L470.25,714.90Z" fill="#996666"/>
<text x="492.3" y="721.10" font-size="14">R31</text>
</svg></body></html>
